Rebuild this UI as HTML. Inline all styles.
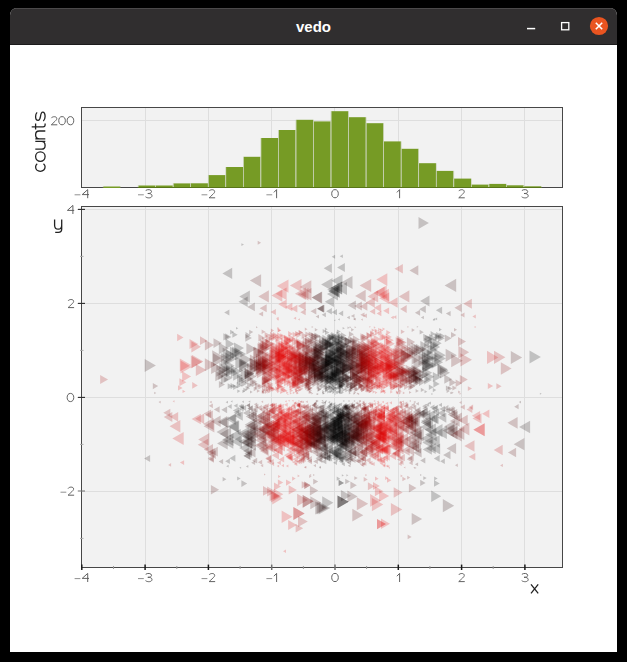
<!DOCTYPE html>
<html><head><meta charset="utf-8"><title>vedo</title>
<style>
html,body{margin:0;padding:0;background:#000;}
body{width:627px;height:662px;overflow:hidden;position:relative;font-family:"Liberation Sans",sans-serif;}
#win{position:absolute;left:10px;top:8px;width:607px;height:644px;background:#fff;border-radius:7px 7px 0 0;overflow:hidden;}
#tb{position:absolute;left:0;top:0;width:607px;height:36px;background:#302e2f;border-bottom:1px solid #1c1b1c;box-shadow:inset 0 1px 0 #4b494a;}
#tt{position:absolute;left:0;top:0;width:607px;height:36px;line-height:37px;text-align:center;color:#fff;font-weight:bold;font-size:15px;letter-spacing:0px;}
#plot{position:absolute;left:0;top:0;}
</style></head><body>
<div id="win"><div id="tb"></div><div id="tt">vedo</div></div>
<svg id="plot" width="627" height="662" viewBox="0 0 627 662">
<defs><clipPath id="cp"><rect x="82" y="207" width="480" height="360"/></clipPath></defs>
<!-- window buttons -->
<path d="M527 28.6H535.2" stroke="#fff" stroke-width="1.5"/>
<rect x="561.6" y="22.6" width="7.2" height="7.2" fill="none" stroke="#fff" stroke-width="1.3"/>
<circle cx="599" cy="26" r="9.1" fill="#e95420"/>
<path d="M595.8 22.8L602.2 29.2M602.2 22.8L595.8 29.2" stroke="#fff" stroke-width="1.6" fill="none"/>
<rect x="81.5" y="107.5" width="481" height="80" fill="#f2f2f2"/>
<line x1="145.5" y1="108" x2="145.5" y2="187" stroke="#dedede"/>
<line x1="208.5" y1="108" x2="208.5" y2="187" stroke="#dedede"/>
<line x1="271.5" y1="108" x2="271.5" y2="187" stroke="#dedede"/>
<line x1="334.5" y1="108" x2="334.5" y2="187" stroke="#dedede"/>
<line x1="398.5" y1="108" x2="398.5" y2="187" stroke="#dedede"/>
<line x1="461.5" y1="108" x2="461.5" y2="187" stroke="#dedede"/>
<line x1="524.5" y1="108" x2="524.5" y2="187" stroke="#dedede"/>
<line x1="82" y1="120.5" x2="562" y2="120.5" stroke="#dedede"/>
<rect x="81.5" y="107.5" width="481" height="80" fill="none" stroke="#474747"/>
<rect x="103.30" y="186.50" width="16.94" height="1.50" fill="#769b25"/>
<rect x="102.70" y="186.50" width="0.6" height="0.70" fill="#c3cdb0"/>
<rect x="120.24" y="186.50" width="0.6" height="0.70" fill="#c3cdb0"/>
<rect x="138.38" y="185.50" width="16.94" height="2.50" fill="#769b25"/>
<rect x="137.78" y="185.50" width="0.6" height="1.70" fill="#c3cdb0"/>
<rect x="155.32" y="185.50" width="0.6" height="1.70" fill="#c3cdb0"/>
<rect x="155.92" y="185.50" width="16.94" height="2.50" fill="#769b25"/>
<rect x="155.32" y="185.50" width="0.6" height="1.70" fill="#c3cdb0"/>
<rect x="172.86" y="185.50" width="0.6" height="1.70" fill="#c3cdb0"/>
<rect x="173.46" y="183.40" width="16.94" height="4.60" fill="#769b25"/>
<rect x="172.86" y="183.40" width="0.6" height="3.80" fill="#c3cdb0"/>
<rect x="190.40" y="183.40" width="0.6" height="3.80" fill="#c3cdb0"/>
<rect x="191.00" y="183.30" width="16.94" height="4.70" fill="#769b25"/>
<rect x="190.40" y="183.30" width="0.6" height="3.90" fill="#c3cdb0"/>
<rect x="207.94" y="183.30" width="0.6" height="3.90" fill="#c3cdb0"/>
<rect x="208.54" y="175.10" width="16.94" height="12.90" fill="#769b25"/>
<rect x="207.94" y="175.10" width="0.6" height="12.10" fill="#c3cdb0"/>
<rect x="225.48" y="175.10" width="0.6" height="12.10" fill="#c3cdb0"/>
<rect x="226.08" y="167.00" width="16.94" height="21.00" fill="#769b25"/>
<rect x="225.48" y="167.00" width="0.6" height="20.20" fill="#c3cdb0"/>
<rect x="243.02" y="167.00" width="0.6" height="20.20" fill="#c3cdb0"/>
<rect x="243.62" y="156.80" width="16.94" height="31.20" fill="#769b25"/>
<rect x="243.02" y="156.80" width="0.6" height="30.40" fill="#c3cdb0"/>
<rect x="260.56" y="156.80" width="0.6" height="30.40" fill="#c3cdb0"/>
<rect x="261.16" y="138.00" width="16.94" height="50.00" fill="#769b25"/>
<rect x="260.56" y="138.00" width="0.6" height="49.20" fill="#c3cdb0"/>
<rect x="278.10" y="138.00" width="0.6" height="49.20" fill="#c3cdb0"/>
<rect x="278.70" y="130.00" width="16.94" height="58.00" fill="#769b25"/>
<rect x="278.10" y="130.00" width="0.6" height="57.20" fill="#c3cdb0"/>
<rect x="295.64" y="130.00" width="0.6" height="57.20" fill="#c3cdb0"/>
<rect x="296.24" y="119.80" width="16.94" height="68.20" fill="#769b25"/>
<rect x="295.64" y="119.80" width="0.6" height="67.40" fill="#c3cdb0"/>
<rect x="313.18" y="119.80" width="0.6" height="67.40" fill="#c3cdb0"/>
<rect x="313.78" y="121.40" width="16.94" height="66.60" fill="#769b25"/>
<rect x="313.18" y="121.40" width="0.6" height="65.80" fill="#c3cdb0"/>
<rect x="330.72" y="121.40" width="0.6" height="65.80" fill="#c3cdb0"/>
<rect x="331.32" y="111.20" width="16.94" height="76.80" fill="#769b25"/>
<rect x="330.72" y="111.20" width="0.6" height="76.00" fill="#c3cdb0"/>
<rect x="348.26" y="111.20" width="0.6" height="76.00" fill="#c3cdb0"/>
<rect x="348.86" y="117.20" width="16.94" height="70.80" fill="#769b25"/>
<rect x="348.26" y="117.20" width="0.6" height="70.00" fill="#c3cdb0"/>
<rect x="365.80" y="117.20" width="0.6" height="70.00" fill="#c3cdb0"/>
<rect x="366.40" y="123.20" width="16.94" height="64.80" fill="#769b25"/>
<rect x="365.80" y="123.20" width="0.6" height="64.00" fill="#c3cdb0"/>
<rect x="383.34" y="123.20" width="0.6" height="64.00" fill="#c3cdb0"/>
<rect x="383.94" y="141.40" width="16.94" height="46.60" fill="#769b25"/>
<rect x="383.34" y="141.40" width="0.6" height="45.80" fill="#c3cdb0"/>
<rect x="400.88" y="141.40" width="0.6" height="45.80" fill="#c3cdb0"/>
<rect x="401.48" y="148.80" width="16.94" height="39.20" fill="#769b25"/>
<rect x="400.88" y="148.80" width="0.6" height="38.40" fill="#c3cdb0"/>
<rect x="418.42" y="148.80" width="0.6" height="38.40" fill="#c3cdb0"/>
<rect x="419.02" y="163.20" width="16.94" height="24.80" fill="#769b25"/>
<rect x="418.42" y="163.20" width="0.6" height="24.00" fill="#c3cdb0"/>
<rect x="435.96" y="163.20" width="0.6" height="24.00" fill="#c3cdb0"/>
<rect x="436.56" y="170.90" width="16.94" height="17.10" fill="#769b25"/>
<rect x="435.96" y="170.90" width="0.6" height="16.30" fill="#c3cdb0"/>
<rect x="453.50" y="170.90" width="0.6" height="16.30" fill="#c3cdb0"/>
<rect x="454.10" y="178.60" width="16.94" height="9.40" fill="#769b25"/>
<rect x="453.50" y="178.60" width="0.6" height="8.60" fill="#c3cdb0"/>
<rect x="471.04" y="178.60" width="0.6" height="8.60" fill="#c3cdb0"/>
<rect x="471.64" y="184.60" width="16.94" height="3.40" fill="#769b25"/>
<rect x="471.04" y="184.60" width="0.6" height="2.60" fill="#c3cdb0"/>
<rect x="488.58" y="184.60" width="0.6" height="2.60" fill="#c3cdb0"/>
<rect x="489.18" y="183.90" width="16.94" height="4.10" fill="#769b25"/>
<rect x="488.58" y="183.90" width="0.6" height="3.30" fill="#c3cdb0"/>
<rect x="506.12" y="183.90" width="0.6" height="3.30" fill="#c3cdb0"/>
<rect x="506.72" y="185.30" width="16.94" height="2.70" fill="#769b25"/>
<rect x="506.12" y="185.30" width="0.6" height="1.90" fill="#c3cdb0"/>
<rect x="523.66" y="185.30" width="0.6" height="1.90" fill="#c3cdb0"/>
<rect x="524.26" y="186.30" width="16.94" height="1.70" fill="#769b25"/>
<rect x="523.66" y="186.30" width="0.6" height="0.90" fill="#c3cdb0"/>
<rect x="541.20" y="186.30" width="0.6" height="0.90" fill="#c3cdb0"/>
<line x1="138.1" y1="187.5" x2="541.5" y2="187.5" stroke="#587519"/>
<g fill="none" stroke-width="0.95" stroke-linecap="butt" stroke-linejoin="miter"><path transform="translate(74.60 189.20) scale(1.000)" d="M0 5.6H5.8" stroke="#8a8a8a"/><path transform="translate(81.80 189.20) scale(1.000)" d="M5.9 9V0.4L0.4 5.4H7.2" stroke="#5a5a5a"/></g>
<g fill="none" stroke-width="0.95" stroke-linecap="butt" stroke-linejoin="miter"><path transform="translate(138.00 189.20) scale(1.000)" d="M0 5.6H5.8" stroke="#8a8a8a"/><path transform="translate(145.20 189.20) scale(1.000)" d="M0.5 1.3C2 0 6.3 0 6.3 2.3C6.3 4 4.5 4.3 2.6 4.3C4.8 4.3 6.8 4.8 6.8 6.5C6.8 9.2 2 9.2 0.3 7.6" stroke="#5a5a5a"/></g>
<g fill="none" stroke-width="0.95" stroke-linecap="butt" stroke-linejoin="miter"><path transform="translate(201.55 189.20) scale(1.000)" d="M0 5.6H5.8" stroke="#8a8a8a"/><path transform="translate(208.75 189.20) scale(1.000)" d="M0.4 1.9C1.2 0.2 5.9 -0.3 5.9 2.4C5.9 3.6 5 4.3 0.4 8.6H6.4" stroke="#5a5a5a"/></g>
<g fill="none" stroke-width="0.95" stroke-linecap="butt" stroke-linejoin="miter"><path transform="translate(266.40 189.20) scale(1.000)" d="M0 5.6H5.8" stroke="#8a8a8a"/><path transform="translate(273.60 189.20) scale(1.000)" d="M0.3 3.2L3 0.4V9" stroke="#5a5a5a"/></g>
<g fill="none" stroke-width="0.95" stroke-linecap="butt" stroke-linejoin="miter"><path transform="translate(331.25 189.20) scale(1.000)" d="M3.75 0.4C1.55 0.4 0.45 2.2 0.45 4.5C0.45 6.8 1.55 8.6 3.75 8.6C5.95 8.6 7.05 6.8 7.05 4.5C7.05 2.2 5.95 0.4 3.75 0.4Z" stroke="#5a5a5a"/></g>
<g fill="none" stroke-width="0.95" stroke-linecap="butt" stroke-linejoin="miter"><path transform="translate(396.60 189.20) scale(1.000)" d="M0.3 3.2L3 0.4V9" stroke="#5a5a5a"/></g>
<g fill="none" stroke-width="0.95" stroke-linecap="butt" stroke-linejoin="miter"><path transform="translate(458.35 189.20) scale(1.000)" d="M0.4 1.9C1.2 0.2 5.9 -0.3 5.9 2.4C5.9 3.6 5 4.3 0.4 8.6H6.4" stroke="#5a5a5a"/></g>
<g fill="none" stroke-width="0.95" stroke-linecap="butt" stroke-linejoin="miter"><path transform="translate(521.40 189.20) scale(1.000)" d="M0.5 1.3C2 0 6.3 0 6.3 2.3C6.3 4 4.5 4.3 2.6 4.3C4.8 4.3 6.8 4.8 6.8 6.5C6.8 9.2 2 9.2 0.3 7.6" stroke="#5a5a5a"/></g>
<g fill="none" stroke-width="0.95" stroke-linecap="butt" stroke-linejoin="miter"><path transform="translate(50.90 116.20) scale(1.000)" d="M0.4 1.9C1.2 0.2 5.9 -0.3 5.9 2.4C5.9 3.6 5 4.3 0.4 8.6H6.4" stroke="#5a5a5a"/><path transform="translate(58.30 116.20) scale(1.000)" d="M3.75 0.4C1.55 0.4 0.45 2.2 0.45 4.5C0.45 6.8 1.55 8.6 3.75 8.6C5.95 8.6 7.05 6.8 7.05 4.5C7.05 2.2 5.95 0.4 3.75 0.4Z" stroke="#5a5a5a"/><path transform="translate(66.70 116.20) scale(1.000)" d="M3.75 0.4C1.55 0.4 0.45 2.2 0.45 4.5C0.45 6.8 1.55 8.6 3.75 8.6C5.95 8.6 7.05 6.8 7.05 4.5C7.05 2.2 5.95 0.4 3.75 0.4Z" stroke="#5a5a5a"/></g>
<g transform="translate(45.1 171.6) rotate(-90)" fill="none" stroke="#222" stroke-width="1.3"><path d="M7.8 -1.6C6.9 -0.5 6 0 4.8 0C2.2 0 0.3 -2 0.3 -4.75C0.3 -7.5 2.2 -9.5 4.8 -9.5C6 -9.5 6.9 -9 7.8 -7.9"/><ellipse cx="15" cy="-4.75" rx="4.7" ry="4.75"/><path d="M22.4 -9.8V-3.6C22.4 -1.2 23.8 0 26.2 0C28.7 0 30.3 -1.4 30.3 -3.8M30.3 -9.8V0.2"/><path d="M32.7 0.2V-9.8M32.7 -5.6C32.7 -8 34.3 -9.5 36.8 -9.5C39.2 -9.5 40.6 -8.2 40.6 -5.9V0.2"/><path d="M44.8 -13.4V-2C44.8 -0.5 45.5 0 46.8 0H48.2M42.1 -9.5H48.2"/><path d="M59.2 -8C58 -9.2 56.8 -9.5 55.2 -9.5C52.8 -9.5 51.3 -8.5 51.3 -7C51.3 -5.5 52.5 -5 55.2 -4.6C58 -4.2 59.4 -3.8 59.4 -2.4C59.4 -0.8 57.8 0 55.2 0C53.2 0 51.8 -0.5 50.6 -1.8"/></g>
<rect x="81.5" y="206.5" width="481" height="361" fill="#f2f2f2"/>
<line x1="145.5" y1="207" x2="145.5" y2="567" stroke="#dedede"/>
<line x1="208.5" y1="207" x2="208.5" y2="567" stroke="#dedede"/>
<line x1="271.5" y1="207" x2="271.5" y2="567" stroke="#dedede"/>
<line x1="334.5" y1="207" x2="334.5" y2="567" stroke="#dedede"/>
<line x1="398.5" y1="207" x2="398.5" y2="567" stroke="#dedede"/>
<line x1="461.5" y1="207" x2="461.5" y2="567" stroke="#dedede"/>
<line x1="524.5" y1="207" x2="524.5" y2="567" stroke="#dedede"/>
<line x1="82" y1="209.5" x2="562" y2="209.5" stroke="#dedede"/>
<line x1="82" y1="303.5" x2="562" y2="303.5" stroke="#dedede"/>
<line x1="82" y1="397.5" x2="562" y2="397.5" stroke="#dedede"/>
<line x1="82" y1="491.5" x2="562" y2="491.5" stroke="#dedede"/>
<g fill-opacity="0.20" clip-path="url(#cp)">
<path d="M436.9 405.8V412.0L431.5 408.9z" fill="rgb(0,0,0)"/>
<path d="M344.9 462.2V466.2L341.5 464.2z" fill="rgb(11,0,0)"/>
<path d="M315.4 433.0V446.0L304.2 439.5z" fill="rgb(110,0,0)"/>
<path d="M371.0 415.5V426.8L361.3 421.1z" fill="rgb(153,0,0)"/>
<path d="M280.3 377.3V385.6L287.5 381.5z" fill="rgb(229,0,0)"/>
<path d="M366.4 418.1V430.1L356.0 424.1z" fill="rgb(117,0,0)"/>
<path d="M262.3 390.7V393.6L264.8 392.2z" fill="rgb(130,0,0)"/>
<path d="M333.7 337.7V347.3L342.1 342.5z" fill="rgb(1,0,0)"/>
<path d="M270.8 328.6V332.5L274.1 330.6z" fill="rgb(191,0,0)"/>
<path d="M397.4 431.8V444.9L386.1 438.3z" fill="rgb(217,0,0)"/>
<path d="M222.6 477.0V481.4L226.4 479.2z" fill="rgb(22,0,0)"/>
<path d="M341.8 474.2V476.6L343.9 475.4z" fill="rgb(10,0,0)"/>
<path d="M371.3 427.1V440.4L359.8 433.7z" fill="rgb(149,0,0)"/>
<path d="M282.2 359.4V372.4L293.4 365.9z" fill="rgb(228,0,0)"/>
<path d="M414.5 374.9V384.1L422.5 379.5z" fill="rgb(46,0,0)"/>
<path d="M344.3 407.7V415.2L337.8 411.5z" fill="rgb(6,0,0)"/>
<path d="M289.7 399.8V401.7L288.0 400.8z" fill="rgb(226,0,0)"/>
<path d="M311.7 423.3V436.4L300.4 429.9z" fill="rgb(137,0,0)"/>
<path d="M214.6 448.1V457.5L206.5 452.8z" fill="rgb(108,0,0)"/>
<path d="M283.0 388.9V392.6L286.2 390.8z" fill="rgb(229,0,0)"/>
<path d="M356.2 362.9V375.3L367.0 369.1z" fill="rgb(120,0,0)"/>
<path d="M365.0 425.3V438.6L353.5 431.9z" fill="rgb(102,0,0)"/>
<path d="M326.3 421.6V434.5L315.2 428.1z" fill="rgb(37,0,0)"/>
<path d="M301.6 436.5V448.9L290.8 442.7z" fill="rgb(201,0,0)"/>
<path d="M398.3 409.9V418.7L390.7 414.3z" fill="rgb(206,0,0)"/>
<path d="M415.8 376.4V385.0L423.3 380.7z" fill="rgb(40,0,0)"/>
<path d="M308.0 385.1V390.4L312.6 387.8z" fill="rgb(106,0,0)"/>
<path d="M332.9 389.0V392.7L336.1 390.8z" fill="rgb(0,0,0)"/>
<path d="M444.9 405.7V412.0L439.5 408.9z" fill="rgb(10,0,0)"/>
<path d="M381.9 410.4V419.5L374.1 415.0z" fill="rgb(218,0,0)"/>
<path d="M294.5 354.0V367.3L306.0 360.6z" fill="rgb(178,0,0)"/>
<path d="M261.7 350.5V363.7L273.1 357.1z" fill="rgb(158,0,0)"/>
<path d="M281.5 390.0V393.2L284.3 391.6z" fill="rgb(228,0,0)"/>
<path d="M212.9 410.5V419.6L205.0 415.0z" fill="rgb(120,0,0)"/>
<path d="M356.2 377.0V385.5L363.5 381.2z" fill="rgb(107,0,0)"/>
<path d="M291.3 419.4V431.7L280.6 425.5z" fill="rgb(229,0,0)"/>
<path d="M305.4 375.5V384.5L313.2 380.0z" fill="rgb(113,0,0)"/>
<path d="M355.5 355.9V369.1L367.0 362.5z" fill="rgb(117,0,0)"/>
<path d="M360.7 351.8V365.0L372.2 358.4z" fill="rgb(156,0,0)"/>
<path d="M416.8 325.9V327.7L418.4 326.8z" fill="rgb(51,0,0)"/>
<path d="M305.1 384.5V390.0L310.0 387.3z" fill="rgb(126,0,0)"/>
<path d="M421.9 346.2V358.8L432.7 352.5z" fill="rgb(8,0,0)"/>
<path d="M382.2 368.1V379.3L391.9 373.7z" fill="rgb(228,0,0)"/>
<path d="M359.4 382.8V389.0L364.8 385.9z" fill="rgb(124,0,0)"/>
<path d="M237.1 476.5V480.5L240.7 478.5z" fill="rgb(2,0,0)"/>
<path d="M332.8 440.2V451.8L322.6 446.0z" fill="rgb(9,0,0)"/>
<path d="M325.4 350.5V363.6L336.8 357.1z" fill="rgb(2,0,0)"/>
<path d="M400.6 474.6V477.2L402.8 475.9z" fill="rgb(164,0,0)"/>
<path d="M335.5 431.1V444.3L324.1 437.7z" fill="rgb(4,0,0)"/>
<path d="M324.9 378.5V386.4L331.7 382.4z" fill="rgb(7,0,0)"/>
<path d="M344.5 384.4V390.0L349.4 387.2z" fill="rgb(26,0,0)"/>
<path d="M359.8 448.9V458.0L351.9 453.5z" fill="rgb(78,0,0)"/>
<path d="M362.6 420.3V432.9L351.7 426.6z" fill="rgb(87,0,0)"/>
<path d="M380.4 436.1V448.6L369.6 442.3z" fill="rgb(207,0,0)"/>
<path d="M299.2 351.1V364.3L310.6 357.7z" fill="rgb(146,0,0)"/>
<path d="M317.6 387.4V391.8L321.4 389.6z" fill="rgb(44,0,0)"/>
<path d="M378.8 400.6V403.1L376.6 401.9z" fill="rgb(217,0,0)"/>
<path d="M276.4 387.8V392.0L280.0 389.9z" fill="rgb(217,0,0)"/>
<path d="M350.0 403.2V407.7L346.1 405.5z" fill="rgb(31,0,0)"/>
<path d="M439.7 455.0V461.9L433.8 458.5z" fill="rgb(1,0,0)"/>
<path d="M357.5 419.3V431.6L346.8 425.5z" fill="rgb(54,0,0)"/>
<path d="M358.8 404.6V410.1L354.0 407.4z" fill="rgb(82,0,0)"/>
<path d="M174.5 400.2V402.4L172.6 401.3z" fill="rgb(194,0,0)"/>
<path d="M294.2 371.0V381.4L303.3 376.2z" fill="rgb(187,0,0)"/>
<path d="M301.6 400.4V402.8L299.5 401.6z" fill="rgb(176,0,0)"/>
<path d="M402.0 401.9V405.4L399.0 403.7z" fill="rgb(173,0,0)"/>
<path d="M295.1 377.8V385.9L302.1 381.9z" fill="rgb(188,0,0)"/>
<path d="M334.0 296.4V307.0L324.8 301.7z" fill="rgb(5,0,0)"/>
<path d="M370.6 347.0V359.6L381.5 353.3z" fill="rgb(211,0,0)"/>
<path d="M295.0 403.0V407.3L291.3 405.2z" fill="rgb(214,0,0)"/>
<path d="M325.0 353.7V367.0L336.5 360.3z" fill="rgb(3,0,0)"/>
<path d="M397.1 423.9V437.0L385.8 430.5z" fill="rgb(218,0,0)"/>
<path d="M393.0 409.2V417.5L385.8 413.4z" fill="rgb(224,0,0)"/>
<path d="M249.9 354.5V367.8L261.4 361.2z" fill="rgb(73,0,0)"/>
<path d="M323.8 339.6V350.1L332.9 344.9z" fill="rgb(7,0,0)"/>
<path d="M245.5 332.1V338.4L251.0 335.3z" fill="rgb(29,0,0)"/>
<path d="M364.9 361.0V373.7L376.0 367.4z" fill="rgb(182,0,0)"/>
<path d="M306.9 404.8V410.3L302.1 407.6z" fill="rgb(149,0,0)"/>
<path d="M371.9 418.4V430.6L361.3 424.5z" fill="rgb(157,0,0)"/>
<path d="M309.1 450.7V459.2L301.7 455.0z" fill="rgb(142,0,0)"/>
<path d="M248.8 442.6V453.7L239.2 448.1z" fill="rgb(12,0,0)"/>
<path d="M396.3 415.4V426.6L386.6 421.0z" fill="rgb(218,0,0)"/>
<path d="M321.6 454.7V461.7L315.6 458.2z" fill="rgb(49,0,0)"/>
<path d="M341.4 376.3V385.0L348.9 380.6z" fill="rgb(18,0,0)"/>
<path d="M351.0 460.3V465.0L346.9 462.7z" fill="rgb(35,0,0)"/>
<path d="M338.6 404.8V410.3L333.7 407.5z" fill="rgb(0,0,0)"/>
<path d="M293.7 360.8V373.6L304.7 367.2z" fill="rgb(184,0,0)"/>
<path d="M331.2 363.8V376.0L341.8 369.9z" fill="rgb(0,0,0)"/>
<path d="M276.9 384.0V389.7L281.9 386.9z" fill="rgb(221,0,0)"/>
<path d="M306.5 378.2V386.2L313.4 382.2z" fill="rgb(108,0,0)"/>
<path d="M365.2 376.4V385.1L372.7 380.7z" fill="rgb(173,0,0)"/>
<path d="M227.7 437.3V449.6L217.1 443.5z" fill="rgb(31,0,0)"/>
<path d="M326.9 339.1V349.3L335.8 344.2z" fill="rgb(2,0,0)"/>
<path d="M346.2 404.2V409.4L341.8 406.8z" fill="rgb(14,0,0)"/>
<path d="M379.3 359.2V372.1L390.6 365.7z" fill="rgb(229,0,0)"/>
<path d="M350.2 370.3V381.0L359.4 375.7z" fill="rgb(71,0,0)"/>
<path d="M278.5 318.5V320.7L276.6 319.6z" fill="rgb(215,0,0)"/>
<path d="M349.3 458.0V463.7L344.4 460.9z" fill="rgb(25,0,0)"/>
<path d="M385.5 463.3V466.8L382.5 465.0z" fill="rgb(229,0,0)"/>
<path d="M250.0 390.4V393.4L252.7 391.9z" fill="rgb(45,0,0)"/>
<path d="M316.3 401.4V404.5L313.6 403.0z" fill="rgb(72,0,0)"/>
<path d="M359.4 379.6V387.1L365.9 383.3z" fill="rgb(128,0,0)"/>
<path d="M298.2 455.9V462.4L292.6 459.2z" fill="rgb(205,0,0)"/>
<path d="M368.6 405.2V411.1L363.5 408.2z" fill="rgb(153,0,0)"/>
<path d="M379.6 408.2V416.0L372.9 412.1z" fill="rgb(212,0,0)"/>
<path d="M233.2 370.2V380.8L242.4 375.5z" fill="rgb(1,0,0)"/>
<path d="M393.7 372.0V382.1L402.4 377.1z" fill="rgb(188,0,0)"/>
<path d="M342.2 413.1V423.5L333.3 418.3z" fill="rgb(1,0,0)"/>
<path d="M303.8 362.9V375.3L314.5 369.1z" fill="rgb(114,0,0)"/>
<path d="M345.0 374.1V383.6L353.2 378.8z" fill="rgb(36,0,0)"/>
<path d="M242.8 411.3V420.8L234.6 416.0z" fill="rgb(1,0,0)"/>
<path d="M226.0 349.3V362.3L237.3 355.8z" fill="rgb(2,0,0)"/>
<path d="M320.6 356.2V369.4L332.0 362.8z" fill="rgb(13,0,0)"/>
<path d="M345.8 343.7V355.6L356.1 349.6z" fill="rgb(46,0,0)"/>
<path d="M409.2 381.9V388.5L414.9 385.2z" fill="rgb(89,0,0)"/>
<path d="M274.1 462.1V466.1L270.7 464.1z" fill="rgb(190,0,0)"/>
<path d="M381.3 350.4V363.5L392.6 357.0z" fill="rgb(228,0,0)"/>
<path d="M270.7 423.5V436.5L259.4 430.0z" fill="rgb(142,0,0)"/>
<path d="M337.4 345.6V358.0L348.1 351.8z" fill="rgb(10,0,0)"/>
<path d="M302.2 423.4V436.5L290.9 430.0z" fill="rgb(199,0,0)"/>
<path d="M359.4 367.0V378.5L369.4 372.8z" fill="rgb(141,0,0)"/>
<path d="M231.7 404.0V409.1L227.4 406.5z" fill="rgb(6,0,0)"/>
<path d="M395.1 411.0V420.3L387.0 415.7z" fill="rgb(220,0,0)"/>
<path d="M244.5 368.8V379.8L254.1 374.3z" fill="rgb(34,0,0)"/>
<path d="M285.8 341.5V352.7L295.5 347.1z" fill="rgb(222,0,0)"/>
<path d="M275.3 345.0V357.3L285.9 351.2z" fill="rgb(224,0,0)"/>
<path d="M386.7 285.5V298.5L375.5 292.0z" fill="rgb(226,0,0)"/>
<path d="M334.8 367.3V378.7L344.7 373.0z" fill="rgb(3,0,0)"/>
<path d="M275.2 386.3V391.1L279.4 388.7z" fill="rgb(214,0,0)"/>
<path d="M304.6 403.8V408.7L300.3 406.3z" fill="rgb(163,0,0)"/>
<path d="M338.2 408.5V416.5L331.3 412.5z" fill="rgb(0,0,0)"/>
<path d="M418.5 352.1V365.4L430.0 358.8z" fill="rgb(18,0,0)"/>
<path d="M393.3 383.2V389.3L398.5 386.2z" fill="rgb(199,0,0)"/>
<path d="M303.3 357.4V370.6L314.7 364.0z" fill="rgb(115,0,0)"/>
<path d="M335.2 390.2V393.3L338.0 391.8z" fill="rgb(0,0,0)"/>
<path d="M417.0 439.4V451.3L406.8 445.4z" fill="rgb(90,0,0)"/>
<path d="M309.4 412.2V422.1L300.9 417.1z" fill="rgb(144,0,0)"/>
<path d="M261.6 329.5V334.0L265.5 331.7z" fill="rgb(130,0,0)"/>
<path d="M342.3 417.8V429.8L331.9 423.8z" fill="rgb(1,0,0)"/>
<path d="M368.2 428.9V442.2L356.7 435.6z" fill="rgb(127,0,0)"/>
<path d="M353.3 403.2V407.7L349.4 405.5z" fill="rgb(49,0,0)"/>
<path d="M361.0 388.1V392.1L364.5 390.1z" fill="rgb(129,0,0)"/>
<path d="M302.3 400.5V402.9L300.2 401.7z" fill="rgb(171,0,0)"/>
<path d="M287.9 428.7V442.0L276.4 435.4z" fill="rgb(227,0,0)"/>
<path d="M364.7 430.9V444.1L353.2 437.5z" fill="rgb(100,0,0)"/>
<path d="M408.4 375.3V384.4L416.2 379.8z" fill="rgb(87,0,0)"/>
<path d="M298.3 353.6V366.9L309.8 360.2z" fill="rgb(152,0,0)"/>
<path d="M237.3 389.4V392.9L240.4 391.1z" fill="rgb(2,0,0)"/>
<path d="M363.1 462.8V466.5L359.9 464.6z" fill="rgb(119,0,0)"/>
<path d="M374.5 328.5V332.3L377.8 330.4z" fill="rgb(212,0,0)"/>
<path d="M352.2 443.5V454.3L342.8 448.9z" fill="rgb(28,0,0)"/>
<path d="M394.1 381.5V388.3L400.0 384.9z" fill="rgb(193,0,0)"/>
<path d="M360.5 360.9V373.7L371.6 367.3z" fill="rgb(153,0,0)"/>
<path d="M263.0 486.0V495.8L271.6 490.9z" fill="rgb(158,0,0)"/>
<path d="M339.3 385.5V390.7L343.7 388.1z" fill="rgb(7,0,0)"/>
<path d="M343.8 410.6V419.7L335.9 415.1z" fill="rgb(4,0,0)"/>
<path d="M361.3 402.9V407.1L357.6 405.0z" fill="rgb(104,0,0)"/>
<path d="M280.7 385.2V390.4L285.3 387.8z" fill="rgb(228,0,0)"/>
<path d="M311.8 433.5V446.4L300.6 439.9z" fill="rgb(137,0,0)"/>
<path d="M385.3 458.6V464.0L380.6 461.3z" fill="rgb(229,0,0)"/>
<path d="M309.8 435.4V448.0L298.9 441.7z" fill="rgb(150,0,0)"/>
<path d="M384.6 286.6V299.4L373.4 293.0z" fill="rgb(221,0,0)"/>
<path d="M313.8 425.8V439.0L302.3 432.4z" fill="rgb(123,0,0)"/>
<path d="M225.6 338.8V348.9L234.4 343.9z" fill="rgb(5,0,0)"/>
<path d="M351.9 376.5V385.1L359.4 380.8z" fill="rgb(76,0,0)"/>
<path d="M318.3 446.4V456.3L309.7 451.4z" fill="rgb(79,0,0)"/>
<path d="M344.9 336.8V345.9L352.8 341.3z" fill="rgb(35,0,0)"/>
<path d="M290.8 430.6V443.8L279.3 437.2z" fill="rgb(229,0,0)"/>
<path d="M381.1 389.3V392.8L384.2 391.0z" fill="rgb(228,0,0)"/>
<path d="M300.4 422.2V435.1L289.2 428.6z" fill="rgb(207,0,0)"/>
<path d="M351.5 426.3V439.5L340.0 432.9z" fill="rgb(21,0,0)"/>
<path d="M305.0 356.1V369.3L316.5 362.7z" fill="rgb(102,0,0)"/>
<path d="M279.6 417.9V429.9L269.2 423.9z" fill="rgb(201,0,0)"/>
<path d="M294.3 351.7V364.9L305.8 358.3z" fill="rgb(179,0,0)"/>
<path d="M432.8 371.9V382.1L441.6 377.0z" fill="rgb(1,0,0)"/>
<path d="M367.5 367.9V379.2L377.2 373.6z" fill="rgb(193,0,0)"/>
<path d="M332.1 335.2V343.5L339.3 339.4z" fill="rgb(0,0,0)"/>
<path d="M401.0 365.7V377.5L411.3 371.6z" fill="rgb(133,0,0)"/>
<path d="M212.2 350.2V363.3L223.6 356.8z" fill="rgb(57,0,0)"/>
<path d="M427.6 335.5V344.0L434.9 339.8z" fill="rgb(1,0,0)"/>
<path d="M388.9 405.2V411.0L383.9 408.1z" fill="rgb(229,0,0)"/>
<path d="M363.5 440.0V451.7L353.3 445.9z" fill="rgb(96,0,0)"/>
<path d="M399.1 390.2V393.4L401.8 391.8z" fill="rgb(173,0,0)"/>
<path d="M351.2 355.8V369.0L362.7 362.4z" fill="rgb(86,0,0)"/>
<path d="M365.2 449.9V458.7L357.6 454.3z" fill="rgb(119,0,0)"/>
<path d="M313.6 366.7V378.3L323.7 372.5z" fill="rgb(49,0,0)"/>
<path d="M280.9 460.4V465.1L276.8 462.7z" fill="rgb(219,0,0)"/>
<path d="M318.7 501.4V514.6L330.3 508.0z" fill="rgb(19,0,0)"/>
<path d="M333.4 411.6V421.2L325.1 416.4z" fill="rgb(5,0,0)"/>
<path d="M339.6 284.8V297.8L328.4 291.3z" fill="rgb(0,0,0)"/>
<path d="M371.4 411.4V420.9L363.2 416.1z" fill="rgb(162,0,0)"/>
<path d="M259.8 339.3V349.6L268.7 344.4z" fill="rgb(136,0,0)"/>
<path d="M286.0 479.5V485.7L291.4 482.6z" fill="rgb(227,0,0)"/>
<path d="M313.8 340.5V351.4L323.2 346.0z" fill="rgb(50,0,0)"/>
<path d="M360.6 359.4V372.4L371.9 365.9z" fill="rgb(154,0,0)"/>
<path d="M274.3 349.9V363.0L285.6 356.5z" fill="rgb(222,0,0)"/>
<path d="M450.2 407.0V414.0L444.1 410.5z" fill="rgb(29,0,0)"/>
<path d="M389.6 444.8V455.2L380.6 450.0z" fill="rgb(229,0,0)"/>
<path d="M366.6 337.8V347.4L374.9 342.6z" fill="rgb(184,0,0)"/>
<path d="M227.2 416.0V427.4L217.3 421.7z" fill="rgb(32,0,0)"/>
<path d="M307.8 373.6V383.2L316.1 378.4z" fill="rgb(94,0,0)"/>
<path d="M220.8 375.0V384.2L228.7 379.6z" fill="rgb(21,0,0)"/>
<path d="M361.1 356.2V369.5L372.5 362.9z" fill="rgb(158,0,0)"/>
<path d="M458.1 390.5V393.5L460.7 392.0z" fill="rgb(108,0,0)"/>
<path d="M318.1 363.7V376.0L328.7 369.8z" fill="rgb(24,0,0)"/>
<path d="M363.9 383.3V389.4L369.1 386.4z" fill="rgb(156,0,0)"/>
<path d="M337.4 373.9V383.4L345.7 378.6z" fill="rgb(7,0,0)"/>
<path d="M393.0 373.6V383.2L401.3 378.4z" fill="rgb(193,0,0)"/>
<path d="M263.3 364.7V376.8L273.7 370.8z" fill="rgb(166,0,0)"/>
<path d="M350.4 378.2V386.2L357.4 382.2z" fill="rgb(65,0,0)"/>
<path d="M377.0 518.9V529.3L386.0 524.1z" fill="rgb(227,0,0)"/>
<path d="M410.8 399.9V401.9L409.1 400.9z" fill="rgb(104,0,0)"/>
<path d="M335.9 445.6V455.8L327.1 450.7z" fill="rgb(2,0,0)"/>
<path d="M351.1 328.0V331.4L354.1 329.7z" fill="rgb(56,0,0)"/>
<path d="M284.4 432.3V445.4L273.1 438.8z" fill="rgb(219,0,0)"/>
<path d="M457.5 422.7V435.7L446.2 429.2z" fill="rgb(55,0,0)"/>
<path d="M340.3 391.6V394.2L342.5 392.9z" fill="rgb(7,0,0)"/>
<path d="M286.2 361.8V374.4L297.1 368.1z" fill="rgb(219,0,0)"/>
<path d="M308.5 429.9V443.2L297.0 436.6z" fill="rgb(161,0,0)"/>
<path d="M382.9 372.6V382.5L391.5 377.5z" fill="rgb(228,0,0)"/>
<path d="M336.9 329.4V333.8L340.8 331.6z" fill="rgb(2,0,0)"/>
<path d="M235.1 347.5V360.3L246.2 353.9z" fill="rgb(4,0,0)"/>
<path d="M315.0 421.8V434.7L303.8 428.3z" fill="rgb(113,0,0)"/>
<path d="M338.7 390.3V393.4L341.3 391.9z" fill="rgb(4,0,0)"/>
<path d="M357.4 413.7V424.3L348.2 419.0z" fill="rgb(58,0,0)"/>
<path d="M363.1 383.0V389.2L368.4 386.1z" fill="rgb(151,0,0)"/>
<path d="M267.4 390.5V393.5L270.1 392.0z" fill="rgb(167,0,0)"/>
<path d="M308.8 356.6V369.9L320.3 363.3z" fill="rgb(75,0,0)"/>
<path d="M382.7 389.0V392.7L385.9 390.8z" fill="rgb(229,0,0)"/>
<path d="M305.8 466.1V468.4L303.8 467.2z" fill="rgb(147,0,0)"/>
<path d="M314.1 428.3V441.6L302.6 435.0z" fill="rgb(120,0,0)"/>
<path d="M411.6 364.4V376.5L422.1 370.4z" fill="rgb(56,0,0)"/>
<path d="M276.7 374.4V383.8L284.8 379.1z" fill="rgb(224,0,0)"/>
<path d="M289.9 349.7V362.8L301.2 356.3z" fill="rgb(204,0,0)"/>
<path d="M309.9 485.7V495.5L318.3 490.6z" fill="rgb(78,0,0)"/>
<path d="M334.3 365.3V377.2L344.7 371.2z" fill="rgb(3,0,0)"/>
<path d="M281.9 434.6V447.4L270.9 441.0z" fill="rgb(210,0,0)"/>
<path d="M389.4 292.3V304.1L379.2 298.2z" fill="rgb(229,0,0)"/>
<path d="M213.6 418.0V430.0L203.2 424.0z" fill="rgb(124,0,0)"/>
<path d="M312.6 379.5V387.0L319.2 383.2z" fill="rgb(66,0,0)"/>
<path d="M239.4 359.7V372.6L250.6 366.1z" fill="rgb(16,0,0)"/>
<path d="M421.8 357.4V370.5L433.2 363.9z" fill="rgb(8,0,0)"/>
<path d="M338.3 431.0V444.2L326.9 437.6z" fill="rgb(1,0,0)"/>
<path d="M396.5 354.3V367.6L408.0 361.0z" fill="rgb(161,0,0)"/>
<path d="M368.3 406.1V412.5L362.7 409.3z" fill="rgb(149,0,0)"/>
<path d="M325.9 312.4V317.2L321.7 314.8z" fill="rgb(22,0,0)"/>
<path d="M334.0 354.0V367.3L345.5 360.6z" fill="rgb(4,0,0)"/>
<path d="M320.9 424.5V437.7L309.5 431.1z" fill="rgb(71,0,0)"/>
<path d="M293.1 374.7V383.9L301.1 379.3z" fill="rgb(196,0,0)"/>
<path d="M320.6 466.8V468.7L319.0 467.8z" fill="rgb(42,0,0)"/>
<path d="M390.8 426.7V440.0L379.3 433.4z" fill="rgb(229,0,0)"/>
<path d="M257.4 419.3V431.7L246.7 425.5z" fill="rgb(49,0,0)"/>
<path d="M365.0 371.4V381.7L373.9 376.6z" fill="rgb(176,0,0)"/>
<path d="M320.8 356.7V369.9L332.2 363.3z" fill="rgb(12,0,0)"/>
<path d="M227.7 383.2V389.3L233.0 386.2z" fill="rgb(4,0,0)"/>
<path d="M302.5 436.6V449.0L291.7 442.8z" fill="rgb(196,0,0)"/>
<path d="M264.0 473.6V475.6L265.6 474.6z" fill="rgb(140,0,0)"/>
<path d="M366.6 406.0V412.4L361.0 409.2z" fill="rgb(137,0,0)"/>
<path d="M342.6 347.5V360.3L353.7 353.9z" fill="rgb(31,0,0)"/>
<path d="M327.3 390.3V393.4L330.0 391.8z" fill="rgb(7,0,0)"/>
<path d="M262.1 358.2V371.3L273.5 364.7z" fill="rgb(161,0,0)"/>
<path d="M224.3 372.9V382.7L232.9 377.8z" fill="rgb(8,0,0)"/>
<path d="M365.4 403.3V407.8L361.5 405.5z" fill="rgb(134,0,0)"/>
<path d="M366.9 413.2V423.5L358.0 418.3z" fill="rgb(126,0,0)"/>
<path d="M276.3 425.4V438.6L264.8 432.0z" fill="rgb(179,0,0)"/>
<path d="M274.9 366.3V378.0L285.0 372.2z" fill="rgb(222,0,0)"/>
<path d="M274.7 428.4V441.7L263.2 435.1z" fill="rgb(169,0,0)"/>
<path d="M322.7 329.1V333.3L326.3 331.2z" fill="rgb(19,0,0)"/>
<path d="M323.0 392.2V394.5L325.0 393.3z" fill="rgb(21,0,0)"/>
<path d="M270.3 409.9V418.6L262.7 414.2z" fill="rgb(152,0,0)"/>
<path d="M398.7 406.2V412.8L393.1 409.5z" fill="rgb(199,0,0)"/>
<path d="M389.0 432.3V445.3L377.7 438.8z" fill="rgb(229,0,0)"/>
<path d="M298.8 409.0V417.2L291.7 413.1z" fill="rgb(205,0,0)"/>
<path d="M335.2 341.3V352.5L344.8 346.9z" fill="rgb(4,0,0)"/>
<path d="M337.2 430.0V443.2L325.7 436.6z" fill="rgb(2,0,0)"/>
<path d="M422.5 359.3V372.3L433.7 365.8z" fill="rgb(7,0,0)"/>
<path d="M413.5 356.9V370.1L424.9 363.5z" fill="rgb(42,0,0)"/>
<path d="M330.4 365.5V377.4L340.7 371.5z" fill="rgb(0,0,0)"/>
<path d="M403.0 408.8V417.0L396.0 412.9z" fill="rgb(179,0,0)"/>
<path d="M331.9 308.0V314.6L326.1 311.3z" fill="rgb(6,0,0)"/>
<path d="M369.0 372.7V382.6L377.6 377.6z" fill="rgb(198,0,0)"/>
<path d="M415.5 400.7V403.3L413.3 402.0z" fill="rgb(73,0,0)"/>
<path d="M346.3 437.9V450.1L335.8 444.0z" fill="rgb(6,0,0)"/>
<path d="M263.2 355.5V368.8L274.6 362.2z" fill="rgb(168,0,0)"/>
<path d="M442.5 424.1V437.2L431.1 430.6z" fill="rgb(1,0,0)"/>
<path d="M279.0 420.5V433.1L268.1 426.8z" fill="rgb(196,0,0)"/>
<path d="M292.1 476.5V480.7L295.7 478.6z" fill="rgb(211,0,0)"/>
<path d="M360.8 458.6V464.0L356.1 461.3z" fill="rgb(96,0,0)"/>
<path d="M305.0 337.8V347.4L313.3 342.6z" fill="rgb(114,0,0)"/>
<path d="M337.0 309.1V315.3L331.6 312.2z" fill="rgb(0,0,0)"/>
<path d="M364.9 381.3V388.1L370.8 384.7z" fill="rgb(165,0,0)"/>
<path d="M308.7 355.5V368.7L320.2 362.1z" fill="rgb(76,0,0)"/>
<path d="M240.4 352.8V366.1L251.9 359.5z" fill="rgb(20,0,0)"/>
<path d="M427.5 343.8V355.8L437.8 349.8z" fill="rgb(0,0,0)"/>
<path d="M219.6 406.2V412.7L213.9 409.4z" fill="rgb(64,0,0)"/>
<path d="M395.9 365.7V377.6L406.2 371.7z" fill="rgb(169,0,0)"/>
<path d="M286.5 336.2V345.0L294.1 340.6z" fill="rgb(223,0,0)"/>
<path d="M287.2 349.1V362.2L298.4 355.6z" fill="rgb(216,0,0)"/>
<path d="M289.2 381.5V388.2L295.0 384.8z" fill="rgb(218,0,0)"/>
<path d="M421.6 448.1V457.5L413.4 452.8z" fill="rgb(52,0,0)"/>
<path d="M451.2 354.1V367.3L462.8 360.7z" fill="rgb(90,0,0)"/>
<path d="M276.5 408.0V415.6L269.9 411.8z" fill="rgb(195,0,0)"/>
<path d="M367.9 482.2V490.2L374.7 486.2z" fill="rgb(187,0,0)"/>
<path d="M442.8 499.1V512.3L454.2 505.7z" fill="rgb(36,0,0)"/>
<path d="M213.5 338.2V348.1L222.0 343.1z" fill="rgb(58,0,0)"/>
<path d="M252.2 449.0V458.1L244.4 453.6z" fill="rgb(29,0,0)"/>
<path d="M387.8 442.3V453.4L378.2 447.9z" fill="rgb(229,0,0)"/>
<path d="M280.4 333.2V340.3L286.5 336.8z" fill="rgb(229,0,0)"/>
<path d="M277.4 367.1V378.6L287.3 372.8z" fill="rgb(227,0,0)"/>
<path d="M297.5 426.6V439.9L285.9 433.3z" fill="rgb(219,0,0)"/>
<path d="M294.6 356.2V369.5L306.0 362.9z" fill="rgb(177,0,0)"/>
<path d="M365.4 474.0V476.2L367.2 475.1z" fill="rgb(155,0,0)"/>
<path d="M282.5 410.2V419.1L274.8 414.6z" fill="rgb(219,0,0)"/>
<path d="M346.1 351.2V364.4L357.5 357.8z" fill="rgb(51,0,0)"/>
<path d="M336.8 382.4V388.8L342.4 385.6z" fill="rgb(3,0,0)"/>
<path d="M349.6 412.1V422.0L341.0 417.0z" fill="rgb(19,0,0)"/>
<path d="M331.7 422.8V435.7L320.5 429.3z" fill="rgb(14,0,0)"/>
<path d="M288.7 485.2V494.6L296.9 489.9z" fill="rgb(216,0,0)"/>
<path d="M302.7 417.2V429.0L292.4 423.1z" fill="rgb(194,0,0)"/>
<path d="M286.7 412.7V422.8L277.9 417.7z" fill="rgb(227,0,0)"/>
<path d="M374.6 462.1V466.1L371.2 464.1z" fill="rgb(196,0,0)"/>
<path d="M308.7 331.5V337.5L313.8 334.5z" fill="rgb(99,0,0)"/>
<path d="M376.9 383.5V389.4L382.0 386.5z" fill="rgb(223,0,0)"/>
<path d="M266.9 439.1V451.1L256.5 445.1z" fill="rgb(117,0,0)"/>
<path d="M518.6 404.1V409.3L514.2 406.7z" fill="rgb(55,0,0)"/>
<path d="M294.3 419.0V431.3L283.7 425.2z" fill="rgb(226,0,0)"/>
<path d="M323.7 304.8V312.6L316.9 308.7z" fill="rgb(39,0,0)"/>
<path d="M433.3 436.3V448.8L422.4 442.5z" fill="rgb(7,0,0)"/>
<path d="M329.4 337.6V347.2L337.7 342.4z" fill="rgb(0,0,0)"/>
<path d="M244.8 373.9V383.4L253.1 378.7z" fill="rgb(32,0,0)"/>
<path d="M314.2 372.5V382.5L322.9 377.5z" fill="rgb(49,0,0)"/>
<path d="M279.0 451.1V459.4L271.7 455.2z" fill="rgb(206,0,0)"/>
<path d="M277.3 351.4V364.6L288.8 358.0z" fill="rgb(228,0,0)"/>
<path d="M326.6 443.1V454.0L317.1 448.5z" fill="rgb(31,0,0)"/>
<path d="M282.0 416.8V428.5L271.9 422.7z" fill="rgb(212,0,0)"/>
<path d="M343.7 456.4V462.7L338.2 459.6z" fill="rgb(6,0,0)"/>
<path d="M299.1 407.6V415.1L292.7 411.3z" fill="rgb(202,0,0)"/>
<path d="M445.6 348.7V361.7L456.9 355.2z" fill="rgb(51,0,0)"/>
<path d="M385.0 412.2V422.1L376.4 417.1z" fill="rgb(225,0,0)"/>
<path d="M310.7 334.2V341.9L317.3 338.1z" fill="rgb(79,0,0)"/>
<path d="M394.5 344.9V357.1L405.1 351.0z" fill="rgb(177,0,0)"/>
<path d="M289.1 433.1V446.0L277.9 439.5z" fill="rgb(229,0,0)"/>
<path d="M401.5 436.7V449.1L390.7 442.9z" fill="rgb(198,0,0)"/>
<path d="M403.3 434.7V447.5L392.3 441.1z" fill="rgb(189,0,0)"/>
<path d="M440.2 443.6V454.4L430.9 449.0z" fill="rgb(0,0,0)"/>
<path d="M238.9 376.4V385.0L246.4 380.7z" fill="rgb(8,0,0)"/>
<path d="M321.6 429.4V442.7L310.1 436.1z" fill="rgb(66,0,0)"/>
<path d="M300.6 445.4V455.7L291.7 450.5z" fill="rgb(201,0,0)"/>
<path d="M293.4 506.9V519.9L304.6 513.4z" fill="rgb(185,0,0)"/>
<path d="M313.7 373.9V383.4L321.9 378.6z" fill="rgb(54,0,0)"/>
<path d="M357.3 413.9V424.5L348.0 419.2z" fill="rgb(57,0,0)"/>
<path d="M386.1 427.0V440.3L374.6 433.7z" fill="rgb(225,0,0)"/>
<path d="M311.9 332.9V339.8L317.8 336.4z" fill="rgb(73,0,0)"/>
<path d="M385.3 442.1V453.3L375.6 447.7z" fill="rgb(225,0,0)"/>
<path d="M353.4 392.6V394.7L355.3 393.7z" fill="rgb(68,0,0)"/>
<path d="M450.6 310.9V316.3L445.8 313.6z" fill="rgb(34,0,0)"/>
<path d="M334.0 366.1V377.9L344.2 372.0z" fill="rgb(3,0,0)"/>
<path d="M285.0 364.7V376.8L295.4 370.7z" fill="rgb(223,0,0)"/>
<path d="M279.4 412.2V422.1L270.8 417.2z" fill="rgb(205,0,0)"/>
<path d="M398.4 376.5V385.2L405.8 380.8z" fill="rgb(162,0,0)"/>
<path d="M286.9 422.8V435.8L275.6 429.3z" fill="rgb(225,0,0)"/>
<path d="M317.9 430.0V443.2L306.5 436.6z" fill="rgb(92,0,0)"/>
<path d="M401.6 432.4V445.5L390.3 439.0z" fill="rgb(199,0,0)"/>
<path d="M349.6 326.2V328.2L351.4 327.2z" fill="rgb(44,0,0)"/>
<path d="M384.4 429.7V442.9L372.9 436.3z" fill="rgb(220,0,0)"/>
<path d="M408.5 372.0V382.1L417.3 377.0z" fill="rgb(83,0,0)"/>
<path d="M343.0 430.2V443.4L331.6 436.8z" fill="rgb(1,0,0)"/>
<path d="M172.3 412.1V421.9L163.7 417.0z" fill="rgb(158,0,0)"/>
<path d="M299.6 402.7V406.8L296.1 404.7z" fill="rgb(192,0,0)"/>
<path d="M319.7 341.3V352.4L329.4 346.9z" fill="rgb(19,0,0)"/>
<path d="M323.4 408.9V417.1L316.3 413.0z" fill="rgb(42,0,0)"/>
<path d="M340.3 403.1V407.5L336.5 405.3z" fill="rgb(2,0,0)"/>
<path d="M281.2 344.9V357.2L291.8 351.1z" fill="rgb(229,0,0)"/>
<path d="M378.6 437.0V449.4L367.9 443.2z" fill="rgb(198,0,0)"/>
<path d="M411.5 373.2V383.0L419.9 378.1z" fill="rgb(64,0,0)"/>
<path d="M262.2 459.7V464.7L257.9 462.2z" fill="rgb(105,0,0)"/>
<path d="M342.5 274.4V287.2L331.3 280.8z" fill="rgb(0,0,0)"/>
<path d="M305.6 455.2V462.0L299.7 458.6z" fill="rgb(162,0,0)"/>
<path d="M192.2 382.1V388.7L197.8 385.4z" fill="rgb(209,0,0)"/>
<path d="M475.8 314.4V318.4L472.4 316.4z" fill="rgb(205,0,0)"/>
<path d="M261.0 340.2V350.9L270.2 345.5z" fill="rgb(145,0,0)"/>
<path d="M341.9 416.1V427.6L331.9 421.8z" fill="rgb(0,0,0)"/>
<path d="M341.4 408.1V415.8L334.7 411.9z" fill="rgb(1,0,0)"/>
<path d="M386.3 330.1V335.2L390.7 332.6z" fill="rgb(226,0,0)"/>
<path d="M301.3 375.1V384.2L309.2 379.7z" fill="rgb(143,0,0)"/>
<path d="M281.6 510.6V523.0L292.4 516.8z" fill="rgb(229,0,0)"/>
<path d="M412.1 410.3V419.3L404.3 414.8z" fill="rgb(117,0,0)"/>
<path d="M316.8 438.8V450.8L306.4 444.8z" fill="rgb(96,0,0)"/>
<path d="M328.0 452.8V460.5L321.3 456.7z" fill="rgb(19,0,0)"/>
<path d="M256.9 389.3V392.8L260.0 391.1z" fill="rgb(93,0,0)"/>
<path d="M318.3 424.7V437.9L306.9 431.3z" fill="rgb(89,0,0)"/>
<path d="M376.0 408.4V416.3L369.2 412.4z" fill="rgb(194,0,0)"/>
<path d="M365.3 405.1V410.8L360.3 407.9z" fill="rgb(129,0,0)"/>
<path d="M324.7 407.6V415.1L318.3 411.3z" fill="rgb(33,0,0)"/>
<path d="M510.8 350.9V364.1L522.2 357.5z" fill="rgb(55,0,0)"/>
<path d="M296.0 338.1V347.9L304.5 343.0z" fill="rgb(178,0,0)"/>
<path d="M339.6 405.9V412.3L334.1 409.1z" fill="rgb(0,0,0)"/>
<path d="M402.8 391.6V394.2L405.0 392.9z" fill="rgb(149,0,0)"/>
<path d="M390.6 371.2V381.6L399.6 376.4z" fill="rgb(203,0,0)"/>
<path d="M354.7 421.9V434.7L343.6 428.3z" fill="rgb(36,0,0)"/>
<path d="M421.0 442.4V453.5L411.3 448.0z" fill="rgb(61,0,0)"/>
<path d="M312.6 343.1V354.8L322.7 349.0z" fill="rgb(55,0,0)"/>
<path d="M400.2 373.3V383.0L408.6 378.1z" fill="rgb(145,0,0)"/>
<path d="M374.8 297.3V307.7L365.8 302.5z" fill="rgb(181,0,0)"/>
<path d="M342.9 254.4V258.0L339.7 256.2z" fill="rgb(6,0,0)"/>
<path d="M421.6 426.4V439.7L410.1 433.1z" fill="rgb(62,0,0)"/>
<path d="M376.4 362.7V375.1L387.2 368.9z" fill="rgb(227,0,0)"/>
<path d="M303.2 437.9V450.1L292.6 444.0z" fill="rgb(192,0,0)"/>
<path d="M379.1 490.2V501.8L389.1 496.0z" fill="rgb(229,0,0)"/>
<path d="M364.2 343.3V355.1L374.4 349.2z" fill="rgb(175,0,0)"/>
<path d="M267.6 370.4V381.0L276.8 375.7z" fill="rgb(189,0,0)"/>
<path d="M349.8 315.8V319.2L346.8 317.5z" fill="rgb(32,0,0)"/>
<path d="M296.7 409.9V418.7L289.1 414.3z" fill="rgb(215,0,0)"/>
<path d="M367.3 423.3V436.3L356.0 429.8z" fill="rgb(121,0,0)"/>
<path d="M328.6 333.6V340.9L335.0 337.3z" fill="rgb(1,0,0)"/>
<path d="M342.7 455.8V462.4L337.1 459.1z" fill="rgb(4,0,0)"/>
<path d="M326.0 452.3V460.2L319.2 456.3z" fill="rgb(28,0,0)"/>
<path d="M227.9 425.5V438.7L216.5 432.1z" fill="rgb(32,0,0)"/>
<path d="M300.3 402.7V406.8L296.8 404.7z" fill="rgb(188,0,0)"/>
<path d="M384.0 391.3V394.0L386.3 392.7z" fill="rgb(229,0,0)"/>
<path d="M395.2 410.5V419.6L387.4 415.1z" fill="rgb(219,0,0)"/>
<path d="M381.7 403.0V407.4L378.0 405.2z" fill="rgb(224,0,0)"/>
<path d="M370.6 457.3V463.3L365.5 460.3z" fill="rgb(167,0,0)"/>
<path d="M292.5 405.6V411.7L287.2 408.6z" fill="rgb(224,0,0)"/>
<path d="M283.3 354.4V367.7L294.8 361.0z" fill="rgb(226,0,0)"/>
<path d="M307.7 426.1V439.4L296.2 432.7z" fill="rgb(167,0,0)"/>
<path d="M360.9 369.3V380.2L370.3 374.8z" fill="rgb(150,0,0)"/>
<path d="M332.4 333.7V341.0L338.8 337.4z" fill="rgb(0,0,0)"/>
<path d="M213.0 444.1V454.7L203.8 449.4z" fill="rgb(125,0,0)"/>
<path d="M342.8 421.4V434.2L331.8 427.8z" fill="rgb(1,0,0)"/>
<path d="M349.8 406.3V412.9L344.1 409.6z" fill="rgb(26,0,0)"/>
<path d="M311.7 442.2V453.3L302.0 447.7z" fill="rgb(131,0,0)"/>
<path d="M371.2 278.9V292.1L359.6 285.5z" fill="rgb(148,0,0)"/>
<path d="M386.7 355.6V368.9L398.2 362.3z" fill="rgb(215,0,0)"/>
<path d="M304.7 351.2V364.4L316.2 357.8z" fill="rgb(105,0,0)"/>
<path d="M355.8 412.7V422.9L347.0 417.8z" fill="rgb(49,0,0)"/>
<path d="M392.0 401.3V404.4L389.4 402.8z" fill="rgb(221,0,0)"/>
<path d="M278.9 360.4V373.3L290.0 366.9z" fill="rgb(229,0,0)"/>
<path d="M392.3 412.0V421.8L383.8 416.9z" fill="rgb(227,0,0)"/>
<path d="M311.5 424.3V437.4L300.1 430.8z" fill="rgb(139,0,0)"/>
<path d="M396.7 413.6V424.2L387.5 418.9z" fill="rgb(216,0,0)"/>
<path d="M387.4 420.6V433.2L376.5 426.9z" fill="rgb(228,0,0)"/>
<path d="M469.4 422.5V435.5L458.2 429.0z" fill="rgb(141,0,0)"/>
<path d="M366.1 455.5V462.2L360.4 458.9z" fill="rgb(132,0,0)"/>
<path d="M368.6 381.1V388.0L374.6 384.5z" fill="rgb(189,0,0)"/>
<path d="M325.2 357.9V371.0L336.6 364.4z" fill="rgb(3,0,0)"/>
<path d="M303.7 363.6V375.9L314.3 369.8z" fill="rgb(116,0,0)"/>
<path d="M351.3 359.2V372.1L362.5 365.7z" fill="rgb(85,0,0)"/>
<path d="M319.0 314.7V318.5L315.6 316.6z" fill="rgb(57,0,0)"/>
<path d="M360.2 386.2V391.0L364.4 388.6z" fill="rgb(125,0,0)"/>
<path d="M264.6 332.0V338.3L270.1 335.1z" fill="rgb(158,0,0)"/>
<path d="M267.6 422.3V435.3L256.4 428.8z" fill="rgb(119,0,0)"/>
<path d="M439.5 332.7V339.4L445.3 336.1z" fill="rgb(11,0,0)"/>
<path d="M307.4 413.4V423.8L298.4 418.6z" fill="rgb(160,0,0)"/>
<path d="M346.2 373.2V383.0L354.6 378.1z" fill="rgb(43,0,0)"/>
<path d="M300.3 403.7V408.5L296.1 406.1z" fill="rgb(190,0,0)"/>
<path d="M390.6 419.8V432.3L379.8 426.1z" fill="rgb(229,0,0)"/>
<path d="M409.4 290.3V302.5L398.8 296.4z" fill="rgb(148,0,0)"/>
<path d="M334.6 393.0V395.0L336.2 394.0z" fill="rgb(0,0,0)"/>
<path d="M278.5 347.9V360.8L289.7 354.4z" fill="rgb(229,0,0)"/>
<path d="M248.3 465.0V467.8L245.9 466.4z" fill="rgb(24,0,0)"/>
<path d="M332.2 385.1V390.4L336.8 387.7z" fill="rgb(0,0,0)"/>
<path d="M420.4 341.0V352.0L430.0 346.5z" fill="rgb(15,0,0)"/>
<path d="M367.8 362.7V375.2L378.5 368.9z" fill="rgb(197,0,0)"/>
<path d="M289.0 345.0V357.2L299.6 351.1z" fill="rgb(210,0,0)"/>
<path d="M310.3 496.2V509.2L321.5 502.7z" fill="rgb(66,0,0)"/>
<path d="M331.0 450.3V459.0L323.6 454.6z" fill="rgb(10,0,0)"/>
<path d="M374.8 441.5V452.9L365.0 447.2z" fill="rgb(179,0,0)"/>
<path d="M352.1 341.5V352.7L361.8 347.1z" fill="rgb(86,0,0)"/>
<path d="M475.3 453.0V460.6L468.7 456.8z" fill="rgb(194,0,0)"/>
<path d="M285.1 342.1V353.5L295.0 347.8z" fill="rgb(224,0,0)"/>
<path d="M370.7 419.0V431.3L360.0 425.1z" fill="rgb(148,0,0)"/>
<path d="M287.7 417.8V429.7L277.3 423.7z" fill="rgb(228,0,0)"/>
<path d="M295.4 388.8V392.5L298.7 390.7z" fill="rgb(196,0,0)"/>
<path d="M293.3 381.6V388.3L299.1 385.0z" fill="rgb(201,0,0)"/>
<path d="M271.2 454.7V461.7L265.2 458.2z" fill="rgb(164,0,0)"/>
<path d="M401.5 377.3V385.7L408.7 381.5z" fill="rgb(140,0,0)"/>
<path d="M374.0 408.9V417.0L367.0 412.9z" fill="rgb(182,0,0)"/>
<path d="M416.1 466.9V468.8L414.4 467.9z" fill="rgb(67,0,0)"/>
<path d="M380.8 427.5V440.8L369.3 434.2z" fill="rgb(207,0,0)"/>
<path d="M307.8 369.6V380.4L317.2 375.0z" fill="rgb(90,0,0)"/>
<path d="M271.2 417.0V428.8L261.1 422.9z" fill="rgb(149,0,0)"/>
<path d="M337.7 451.2V459.5L330.5 455.4z" fill="rgb(0,0,0)"/>
<path d="M298.1 356.4V369.7L309.6 363.1z" fill="rgb(153,0,0)"/>
<path d="M215.3 370.8V381.3L224.3 376.0z" fill="rgb(45,0,0)"/>
<path d="M318.2 421.3V434.1L307.1 427.7z" fill="rgb(89,0,0)"/>
<path d="M365.7 289.8V302.0L355.1 295.9z" fill="rgb(111,0,0)"/>
<path d="M348.2 404.0V409.0L343.9 406.5z" fill="rgb(22,0,0)"/>
<path d="M322.8 356.1V369.4L334.3 362.8z" fill="rgb(7,0,0)"/>
<path d="M380.2 353.3V366.6L391.8 360.0z" fill="rgb(229,0,0)"/>
<path d="M360.2 400.0V402.1L358.4 401.0z" fill="rgb(103,0,0)"/>
<path d="M257.6 406.0V412.4L252.1 409.2z" fill="rgb(67,0,0)"/>
<path d="M324.7 350.7V363.9L336.1 357.3z" fill="rgb(3,0,0)"/>
<path d="M276.7 402.7V406.8L273.1 404.8z" fill="rgb(203,0,0)"/>
<path d="M407.3 419.8V432.2L396.5 426.0z" fill="rgb(163,0,0)"/>
<path d="M268.9 403.2V407.7L265.0 405.4z" fill="rgb(155,0,0)"/>
<path d="M404.6 376.4V385.1L412.1 380.7z" fill="rgb(116,0,0)"/>
<path d="M326.7 375.0V384.2L334.6 379.6z" fill="rgb(3,0,0)"/>
<path d="M272.0 420.8V433.5L261.0 427.1z" fill="rgb(152,0,0)"/>
<path d="M372.3 338.7V348.8L381.1 343.8z" fill="rgb(214,0,0)"/>
<path d="M381.7 407.8V415.4L375.1 411.6z" fill="rgb(220,0,0)"/>
<path d="M348.2 454.2V461.4L342.0 457.8z" fill="rgb(18,0,0)"/>
<path d="M389.4 379.4V387.0L396.0 383.2z" fill="rgb(214,0,0)"/>
<path d="M308.5 287.9V300.5L297.5 294.2z" fill="rgb(159,0,0)"/>
<path d="M397.2 439.9V451.7L387.0 445.8z" fill="rgb(216,0,0)"/>
<path d="M274.9 402.8V407.0L271.3 404.9z" fill="rgb(194,0,0)"/>
<path d="M356.8 497.3V510.3L368.2 503.8z" fill="rgb(127,0,0)"/>
<path d="M383.4 347.8V360.6L394.5 354.2z" fill="rgb(225,0,0)"/>
<path d="M378.7 450.3V458.9L371.2 454.6z" fill="rgb(206,0,0)"/>
<path d="M467.8 386.2V391.0L472.0 388.6z" fill="rgb(182,0,0)"/>
<path d="M302.2 340.5V351.3L311.5 345.9z" fill="rgb(132,0,0)"/>
<path d="M368.5 390.0V393.2L371.3 391.6z" fill="rgb(179,0,0)"/>
<path d="M311.0 366.6V378.2L321.1 372.4z" fill="rgb(65,0,0)"/>
<path d="M296.5 459.8V464.7L292.2 462.2z" fill="rgb(209,0,0)"/>
<path d="M315.8 402.3V406.2L312.5 404.3z" fill="rgb(78,0,0)"/>
<path d="M387.8 371.8V382.0L396.6 376.9z" fill="rgb(216,0,0)"/>
<path d="M377.0 362.6V375.0L387.8 368.8z" fill="rgb(228,0,0)"/>
<path d="M361.5 424.7V437.9L350.1 431.3z" fill="rgb(78,0,0)"/>
<path d="M171.1 463.1V466.7L168.1 464.9z" fill="rgb(169,0,0)"/>
<path d="M386.9 430.8V444.0L375.4 437.4z" fill="rgb(226,0,0)"/>
<path d="M363.1 341.6V352.8L372.8 347.2z" fill="rgb(166,0,0)"/>
<path d="M439.2 408.2V416.0L432.5 412.1z" fill="rgb(0,0,0)"/>
<path d="M285.1 367.6V379.0L295.0 373.3z" fill="rgb(224,0,0)"/>
<path d="M346.7 406.5V413.3L340.9 409.9z" fill="rgb(13,0,0)"/>
<path d="M407.3 401.6V404.9L404.5 403.2z" fill="rgb(134,0,0)"/>
<path d="M350.0 406.1V412.6L344.4 409.3z" fill="rgb(27,0,0)"/>
<path d="M300.9 407.4V414.7L294.6 411.1z" fill="rgb(193,0,0)"/>
<path d="M420.1 473.9V476.0L421.9 475.0z" fill="rgb(33,0,0)"/>
<path d="M319.6 431.1V444.3L308.2 437.7z" fill="rgb(80,0,0)"/>
<path d="M371.3 350.7V363.9L382.7 357.3z" fill="rgb(215,0,0)"/>
<path d="M362.4 376.5V385.1L369.9 380.8z" fill="rgb(153,0,0)"/>
<path d="M299.9 318.3V320.6L297.9 319.5z" fill="rgb(186,0,0)"/>
<path d="M335.3 404.4V409.8L330.6 407.1z" fill="rgb(1,0,0)"/>
<path d="M321.9 361.3V374.0L332.9 367.6z" fill="rgb(10,0,0)"/>
<path d="M340.3 343.9V355.9L350.7 349.9z" fill="rgb(20,0,0)"/>
<path d="M362.2 409.4V417.9L354.8 413.7z" fill="rgb(97,0,0)"/>
<path d="M269.9 411.6V421.2L261.6 416.4z" fill="rgb(147,0,0)"/>
<path d="M350.7 418.9V431.1L340.0 425.0z" fill="rgb(19,0,0)"/>
<path d="M285.0 408.2V416.0L278.2 412.1z" fill="rgb(226,0,0)"/>
<path d="M338.6 414.9V425.9L329.1 420.4z" fill="rgb(0,0,0)"/>
<path d="M381.5 333.4V340.5L387.7 337.0z" fill="rgb(229,0,0)"/>
<path d="M404.4 346.8V359.4L415.4 353.1z" fill="rgb(105,0,0)"/>
<path d="M420.5 406.8V413.7L414.5 410.2z" fill="rgb(52,0,0)"/>
<path d="M363.8 454.0V461.3L357.5 457.6z" fill="rgb(113,0,0)"/>
<path d="M360.7 356.6V369.9L372.2 363.2z" fill="rgb(156,0,0)"/>
<path d="M366.0 407.0V414.1L359.9 410.6z" fill="rgb(130,0,0)"/>
<path d="M265.6 339.0V349.2L274.4 344.1z" fill="rgb(175,0,0)"/>
<path d="M311.5 288.0V300.6L300.5 294.3z" fill="rgb(138,0,0)"/>
<path d="M433.1 338.4V348.3L441.7 343.3z" fill="rgb(1,0,0)"/>
<path d="M250.2 362.3V374.8L261.0 368.6z" fill="rgb(72,0,0)"/>
<path d="M375.0 374.2V383.6L383.2 378.9z" fill="rgb(222,0,0)"/>
<path d="M217.8 446.8V456.6L209.3 451.7z" fill="rgb(87,0,0)"/>
<path d="M349.4 429.8V443.0L337.9 436.4z" fill="rgb(13,0,0)"/>
<path d="M315.4 414.7V425.7L305.9 420.2z" fill="rgb(103,0,0)"/>
<path d="M368.0 367.4V378.8L377.9 373.1z" fill="rgb(196,0,0)"/>
<path d="M403.2 404.4V409.7L398.6 407.0z" fill="rgb(170,0,0)"/>
<path d="M281.1 433.3V446.2L269.8 439.8z" fill="rgb(206,0,0)"/>
<path d="M349.5 358.6V371.7L360.7 365.1z" fill="rgb(73,0,0)"/>
<path d="M438.0 364.4V376.5L448.5 370.5z" fill="rgb(13,0,0)"/>
<path d="M371.0 403.4V408.1L367.0 405.7z" fill="rgb(173,0,0)"/>
<path d="M337.2 335.4V343.8L344.5 339.6z" fill="rgb(6,0,0)"/>
<path d="M362.3 416.9V428.6L352.2 422.7z" fill="rgb(88,0,0)"/>
<path d="M294.4 356.4V369.6L305.8 363.0z" fill="rgb(179,0,0)"/>
<path d="M451.0 331.9V338.1L456.4 335.0z" fill="rgb(67,0,0)"/>
<path d="M308.3 408.2V416.0L301.6 412.1z" fill="rgb(145,0,0)"/>
<path d="M292.1 406.2V412.7L286.5 409.4z" fill="rgb(225,0,0)"/>
<path d="M442.0 402.8V407.0L438.4 404.9z" fill="rgb(5,0,0)"/>
<path d="M314.7 352.8V366.1L326.2 359.4z" fill="rgb(38,0,0)"/>
<path d="M330.7 404.2V409.4L326.2 406.8z" fill="rgb(7,0,0)"/>
<path d="M339.8 318.3V320.6L337.8 319.5z" fill="rgb(2,0,0)"/>
<path d="M342.7 412.7V422.8L334.0 417.7z" fill="rgb(2,0,0)"/>
<path d="M348.6 421.7V434.5L337.5 428.1z" fill="rgb(11,0,0)"/>
<path d="M269.7 343.3V355.1L279.9 349.2z" fill="rgb(203,0,0)"/>
<path d="M321.5 372.9V382.7L330.0 377.8z" fill="rgb(15,0,0)"/>
<path d="M293.2 455.1V461.9L287.2 458.5z" fill="rgb(223,0,0)"/>
<path d="M344.8 350.5V363.7L356.2 357.1z" fill="rgb(44,0,0)"/>
<path d="M414.8 375.2V384.3L422.6 379.8z" fill="rgb(45,0,0)"/>
<path d="M298.7 361.2V373.9L309.7 367.6z" fill="rgb(151,0,0)"/>
<path d="M474.6 326.1V328.1L476.4 327.1z" fill="rgb(211,0,0)"/>
<path d="M284.0 408.6V416.6L277.1 412.6z" fill="rgb(224,0,0)"/>
<path d="M364.5 312.4V317.2L360.3 314.8z" fill="rgb(126,0,0)"/>
<path d="M275.8 405.8V412.1L270.4 409.0z" fill="rgb(194,0,0)"/>
<path d="M282.4 371.6V381.8L291.3 376.7z" fill="rgb(229,0,0)"/>
<path d="M379.6 333.6V340.9L386.0 337.3z" fill="rgb(229,0,0)"/>
<path d="M394.2 407.2V414.3L388.0 410.7z" fill="rgb(219,0,0)"/>
<path d="M311.3 280.3V293.5L299.7 286.9z" fill="rgb(142,0,0)"/>
<path d="M179.8 358.4V371.4L191.2 364.9z" fill="rgb(229,0,0)"/>
<path d="M449.4 378.6V386.5L456.2 382.5z" fill="rgb(61,0,0)"/>
<path d="M389.5 444.6V455.1L380.5 449.8z" fill="rgb(229,0,0)"/>
<path d="M309.0 361.2V373.9L320.0 367.5z" fill="rgb(75,0,0)"/>
<path d="M392.9 347.9V360.8L404.0 354.4z" fill="rgb(185,0,0)"/>
<path d="M385.4 409.6V418.2L377.9 413.9z" fill="rgb(227,0,0)"/>
<path d="M289.3 408.6V416.6L282.3 412.6z" fill="rgb(229,0,0)"/>
<path d="M180.4 420.0V432.6L169.6 426.3z" fill="rgb(201,0,0)"/>
<path d="M384.6 415.1V426.2L375.0 420.6z" fill="rgb(223,0,0)"/>
<path d="M349.5 400.0V402.0L347.7 401.0z" fill="rgb(33,0,0)"/>
<path d="M341.4 431.2V444.4L330.0 437.8z" fill="rgb(0,0,0)"/>
<path d="M276.3 357.8V370.9L287.7 364.3z" fill="rgb(227,0,0)"/>
<path d="M295.1 444.8V455.2L286.1 450.0z" fill="rgb(222,0,0)"/>
<path d="M307.5 381.0V387.9L313.5 384.5z" fill="rgb(104,0,0)"/>
<path d="M404.8 415.3V426.6L395.1 421.0z" fill="rgb(176,0,0)"/>
<path d="M409.7 408.3V416.2L402.9 412.3z" fill="rgb(132,0,0)"/>
<path d="M335.3 355.0V368.3L346.8 361.7z" fill="rgb(6,0,0)"/>
<path d="M366.4 461.6V465.8L362.8 463.7z" fill="rgb(142,0,0)"/>
<path d="M310.6 423.2V436.3L299.3 429.8z" fill="rgb(145,0,0)"/>
<path d="M278.0 383.5V389.5L283.1 386.5z" fill="rgb(224,0,0)"/>
<path d="M311.0 343.9V355.9L321.4 349.9z" fill="rgb(64,0,0)"/>
<path d="M208.1 438.7V450.7L197.7 444.7z" fill="rgb(164,0,0)"/>
<path d="M381.8 378.8V386.6L388.6 382.7z" fill="rgb(229,0,0)"/>
<path d="M306.1 421.8V434.7L294.9 428.3z" fill="rgb(176,0,0)"/>
<path d="M304.9 371.0V381.4L313.9 376.2z" fill="rgb(113,0,0)"/>
<path d="M360.1 354.5V367.8L371.6 361.2z" fill="rgb(152,0,0)"/>
<path d="M228.6 416.5V428.2L218.6 422.3z" fill="rgb(26,0,0)"/>
<path d="M332.8 385.8V390.8L337.2 388.3z" fill="rgb(0,0,0)"/>
<path d="M335.9 341.1V352.2L345.5 346.6z" fill="rgb(5,0,0)"/>
<path d="M350.0 427.5V440.8L338.5 434.1z" fill="rgb(15,0,0)"/>
<path d="M406.0 378.0V386.1L413.0 382.0z" fill="rgb(108,0,0)"/>
<path d="M489.4 409.4V418.0L482.0 413.7z" fill="rgb(229,0,0)"/>
<path d="M339.4 376.7V385.2L346.8 381.0z" fill="rgb(11,0,0)"/>
<path d="M373.2 403.4V407.9L369.3 405.7z" fill="rgb(187,0,0)"/>
<path d="M382.7 389.5V393.0L385.7 391.2z" fill="rgb(229,0,0)"/>
<path d="M408.2 402.8V407.0L404.6 404.9z" fill="rgb(131,0,0)"/>
<path d="M334.0 348.0V360.9L345.2 354.4z" fill="rgb(3,0,0)"/>
<path d="M251.9 445.9V456.0L243.1 451.0z" fill="rgb(25,0,0)"/>
<path d="M286.2 391.3V394.0L288.5 392.6z" fill="rgb(228,0,0)"/>
<path d="M461.5 401.1V403.9L459.1 402.5z" fill="rgb(115,0,0)"/>
<path d="M322.2 392.1V394.4L324.2 393.3z" fill="rgb(25,0,0)"/>
<path d="M421.7 351.5V364.8L433.1 358.1z" fill="rgb(8,0,0)"/>
<path d="M306.3 344.5V356.6L316.8 350.6z" fill="rgb(96,0,0)"/>
<path d="M389.8 382.5V388.9L395.3 385.7z" fill="rgb(214,0,0)"/>
<path d="M273.9 432.1V445.1L262.6 438.6z" fill="rgb(164,0,0)"/>
<path d="M247.4 371.4V381.7L256.4 376.5z" fill="rgb(48,0,0)"/>
<path d="M298.7 366.3V378.0L308.8 372.2z" fill="rgb(154,0,0)"/>
<path d="M300.9 402.0V405.5L297.8 403.7z" fill="rgb(183,0,0)"/>
<path d="M301.5 415.4V426.6L291.8 421.0z" fill="rgb(199,0,0)"/>
<path d="M355.9 300.5V309.9L347.7 305.2z" fill="rgb(51,0,0)"/>
<path d="M337.9 350.3V363.4L349.3 356.9z" fill="rgb(13,0,0)"/>
<path d="M309.2 437.5V449.8L298.6 443.6z" fill="rgb(153,0,0)"/>
<path d="M310.7 430.4V443.6L299.3 437.0z" fill="rgb(145,0,0)"/>
<path d="M342.7 419.6V432.1L331.9 425.8z" fill="rgb(1,0,0)"/>
<path d="M279.0 427.9V441.2L267.5 434.6z" fill="rgb(195,0,0)"/>
<path d="M263.1 311.4V316.6L258.5 314.0z" fill="rgb(110,0,0)"/>
<path d="M406.1 409.6V418.2L398.6 413.9z" fill="rgb(160,0,0)"/>
<path d="M313.7 346.1V358.7L324.6 352.4z" fill="rgb(46,0,0)"/>
<path d="M249.9 290.5V302.7L239.3 296.6z" fill="rgb(14,0,0)"/>
<path d="M446.6 389.5V393.0L449.6 391.2z" fill="rgb(34,0,0)"/>
<path d="M339.7 382.8V389.1L345.1 385.9z" fill="rgb(9,0,0)"/>
<path d="M392.0 421.7V434.6L380.9 428.1z" fill="rgb(229,0,0)"/>
<path d="M329.7 356.8V370.0L341.1 363.4z" fill="rgb(0,0,0)"/>
<path d="M301.5 278.9V292.1L289.9 285.5z" fill="rgb(203,0,0)"/>
<path d="M304.0 457.4V463.4L298.9 460.4z" fill="rgb(170,0,0)"/>
<path d="M331.6 419.4V431.8L320.9 425.6z" fill="rgb(13,0,0)"/>
<path d="M338.9 419.4V431.8L328.2 425.6z" fill="rgb(0,0,0)"/>
<path d="M299.5 364.2V376.4L310.0 370.3z" fill="rgb(147,0,0)"/>
<path d="M257.8 348.6V361.5L269.0 355.1z" fill="rgb(129,0,0)"/>
<path d="M313.8 366.9V378.4L323.8 372.6z" fill="rgb(48,0,0)"/>
<path d="M349.7 359.0V372.0L360.9 365.5z" fill="rgb(74,0,0)"/>
<path d="M355.1 317.7V320.3L352.9 319.0z" fill="rgb(65,0,0)"/>
<path d="M348.4 404.7V410.2L343.6 407.4z" fill="rgb(21,0,0)"/>
<path d="M347.1 413.0V423.3L338.2 418.2z" fill="rgb(10,0,0)"/>
<path d="M347.1 403.9V408.9L342.8 406.4z" fill="rgb(18,0,0)"/>
<path d="M285.4 414.8V425.8L275.9 420.3z" fill="rgb(224,0,0)"/>
<path d="M374.6 349.3V362.4L385.9 355.8z" fill="rgb(225,0,0)"/>
<path d="M352.3 405.7V411.9L346.9 408.8z" fill="rgb(39,0,0)"/>
<path d="M345.2 423.4V436.5L333.8 429.9z" fill="rgb(3,0,0)"/>
<path d="M400.4 448.4V457.7L392.4 453.1z" fill="rgb(197,0,0)"/>
<path d="M230.1 329.8V334.5L234.2 332.1z" fill="rgb(2,0,0)"/>
<path d="M264.4 439.7V451.5L254.2 445.6z" fill="rgb(99,0,0)"/>
<path d="M360.7 335.0V343.2L367.8 339.1z" fill="rgb(140,0,0)"/>
<path d="M459.6 415.5V426.7L449.9 421.1z" fill="rgb(74,0,0)"/>
<path d="M368.7 416.3V427.9L358.7 422.1z" fill="rgb(136,0,0)"/>
<path d="M325.8 401.3V404.4L323.2 402.9z" fill="rgb(20,0,0)"/>
<path d="M295.0 372.7V382.6L303.6 377.6z" fill="rgb(183,0,0)"/>
<path d="M244.6 368.0V379.3L254.3 373.6z" fill="rgb(35,0,0)"/>
<path d="M390.6 416.5V428.1L380.5 422.3z" fill="rgb(229,0,0)"/>
<path d="M413.9 417.1V428.9L403.7 423.0z" fill="rgb(113,0,0)"/>
<path d="M297.4 304.8V312.6L290.6 308.7z" fill="rgb(211,0,0)"/>
<path d="M431.3 420.8V433.5L420.3 427.1z" fill="rgb(13,0,0)"/>
<path d="M253.4 429.8V443.0L242.0 436.4z" fill="rgb(26,0,0)"/>
<path d="M347.4 404.4V409.7L342.8 407.1z" fill="rgb(18,0,0)"/>
<path d="M361.5 430.7V443.9L350.1 437.3z" fill="rgb(78,0,0)"/>
<path d="M404.3 414.0V424.7L395.0 419.4z" fill="rgb(178,0,0)"/>
<path d="M352.8 372.6V382.5L361.5 377.5z" fill="rgb(87,0,0)"/>
<path d="M380.4 390.3V393.4L383.1 391.8z" fill="rgb(227,0,0)"/>
<path d="M420.1 309.7V315.7L414.9 312.7z" fill="rgb(52,0,0)"/>
<path d="M294.8 432.9V445.8L283.6 439.3z" fill="rgb(226,0,0)"/>
<path d="M423.9 315.8V319.2L420.9 317.5z" fill="rgb(26,0,0)"/>
<path d="M393.3 366.9V378.5L403.3 372.7z" fill="rgb(186,0,0)"/>
<path d="M291.3 451.1V459.4L284.0 455.2z" fill="rgb(228,0,0)"/>
<path d="M319.5 371.1V381.5L328.5 376.3z" fill="rgb(21,0,0)"/>
<path d="M249.2 329.8V334.5L253.3 332.1z" fill="rgb(44,0,0)"/>
<path d="M450.3 391.7V394.2L452.4 392.9z" fill="rgb(52,0,0)"/>
<path d="M328.1 384.8V390.2L332.8 387.5z" fill="rgb(3,0,0)"/>
<path d="M352.8 340.6V351.5L362.2 346.1z" fill="rgb(90,0,0)"/>
<path d="M268.0 405.2V411.1L263.0 408.1z" fill="rgb(145,0,0)"/>
<path d="M250.0 408.8V417.0L242.9 412.9z" fill="rgb(21,0,0)"/>
<path d="M321.3 417.5V429.5L311.0 423.5z" fill="rgb(64,0,0)"/>
<path d="M398.5 404.9V410.6L393.6 407.8z" fill="rgb(199,0,0)"/>
<path d="M351.4 343.0V354.7L361.5 348.9z" fill="rgb(82,0,0)"/>
<path d="M361.5 388.1V392.1L365.0 390.1z" fill="rgb(132,0,0)"/>
<path d="M385.6 333.3V340.4L391.8 336.9z" fill="rgb(226,0,0)"/>
<path d="M337.5 495.4V508.2L348.7 501.8z" fill="rgb(11,0,0)"/>
<path d="M369.9 410.9V420.2L361.8 415.5z" fill="rgb(151,0,0)"/>
<path d="M415.6 389.0V392.7L418.8 390.9z" fill="rgb(54,0,0)"/>
<path d="M471.9 298.8V308.8L463.3 303.8z" fill="rgb(167,0,0)"/>
<path d="M258.3 383.4V389.4L263.5 386.4z" fill="rgb(111,0,0)"/>
<path d="M487.8 382.9V389.1L493.2 386.0z" fill="rgb(219,0,0)"/>
<path d="M349.0 345.3V357.6L359.7 351.4z" fill="rgb(68,0,0)"/>
<path d="M232.4 331.7V337.8L237.7 334.7z" fill="rgb(0,0,0)"/>
<path d="M276.1 368.5V379.6L285.7 374.1z" fill="rgb(225,0,0)"/>
<path d="M302.7 429.6V442.8L291.3 436.2z" fill="rgb(197,0,0)"/>
<path d="M318.3 404.5V409.8L313.6 407.1z" fill="rgb(66,0,0)"/>
<path d="M269.0 422.4V435.3L257.8 428.8z" fill="rgb(129,0,0)"/>
<path d="M484.7 423.3V436.3L473.3 429.8z" fill="rgb(223,0,0)"/>
<path d="M266.4 404.1V409.3L261.9 406.7z" fill="rgb(135,0,0)"/>
<path d="M433.0 417.5V429.4L422.7 423.4z" fill="rgb(7,0,0)"/>
<path d="M304.3 481.6V489.0L310.7 485.3z" fill="rgb(127,0,0)"/>
<path d="M299.2 363.7V375.9L309.8 369.8z" fill="rgb(149,0,0)"/>
<path d="M308.7 370.5V381.1L317.8 375.8z" fill="rgb(84,0,0)"/>
<path d="M222.6 347.5V360.3L233.7 353.9z" fill="rgb(9,0,0)"/>
<path d="M405.6 364.7V376.8L416.0 370.8z" fill="rgb(98,0,0)"/>
<path d="M308.1 338.1V347.9L316.5 343.0z" fill="rgb(91,0,0)"/>
<path d="M404.1 433.4V446.4L392.9 439.9z" fill="rgb(185,0,0)"/>
<path d="M286.8 368.2V379.4L296.5 373.8z" fill="rgb(219,0,0)"/>
<path d="M374.0 383.0V389.2L379.3 386.1z" fill="rgb(214,0,0)"/>
<path d="M233.2 384.2V389.9L238.1 387.0z" fill="rgb(0,0,0)"/>
<path d="M355.0 403.6V408.3L350.9 405.9z" fill="rgb(59,0,0)"/>
<path d="M336.3 391.9V394.3L338.4 393.1z" fill="rgb(1,0,0)"/>
<path d="M308.2 371.6V381.9L317.1 376.8z" fill="rgb(89,0,0)"/>
<path d="M366.4 384.2V389.9L371.3 387.1z" fill="rgb(172,0,0)"/>
<path d="M339.6 423.6V436.7L328.3 430.2z" fill="rgb(0,0,0)"/>
<path d="M320.4 422.8V435.8L309.2 429.3z" fill="rgb(73,0,0)"/>
<path d="M314.5 436.8V449.2L303.7 443.0z" fill="rgb(115,0,0)"/>
<path d="M235.4 356.3V369.5L246.9 362.9z" fill="rgb(5,0,0)"/>
<path d="M284.0 334.8V342.9L291.0 338.9z" fill="rgb(228,0,0)"/>
<path d="M303.2 422.8V435.8L291.9 429.3z" fill="rgb(194,0,0)"/>
<path d="M398.4 337.7V347.4L406.7 342.6z" fill="rgb(159,0,0)"/>
<path d="M283.3 433.9V446.8L272.1 440.3z" fill="rgb(215,0,0)"/>
<path d="M334.5 433.2V446.2L323.2 439.7z" fill="rgb(6,0,0)"/>
<path d="M344.2 354.7V368.0L355.7 361.3z" fill="rgb(41,0,0)"/>
<path d="M327.1 367.0V378.5L337.0 372.8z" fill="rgb(1,0,0)"/>
<path d="M297.3 382.7V389.0L302.7 385.9z" fill="rgb(179,0,0)"/>
<path d="M338.7 447.8V457.3L330.5 452.5z" fill="rgb(0,0,0)"/>
<path d="M430.1 339.7V350.2L439.2 345.0z" fill="rgb(0,0,0)"/>
<path d="M315.4 436.0V448.5L304.6 442.2z" fill="rgb(108,0,0)"/>
<path d="M317.6 411.5V421.1L309.3 416.3z" fill="rgb(83,0,0)"/>
<path d="M275.3 334.3V342.1L282.0 338.2z" fill="rgb(219,0,0)"/>
<path d="M248.8 427.0V440.3L237.3 433.6z" fill="rgb(9,0,0)"/>
<path d="M296.1 384.4V390.0L300.9 387.2z" fill="rgb(188,0,0)"/>
<path d="M279.9 405.3V411.2L274.7 408.2z" fill="rgb(214,0,0)"/>
<path d="M421.1 425.7V439.0L409.7 432.3z" fill="rgb(66,0,0)"/>
<path d="M270.3 416.0V427.5L260.4 421.8z" fill="rgb(143,0,0)"/>
<path d="M387.3 273.2V286.0L376.3 279.6z" fill="rgb(227,0,0)"/>
<path d="M309.7 351.5V364.7L321.1 358.1z" fill="rgb(69,0,0)"/>
<path d="M318.2 364.9V376.9L328.6 370.9z" fill="rgb(24,0,0)"/>
<path d="M292.2 411.2V420.6L284.0 415.9z" fill="rgb(227,0,0)"/>
<path d="M354.4 387.5V391.8L358.1 389.7z" fill="rgb(81,0,0)"/>
<path d="M358.0 361.2V373.9L369.0 367.5z" fill="rgb(134,0,0)"/>
<path d="M184.1 460.2V465.0L179.9 462.6z" fill="rgb(226,0,0)"/>
<path d="M281.1 405.2V411.1L276.0 408.1z" fill="rgb(218,0,0)"/>
<path d="M370.4 359.0V372.0L381.6 365.5z" fill="rgb(211,0,0)"/>
<path d="M400.1 372.8V382.7L408.6 377.7z" fill="rgb(146,0,0)"/>
<path d="M264.6 350.4V363.6L276.0 357.0z" fill="rgb(177,0,0)"/>
<path d="M279.7 420.1V432.6L268.8 426.3z" fill="rgb(200,0,0)"/>
<path d="M424.2 337.7V347.3L432.5 342.5z" fill="rgb(6,0,0)"/>
<path d="M278.2 328.4V332.1L281.4 330.2z" fill="rgb(222,0,0)"/>
<path d="M402.0 400.9V403.6L399.7 402.2z" fill="rgb(170,0,0)"/>
<path d="M408.4 384.8V390.2L413.1 387.5z" fill="rgb(98,0,0)"/>
<path d="M284.0 378.4V386.3L290.8 382.4z" fill="rgb(228,0,0)"/>
<path d="M281.2 341.2V352.3L290.8 346.8z" fill="rgb(229,0,0)"/>
<path d="M291.3 377.7V385.9L298.4 381.8z" fill="rgb(207,0,0)"/>
<path d="M316.6 350.5V363.6L328.0 357.1z" fill="rgb(29,0,0)"/>
<path d="M367.0 434.5V447.3L355.9 440.9z" fill="rgb(119,0,0)"/>
<path d="M373.2 365.8V377.6L383.4 371.7z" fill="rgb(219,0,0)"/>
<path d="M324.3 409.2V417.6L317.0 413.4z" fill="rgb(37,0,0)"/>
<path d="M311.7 350.4V363.6L323.1 357.0z" fill="rgb(57,0,0)"/>
<path d="M355.5 438.4V450.5L345.1 444.4z" fill="rgb(43,0,0)"/>
<path d="M354.2 421.0V433.8L343.2 427.4z" fill="rgb(34,0,0)"/>
<path d="M413.6 412.7V422.8L404.9 417.8z" fill="rgb(110,0,0)"/>
<path d="M325.2 339.2V349.5L334.2 344.4z" fill="rgb(4,0,0)"/>
<path d="M418.8 441.1V452.5L408.9 446.8z" fill="rgb(76,0,0)"/>
<path d="M378.2 290.3V302.5L367.6 296.4z" fill="rgb(196,0,0)"/>
<path d="M539.9 392.8V394.8L541.7 393.8z" fill="rgb(8,0,0)"/>
<path d="M429.5 295.6V306.4L420.1 301.0z" fill="rgb(16,0,0)"/>
<path d="M275.2 403.7V408.5L271.1 406.1z" fill="rgb(194,0,0)"/>
<path d="M348.9 410.2V419.1L341.2 414.6z" fill="rgb(18,0,0)"/>
<path d="M295.4 363.3V375.7L306.1 369.5z" fill="rgb(174,0,0)"/>
<path d="M434.5 333.8V341.2L440.9 337.5z" fill="rgb(2,0,0)"/>
<path d="M322.2 496.2V509.2L333.4 502.7z" fill="rgb(9,0,0)"/>
<path d="M411.7 328.2V331.9L414.9 330.0z" fill="rgb(80,0,0)"/>
<path d="M327.8 444.4V455.0L318.7 449.7z" fill="rgb(25,0,0)"/>
<path d="M339.1 391.8V394.2L341.2 393.0z" fill="rgb(4,0,0)"/>
<path d="M371.0 338.8V348.9L379.8 343.9z" fill="rgb(208,0,0)"/>
<path d="M363.5 361.5V374.2L374.4 367.9z" fill="rgb(173,0,0)"/>
<path d="M424.2 410.1V419.0L416.5 414.6z" fill="rgb(36,0,0)"/>
<path d="M311.3 392.2V394.5L313.3 393.4z" fill="rgb(91,0,0)"/>
<path d="M434.5 404.5V409.9L429.9 407.2z" fill="rgb(1,0,0)"/>
<path d="M412.6 412.5V422.5L403.9 417.5z" fill="rgb(117,0,0)"/>
<path d="M387.4 345.7V358.1L398.2 351.9z" fill="rgb(214,0,0)"/>
<path d="M296.7 366.0V377.8L306.9 371.9z" fill="rgb(168,0,0)"/>
<path d="M329.8 344.7V356.9L340.4 350.8z" fill="rgb(0,0,0)"/>
<path d="M318.9 335.1V343.4L326.0 339.2z" fill="rgb(28,0,0)"/>
<path d="M404.1 383.9V389.7L409.2 386.8z" fill="rgb(129,0,0)"/>
<path d="M296.9 374.7V383.9L304.9 379.3z" fill="rgb(174,0,0)"/>
<path d="M269.2 349.0V362.1L280.5 355.5z" fill="rgb(203,0,0)"/>
<path d="M323.7 304.8V312.6L316.9 308.7z" fill="rgb(39,0,0)"/>
<path d="M437.1 363.1V375.5L447.9 369.3z" fill="rgb(11,0,0)"/>
<path d="M301.7 481.2V488.4L307.9 484.8z" fill="rgb(147,0,0)"/>
<path d="M328.4 410.8V420.1L320.4 415.4z" fill="rgb(20,0,0)"/>
<path d="M341.0 380.2V387.4L347.3 383.8z" fill="rgb(14,0,0)"/>
<path d="M366.4 388.4V392.4L369.8 390.4z" fill="rgb(167,0,0)"/>
<path d="M309.6 391.2V393.9L312.0 392.5z" fill="rgb(102,0,0)"/>
<path d="M311.6 437.4V449.7L301.0 443.5z" fill="rgb(135,0,0)"/>
<path d="M402.1 438.3V450.4L391.6 444.4z" fill="rgb(194,0,0)"/>
<path d="M330.4 454.3V461.4L324.2 457.8z" fill="rgb(10,0,0)"/>
<path d="M232.5 400.2V402.5L230.6 401.4z" fill="rgb(2,0,0)"/>
<path d="M417.7 420.4V433.0L406.8 426.7z" fill="rgb(88,0,0)"/>
<path d="M342.1 402.6V406.7L338.6 404.6z" fill="rgb(5,0,0)"/>
<path d="M346.3 359.6V372.5L357.5 366.1z" fill="rgb(52,0,0)"/>
<path d="M361.8 340.9V351.9L371.3 346.4z" fill="rgb(156,0,0)"/>
<path d="M335.2 378.5V386.4L342.1 382.5z" fill="rgb(2,0,0)"/>
<path d="M363.7 419.5V431.9L352.9 425.7z" fill="rgb(95,0,0)"/>
<path d="M317.1 399.8V401.7L315.4 400.8z" fill="rgb(64,0,0)"/>
<path d="M343.0 423.4V436.4L331.7 429.9z" fill="rgb(1,0,0)"/>
<path d="M388.9 406.5V413.2L383.1 409.9z" fill="rgb(229,0,0)"/>
<path d="M422.7 359.9V372.7L433.8 366.3z" fill="rgb(6,0,0)"/>
<path d="M363.7 477.1V481.7L367.7 479.4z" fill="rgb(150,0,0)"/>
<path d="M500.8 362.2V374.8L511.6 368.5z" fill="rgb(128,0,0)"/>
<path d="M292.8 391.4V394.0L295.1 392.7z" fill="rgb(211,0,0)"/>
<path d="M296.3 331.8V337.9L301.7 334.9z" fill="rgb(185,0,0)"/>
<path d="M330.5 422.5V435.5L319.2 429.0z" fill="rgb(18,0,0)"/>
<path d="M321.4 377.2V385.6L328.6 381.4z" fill="rgb(18,0,0)"/>
<path d="M373.6 335.0V343.2L380.6 339.1z" fill="rgb(215,0,0)"/>
<path d="M299.2 358.3V371.4L310.5 364.8z" fill="rgb(146,0,0)"/>
<path d="M335.5 376.9V385.4L342.8 381.1z" fill="rgb(3,0,0)"/>
<path d="M326.3 459.0V464.3L321.7 461.6z" fill="rgb(21,0,0)"/>
<path d="M439.0 327.9V331.3L441.9 329.6z" fill="rgb(6,0,0)"/>
<path d="M430.4 409.8V418.4L422.9 414.1z" fill="rgb(10,0,0)"/>
<path d="M305.4 331.4V337.2L310.5 334.3z" fill="rgb(123,0,0)"/>
<path d="M252.7 436.2V448.7L241.9 442.5z" fill="rgb(25,0,0)"/>
<path d="M430.7 415.3V426.5L421.0 420.9z" fill="rgb(13,0,0)"/>
<path d="M390.8 349.8V362.9L402.1 356.3z" fill="rgb(196,0,0)"/>
<path d="M356.3 364.5V376.6L366.7 370.5z" fill="rgb(119,0,0)"/>
<path d="M375.2 400.1V402.1L373.4 401.1z" fill="rgb(203,0,0)"/>
<path d="M304.6 409.5V418.0L297.2 413.8z" fill="rgb(174,0,0)"/>
<path d="M354.2 432.7V445.7L343.0 439.2z" fill="rgb(33,0,0)"/>
<path d="M387.3 424.0V437.2L375.9 430.6z" fill="rgb(227,0,0)"/>
<path d="M301.4 407.2V414.3L295.2 410.8z" fill="rgb(189,0,0)"/>
<path d="M303.6 445.2V455.5L294.7 450.3z" fill="rgb(184,0,0)"/>
<path d="M335.9 344.5V356.7L346.4 350.6z" fill="rgb(6,0,0)"/>
<path d="M182.1 371.3V381.7L191.1 376.5z" fill="rgb(229,0,0)"/>
<path d="M368.9 409.3V417.8L361.6 413.5z" fill="rgb(147,0,0)"/>
<path d="M373.8 326.3V328.4L375.7 327.4z" fill="rgb(205,0,0)"/>
<path d="M296.4 350.6V363.8L307.8 357.2z" fill="rgb(166,0,0)"/>
<path d="M374.3 358.9V372.0L385.5 365.4z" fill="rgb(224,0,0)"/>
<path d="M337.9 434.2V447.0L326.8 440.6z" fill="rgb(1,0,0)"/>
<path d="M353.0 382.0V388.5L358.7 385.3z" fill="rgb(78,0,0)"/>
<path d="M317.5 377.0V385.5L324.8 381.2z" fill="rgb(35,0,0)"/>
<path d="M444.3 374.5V383.8L452.4 379.2z" fill="rgb(35,0,0)"/>
<path d="M348.6 423.5V436.6L337.3 430.1z" fill="rgb(11,0,0)"/>
<path d="M332.6 352.5V365.8L344.1 359.1z" fill="rgb(2,0,0)"/>
<path d="M255.9 427.2V440.5L244.3 433.8z" fill="rgb(38,0,0)"/>
<path d="M435.9 423.2V436.2L424.6 429.7z" fill="rgb(3,0,0)"/>
<path d="M353.7 375.8V384.7L361.4 380.2z" fill="rgb(90,0,0)"/>
<path d="M425.8 305.4V313.0L419.2 309.2z" fill="rgb(25,0,0)"/>
<path d="M293.4 439.6V451.4L283.2 445.5z" fill="rgb(227,0,0)"/>
<path d="M261.8 404.9V410.5L256.9 407.7z" fill="rgb(99,0,0)"/>
<path d="M320.9 465.8V468.2L318.8 467.0z" fill="rgb(41,0,0)"/>
<path d="M402.6 430.7V443.9L391.2 437.3z" fill="rgb(194,0,0)"/>
<path d="M353.8 391.1V393.9L356.2 392.5z" fill="rgb(72,0,0)"/>
<path d="M277.6 349.9V363.0L288.9 356.5z" fill="rgb(228,0,0)"/>
<path d="M378.9 378.4V386.4L385.7 382.4z" fill="rgb(228,0,0)"/>
<path d="M431.6 355.5V368.8L443.1 362.2z" fill="rgb(1,0,0)"/>
<path d="M328.6 334.3V342.0L335.3 338.1z" fill="rgb(1,0,0)"/>
<path d="M257.4 343.2V354.9L267.6 349.0z" fill="rgb(122,0,0)"/>
<path d="M330.1 454.2V461.4L323.8 457.8z" fill="rgb(11,0,0)"/>
<path d="M345.6 434.7V447.5L334.6 441.1z" fill="rgb(4,0,0)"/>
<path d="M386.2 335.9V344.6L393.7 340.3z" fill="rgb(223,0,0)"/>
<path d="M407.4 367.6V379.0L417.3 373.3z" fill="rgb(87,0,0)"/>
<path d="M271.1 386.5V391.2L275.2 388.9z" fill="rgb(194,0,0)"/>
<path d="M329.3 385.8V390.8L333.7 388.3z" fill="rgb(2,0,0)"/>
<path d="M437.1 317.6V320.2L434.9 318.9z" fill="rgb(0,0,0)"/>
<path d="M262.3 388.9V392.6L265.5 390.8z" fill="rgb(133,0,0)"/>
<path d="M341.0 412.1V421.9L332.5 417.0z" fill="rgb(0,0,0)"/>
<path d="M309.4 356.6V369.8L320.8 363.2z" fill="rgb(72,0,0)"/>
<path d="M300.9 430.1V443.3L289.4 436.7z" fill="rgb(206,0,0)"/>
<path d="M268.8 389.0V392.7L272.0 390.8z" fill="rgb(178,0,0)"/>
<path d="M401.0 400.8V403.5L398.7 402.2z" fill="rgb(177,0,0)"/>
<path d="M342.1 387.7V391.9L345.8 389.8z" fill="rgb(14,0,0)"/>
<path d="M455.3 410.0V418.8L447.7 414.4z" fill="rgb(53,0,0)"/>
<path d="M344.8 337.0V346.2L352.8 341.6z" fill="rgb(35,0,0)"/>
<path d="M440.0 367.0V378.6L450.0 372.8z" fill="rgb(20,0,0)"/>
<path d="M225.3 333.3V340.4L231.4 336.9z" fill="rgb(9,0,0)"/>
<path d="M269.3 371.7V381.9L278.1 376.8z" fill="rgb(198,0,0)"/>
<path d="M399.2 449.2V458.2L391.4 453.7z" fill="rgb(202,0,0)"/>
<path d="M372.1 355.6V368.8L383.6 362.2z" fill="rgb(218,0,0)"/>
<path d="M524.3 438.1V450.3L513.7 444.2z" fill="rgb(40,0,0)"/>
<path d="M100.1 374.9V384.1L108.1 379.5z" fill="rgb(160,0,0)"/>
<path d="M385.4 431.2V444.3L374.0 437.8z" fill="rgb(223,0,0)"/>
<path d="M304.3 481.6V489.0L310.7 485.3z" fill="rgb(127,0,0)"/>
<path d="M298.0 413.6V424.2L288.8 418.9z" fill="rgb(213,0,0)"/>
<path d="M338.6 479.7V486.1L344.0 482.9z" fill="rgb(6,0,0)"/>
<path d="M432.8 388.1V392.2L436.3 390.1z" fill="rgb(0,0,0)"/>
<path d="M355.3 414.5V425.4L345.9 420.0z" fill="rgb(44,0,0)"/>
<path d="M314.8 328.0V331.5L317.8 329.8z" fill="rgb(64,0,0)"/>
<path d="M344.5 453.1V460.7L337.9 456.9z" fill="rgb(6,0,0)"/>
<path d="M154.2 391.8V394.3L156.3 393.0z" fill="rgb(66,0,0)"/>
<path d="M315.0 338.1V347.8L323.5 343.0z" fill="rgb(45,0,0)"/>
<path d="M344.9 262.9V272.1L337.1 267.5z" fill="rgb(6,0,0)"/>
<path d="M365.8 383.3V389.3L371.0 386.3z" fill="rgb(169,0,0)"/>
<path d="M324.5 304.8V312.6L317.7 308.7z" fill="rgb(35,0,0)"/>
<path d="M290.6 423.1V436.1L279.3 429.6z" fill="rgb(229,0,0)"/>
<path d="M348.9 385.2V390.5L353.5 387.8z" fill="rgb(48,0,0)"/>
<path d="M418.5 217.0V229.0L428.9 223.0z" fill="rgb(20,0,0)"/>
<path d="M438.6 413.5V424.0L429.5 418.7z" fill="rgb(0,0,0)"/>
<path d="M317.4 372.9V382.7L325.9 377.8z" fill="rgb(32,0,0)"/>
<path d="M255.4 364.6V376.7L265.8 370.7z" fill="rgb(108,0,0)"/>
<path d="M382.8 443.9V454.6L373.6 449.3z" fill="rgb(219,0,0)"/>
<path d="M282.7 407.3V414.6L276.4 411.0z" fill="rgb(221,0,0)"/>
<path d="M318.2 400.0V402.0L316.5 401.0z" fill="rgb(57,0,0)"/>
<path d="M353.3 403.8V408.7L349.1 406.2z" fill="rgb(48,0,0)"/>
<path d="M351.9 339.5V349.9L360.9 344.7z" fill="rgb(82,0,0)"/>
<path d="M370.5 386.6V391.3L374.5 388.9z" fill="rgb(194,0,0)"/>
<path d="M180.5 360.6V373.4L191.5 367.0z" fill="rgb(229,0,0)"/>
<path d="M286.2 360.6V373.4L297.3 367.0z" fill="rgb(219,0,0)"/>
<path d="M311.9 362.3V374.8L322.7 368.5z" fill="rgb(57,0,0)"/>
<path d="M355.5 432.5V445.5L344.2 439.0z" fill="rgb(40,0,0)"/>
<path d="M395.0 364.9V376.9L405.5 370.9z" fill="rgb(174,0,0)"/>
<path d="M293.0 350.5V363.7L304.4 357.1z" fill="rgb(187,0,0)"/>
<path d="M350.4 413.0V423.3L341.5 418.1z" fill="rgb(21,0,0)"/>
<path d="M183.7 432.1V445.1L172.3 438.6z" fill="rgb(214,0,0)"/>
<path d="M272.9 332.1V338.4L278.4 335.3z" fill="rgb(207,0,0)"/>
<path d="M380.1 437.7V449.9L369.5 443.8z" fill="rgb(206,0,0)"/>
<path d="M393.7 356.7V369.9L405.2 363.3z" fill="rgb(179,0,0)"/>
<path d="M521.0 400.8V403.4L518.8 402.1z" fill="rgb(35,0,0)"/>
<path d="M435.1 317.9V320.4L432.9 319.2z" fill="rgb(0,0,0)"/>
<path d="M365.8 356.0V369.3L377.2 362.7z" fill="rgb(188,0,0)"/>
<path d="M365.5 345.7V358.1L376.3 351.9z" fill="rgb(185,0,0)"/>
<path d="M428.8 384.5V390.1L433.6 387.3z" fill="rgb(2,0,0)"/>
<path d="M414.0 369.7V380.5L423.4 375.1z" fill="rgb(45,0,0)"/>
<path d="M354.2 380.7V387.8L360.3 384.2z" fill="rgb(88,0,0)"/>
<path d="M362.8 318.5V320.7L360.9 319.6z" fill="rgb(122,0,0)"/>
<path d="M340.6 340.3V351.1L349.9 345.7z" fill="rgb(18,0,0)"/>
<path d="M431.0 401.5V404.7L428.2 403.1z" fill="rgb(4,0,0)"/>
<path d="M249.5 435.4V448.0L238.5 441.7z" fill="rgb(12,0,0)"/>
<path d="M258.1 353.5V366.8L269.7 360.2z" fill="rgb(133,0,0)"/>
<path d="M453.9 424.0V437.2L442.6 430.6z" fill="rgb(35,0,0)"/>
<path d="M383.9 400.7V403.3L381.6 402.0z" fill="rgb(229,0,0)"/>
<path d="M382.6 406.2V412.8L376.9 409.5z" fill="rgb(223,0,0)"/>
<path d="M261.6 390.3V393.4L264.2 391.9z" fill="rgb(126,0,0)"/>
<path d="M285.8 420.1V432.7L274.9 426.4z" fill="rgb(223,0,0)"/>
<path d="M296.3 340.3V351.0L305.6 345.7z" fill="rgb(173,0,0)"/>
<path d="M215.9 450.3V458.9L208.4 454.6z" fill="rgb(96,0,0)"/>
<path d="M308.0 430.0V443.3L296.5 436.6z" fill="rgb(165,0,0)"/>
<path d="M342.8 429.8V443.0L331.3 436.4z" fill="rgb(1,0,0)"/>
<path d="M362.1 409.9V418.7L354.5 414.3z" fill="rgb(96,0,0)"/>
<path d="M412.8 423.8V436.9L401.4 430.3z" fill="rgb(126,0,0)"/>
<path d="M356.0 446.3V456.2L347.3 451.3z" fill="rgb(50,0,0)"/>
<path d="M369.7 432.3V445.3L358.4 438.8z" fill="rgb(138,0,0)"/>
<path d="M384.3 411.4V420.9L376.1 416.2z" fill="rgb(224,0,0)"/>
<path d="M390.0 466.9V468.8L388.4 467.9z" fill="rgb(224,0,0)"/>
<path d="M244.6 367.9V379.2L254.4 373.6z" fill="rgb(35,0,0)"/>
<path d="M321.7 430.6V443.8L310.3 437.2z" fill="rgb(65,0,0)"/>
<path d="M268.2 415.9V427.3L258.3 421.6z" fill="rgb(128,0,0)"/>
<path d="M319.1 438.6V450.6L308.6 444.6z" fill="rgb(80,0,0)"/>
<path d="M327.4 421.2V434.0L316.3 427.6z" fill="rgb(31,0,0)"/>
<path d="M416.1 420.2V432.8L405.2 426.5z" fill="rgb(99,0,0)"/>
<path d="M402.5 440.5V452.1L392.5 446.3z" fill="rgb(191,0,0)"/>
<path d="M388.1 464.6V467.5L385.5 466.1z" fill="rgb(228,0,0)"/>
<path d="M325.5 354.4V367.7L337.0 361.0z" fill="rgb(2,0,0)"/>
<path d="M195.8 363.9V376.1L206.4 370.0z" fill="rgb(176,0,0)"/>
<path d="M330.5 405.3V411.3L325.4 408.3z" fill="rgb(8,0,0)"/>
<path d="M336.6 422.4V435.3L325.3 428.9z" fill="rgb(2,0,0)"/>
<path d="M342.0 362.4V374.9L352.8 368.6z" fill="rgb(28,0,0)"/>
<path d="M330.4 449.0V458.1L322.5 453.6z" fill="rgb(13,0,0)"/>
<path d="M380.7 360.6V373.4L391.7 367.0z" fill="rgb(229,0,0)"/>
<path d="M343.1 409.2V417.5L335.9 413.4z" fill="rgb(3,0,0)"/>
<path d="M380.3 341.9V353.3L390.2 347.6z" fill="rgb(229,0,0)"/>
<path d="M254.1 346.4V359.0L265.0 352.7z" fill="rgb(101,0,0)"/>
<path d="M373.5 448.6V457.8L365.5 453.2z" fill="rgb(176,0,0)"/>
<path d="M350.4 481.6V489.0L356.8 485.3z" fill="rgb(63,0,0)"/>
<path d="M408.5 403.8V408.6L404.3 406.2z" fill="rgb(131,0,0)"/>
<path d="M278.1 474.9V477.9L280.7 476.4z" fill="rgb(221,0,0)"/>
<path d="M256.2 362.0V374.6L267.1 368.3z" fill="rgb(116,0,0)"/>
<path d="M410.0 415.9V427.3L400.1 421.6z" fill="rgb(141,0,0)"/>
<path d="M434.3 319.1V321.0L432.5 320.0z" fill="rgb(0,0,0)"/>
<path d="M343.3 458.9V464.2L338.7 461.6z" fill="rgb(6,0,0)"/>
<path d="M314.3 333.2V340.2L320.4 336.7z" fill="rgb(57,0,0)"/>
<path d="M292.6 331.7V337.8L297.8 334.7z" fill="rgb(206,0,0)"/>
<path d="M419.6 329.8V334.6L423.8 332.2z" fill="rgb(29,0,0)"/>
<path d="M294.2 339.3V349.7L303.2 344.5z" fill="rgb(187,0,0)"/>
<path d="M268.9 290.3V302.5L258.3 296.4z" fill="rgb(131,0,0)"/>
<path d="M375.9 452.4V460.3L369.1 456.3z" fill="rgb(194,0,0)"/>
<path d="M269.2 358.2V371.2L280.5 364.7z" fill="rgb(203,0,0)"/>
<path d="M383.5 382.9V389.1L388.9 386.0z" fill="rgb(229,0,0)"/>
<path d="M364.1 463.5V466.9L361.2 465.2z" fill="rgb(128,0,0)"/>
<path d="M257.2 457.7V463.5L252.1 460.6z" fill="rgb(66,0,0)"/>
<path d="M285.0 439.8V451.6L274.8 445.7z" fill="rgb(222,0,0)"/>
<path d="M355.4 376.6V385.2L362.9 380.9z" fill="rgb(102,0,0)"/>
<path d="M350.6 345.2V357.5L361.3 351.3z" fill="rgb(79,0,0)"/>
<path d="M306.1 360.0V372.8L317.3 366.4z" fill="rgb(95,0,0)"/>
<path d="M267.1 486.4V496.4L275.9 491.4z" fill="rgb(185,0,0)"/>
<path d="M324.2 377.6V385.8L331.3 381.7z" fill="rgb(9,0,0)"/>
<path d="M253.7 358.3V371.4L265.1 364.9z" fill="rgb(99,0,0)"/>
<path d="M405.4 466.4V468.5L403.6 467.5z" fill="rgb(145,0,0)"/>
<path d="M292.1 453.3V460.8L285.6 457.1z" fill="rgb(226,0,0)"/>
<path d="M374.2 357.0V370.1L385.6 363.5z" fill="rgb(224,0,0)"/>
<path d="M369.3 385.0V390.4L373.9 387.7z" fill="rgb(189,0,0)"/>
<path d="M342.1 281.4V294.6L330.7 288.0z" fill="rgb(0,0,0)"/>
<path d="M334.6 354.5V367.8L346.1 361.2z" fill="rgb(5,0,0)"/>
<path d="M407.4 325.9V327.8L409.0 326.9z" fill="rgb(118,0,0)"/>
<path d="M346.3 403.1V407.5L342.5 405.3z" fill="rgb(15,0,0)"/>
<path d="M322.1 337.6V347.1L330.3 342.3z" fill="rgb(13,0,0)"/>
<path d="M341.1 447.0V456.7L332.6 451.9z" fill="rgb(0,0,0)"/>
<path d="M353.1 402.2V406.0L349.8 404.1z" fill="rgb(49,0,0)"/>
<path d="M344.0 441.5V452.8L334.1 447.1z" fill="rgb(2,0,0)"/>
<path d="M315.6 411.2V420.7L307.4 416.0z" fill="rgb(97,0,0)"/>
<path d="M337.2 341.0V352.1L346.7 346.5z" fill="rgb(8,0,0)"/>
<path d="M367.3 386.0V390.9L371.6 388.4z" fill="rgb(176,0,0)"/>
<path d="M320.4 383.2V389.3L325.6 386.2z" fill="rgb(26,0,0)"/>
<path d="M382.5 409.9V418.6L374.9 414.2z" fill="rgb(220,0,0)"/>
<path d="M415.2 372.6V382.5L423.8 377.6z" fill="rgb(41,0,0)"/>
<path d="M343.4 405.7V411.8L338.0 408.7z" fill="rgb(5,0,0)"/>
<path d="M242.0 435.0V447.7L231.0 441.4z" fill="rgb(0,0,0)"/>
<path d="M309.5 417.3V429.2L299.3 423.2z" fill="rgb(150,0,0)"/>
<path d="M368.0 370.6V381.2L377.2 375.9z" fill="rgb(195,0,0)"/>
<path d="M442.1 306.7V313.9L435.9 310.3z" fill="rgb(3,0,0)"/>
<path d="M350.5 464.2V467.3L347.8 465.8z" fill="rgb(36,0,0)"/>
<path d="M355.8 317.9V320.4L353.6 319.1z" fill="rgb(70,0,0)"/>
<path d="M332.0 402.3V406.0L328.8 404.1z" fill="rgb(3,0,0)"/>
<path d="M281.4 404.5V409.9L276.7 407.2z" fill="rgb(220,0,0)"/>
<path d="M457.5 426.1V439.4L446.0 432.7z" fill="rgb(54,0,0)"/>
<path d="M361.9 301.5V310.5L354.1 306.0z" fill="rgb(93,0,0)"/>
<path d="M178.2 411.9V421.7L169.8 416.8z" fill="rgb(196,0,0)"/>
<path d="M412.3 455.9V462.4L406.7 459.2z" fill="rgb(108,0,0)"/>
<path d="M336.7 476.6V480.8L340.3 478.7z" fill="rgb(2,0,0)"/>
<path d="M377.2 408.4V416.4L370.3 412.4z" fill="rgb(201,0,0)"/>
<path d="M390.2 383.8V389.6L395.3 386.7z" fill="rgb(214,0,0)"/>
<path d="M413.4 379.5V387.0L420.0 383.2z" fill="rgb(57,0,0)"/>
<path d="M305.6 354.0V367.3L317.1 360.7z" fill="rgb(98,0,0)"/>
<path d="M403.6 443.6V454.4L394.2 449.0z" fill="rgb(183,0,0)"/>
<path d="M444.8 334.4V342.2L451.6 338.3z" fill="rgb(34,0,0)"/>
<path d="M425.3 457.5V463.4L420.2 460.5z" fill="rgb(25,0,0)"/>
<path d="M179.4 378.3V386.3L186.4 382.3z" fill="rgb(227,0,0)"/>
<path d="M352.3 508.8V521.6L363.3 515.2z" fill="rgb(92,0,0)"/>
<path d="M252.9 405.4V411.5L247.6 408.5z" fill="rgb(39,0,0)"/>
<path d="M354.4 347.2V360.0L365.4 353.6z" fill="rgb(108,0,0)"/>
<path d="M313.6 348.3V361.2L324.7 354.8z" fill="rgb(46,0,0)"/>
<path d="M292.6 379.3V386.9L299.2 383.1z" fill="rgb(202,0,0)"/>
<path d="M389.3 465.1V467.8L387.0 466.4z" fill="rgb(227,0,0)"/>
<path d="M304.3 381.8V388.5L310.0 385.2z" fill="rgb(129,0,0)"/>
<path d="M530.1 420.7V433.3L519.1 427.0z" fill="rgb(15,0,0)"/>
<path d="M424.2 375.4V384.4L432.0 379.9z" fill="rgb(7,0,0)"/>
<path d="M359.2 374.2V383.6L367.3 378.9z" fill="rgb(132,0,0)"/>
<path d="M339.7 417.3V429.1L329.4 423.2z" fill="rgb(0,0,0)"/>
<path d="M182.5 389.7V393.1L185.5 391.4z" fill="rgb(229,0,0)"/>
<path d="M390.2 390.6V393.6L392.8 392.1z" fill="rgb(218,0,0)"/>
<path d="M397.5 422.5V435.5L386.3 429.0z" fill="rgb(217,0,0)"/>
<path d="M313.9 425.4V438.6L302.4 432.0z" fill="rgb(122,0,0)"/>
<path d="M329.4 375.7V384.6L337.1 380.2z" fill="rgb(0,0,0)"/>
<path d="M384.8 378.3V386.3L391.7 382.3z" fill="rgb(226,0,0)"/>
<path d="M411.7 513.0V525.0L422.1 519.0z" fill="rgb(56,0,0)"/>
<path d="M315.2 501.4V514.6L326.8 508.0z" fill="rgb(35,0,0)"/>
<path d="M363.7 416.7V428.4L353.6 422.5z" fill="rgb(98,0,0)"/>
<path d="M354.5 313.9V318.1L350.9 316.0z" fill="rgb(57,0,0)"/>
<path d="M293.4 381.8V388.4L299.2 385.1z" fill="rgb(200,0,0)"/>
<path d="M423.3 476.2V480.0L426.7 478.1z" fill="rgb(15,0,0)"/>
<path d="M256.0 355.7V369.0L267.5 362.3z" fill="rgb(117,0,0)"/>
<path d="M237.0 374.4V383.8L245.1 379.1z" fill="rgb(5,0,0)"/>
<path d="M380.2 354.4V367.7L391.7 361.0z" fill="rgb(229,0,0)"/>
<path d="M344.5 413.0V423.2L335.6 418.1z" fill="rgb(4,0,0)"/>
<path d="M340.9 416.4V428.0L330.9 422.2z" fill="rgb(0,0,0)"/>
<path d="M359.2 418.7V431.0L348.6 424.8z" fill="rgb(65,0,0)"/>
<path d="M276.6 425.6V438.8L265.2 432.2z" fill="rgb(181,0,0)"/>
<path d="M328.6 369.7V380.5L338.0 375.1z" fill="rgb(0,0,0)"/>
<path d="M289.7 410.7V419.9L281.7 415.3z" fill="rgb(229,0,0)"/>
<path d="M268.1 408.0V415.7L261.5 411.9z" fill="rgb(140,0,0)"/>
<path d="M271.0 459.4V464.5L266.6 461.9z" fill="rgb(168,0,0)"/>
<path d="M368.1 362.3V374.8L378.9 368.6z" fill="rgb(199,0,0)"/>
<path d="M269.6 385.1V390.4L274.2 387.7z" fill="rgb(188,0,0)"/>
<path d="M399.0 392.4V394.6L400.9 393.5z" fill="rgb(176,0,0)"/>
<path d="M331.3 381.3V388.1L337.2 384.7z" fill="rgb(0,0,0)"/>
<path d="M336.7 358.8V371.8L347.9 365.3z" fill="rgb(9,0,0)"/>
<path d="M376.5 433.5V446.4L365.3 439.9z" fill="rgb(185,0,0)"/>
<path d="M296.1 434.4V447.2L285.0 440.8z" fill="rgb(223,0,0)"/>
<path d="M375.3 340.4V351.2L384.6 345.8z" fill="rgb(224,0,0)"/>
<path d="M291.1 348.1V360.9L302.3 354.5z" fill="rgb(198,0,0)"/>
<path d="M435.7 443.1V454.0L426.2 448.5z" fill="rgb(2,0,0)"/>
<path d="M337.5 495.4V508.2L348.7 501.8z" fill="rgb(11,0,0)"/>
<path d="M244.0 404.2V409.3L239.5 406.8z" fill="rgb(6,0,0)"/>
<path d="M352.6 429.3V442.6L341.1 435.9z" fill="rgb(25,0,0)"/>
<path d="M327.8 355.0V368.3L339.3 361.6z" fill="rgb(0,0,0)"/>
<path d="M316.6 420.0V432.5L305.7 426.2z" fill="rgb(100,0,0)"/>
<path d="M309.3 453.1V460.7L302.7 456.9z" fill="rgb(138,0,0)"/>
<path d="M390.5 368.1V379.3L400.3 373.7z" fill="rgb(202,0,0)"/>
<path d="M324.1 353.8V367.1L335.6 360.5z" fill="rgb(4,0,0)"/>
<path d="M262.3 387.8V392.0L265.9 389.9z" fill="rgb(134,0,0)"/>
<path d="M366.2 421.7V434.5L355.1 428.1z" fill="rgb(113,0,0)"/>
<path d="M338.6 388.0V392.1L342.1 390.1z" fill="rgb(5,0,0)"/>
<path d="M275.9 308.9V315.1L270.5 312.0z" fill="rgb(195,0,0)"/>
<path d="M316.7 501.4V514.6L328.3 508.0z" fill="rgb(28,0,0)"/>
<path d="M390.7 386.1V391.0L394.9 388.6z" fill="rgb(213,0,0)"/>
<path d="M273.7 488.8V499.8L283.3 494.3z" fill="rgb(218,0,0)"/>
<path d="M286.7 299.4V309.2L278.3 304.3z" fill="rgb(228,0,0)"/>
<path d="M277.9 479.4V485.6L283.3 482.5z" fill="rgb(224,0,0)"/>
<path d="M392.7 419.7V432.1L381.9 425.9z" fill="rgb(228,0,0)"/>
<path d="M366.1 420.1V432.6L355.2 426.3z" fill="rgb(113,0,0)"/>
<path d="M396.4 315.3V318.9L393.2 317.1z" fill="rgb(205,0,0)"/>
<path d="M436.2 331.9V338.0L441.6 335.0z" fill="rgb(3,0,0)"/>
<path d="M356.9 392.5V394.6L358.8 393.6z" fill="rgb(92,0,0)"/>
<path d="M328.1 349.3V362.4L339.4 355.8z" fill="rgb(0,0,0)"/>
<path d="M352.3 365.8V377.6L362.5 371.7z" fill="rgb(89,0,0)"/>
<path d="M301.8 354.9V368.2L313.3 361.5z" fill="rgb(126,0,0)"/>
<path d="M436.7 427.9V441.2L425.2 434.6z" fill="rgb(2,0,0)"/>
<path d="M282.0 407.1V414.3L275.8 410.7z" fill="rgb(219,0,0)"/>
<path d="M346.4 474.2V476.5L348.4 475.3z" fill="rgb(27,0,0)"/>
<path d="M372.5 460.7V465.3L368.5 463.0z" fill="rgb(182,0,0)"/>
<path d="M362.8 386.2V391.1L367.0 388.6z" fill="rgb(144,0,0)"/>
<path d="M383.4 461.4V465.7L379.7 463.5z" fill="rgb(227,0,0)"/>
<path d="M300.0 403.5V408.1L295.9 405.8z" fill="rgb(192,0,0)"/>
<path d="M284.6 430.0V443.2L273.1 436.6z" fill="rgb(219,0,0)"/>
<path d="M321.2 424.3V437.4L309.8 430.9z" fill="rgb(69,0,0)"/>
<path d="M413.0 366.2V377.9L423.2 372.0z" fill="rgb(49,0,0)"/>
<path d="M350.8 405.0V410.7L345.9 407.8z" fill="rgb(32,0,0)"/>
<path d="M384.0 436.0V448.5L373.1 442.3z" fill="rgb(220,0,0)"/>
<path d="M262.6 391.8V394.2L264.7 393.0z" fill="rgb(131,0,0)"/>
<path d="M375.5 377.7V385.9L382.6 381.8z" fill="rgb(221,0,0)"/>
<path d="M314.4 368.1V379.3L324.1 373.7z" fill="rgb(45,0,0)"/>
<path d="M375.1 391.3V394.0L377.4 392.6z" fill="rgb(212,0,0)"/>
<path d="M257.9 425.0V438.2L246.4 431.6z" fill="rgb(50,0,0)"/>
<path d="M457.2 409.1V417.4L450.0 413.3z" fill="rgb(66,0,0)"/>
<path d="M349.6 415.8V427.2L339.7 421.5z" fill="rgb(16,0,0)"/>
<path d="M287.8 367.5V378.9L297.7 373.2z" fill="rgb(216,0,0)"/>
<path d="M298.6 434.5V447.2L287.5 440.9z" fill="rgb(215,0,0)"/>
<path d="M390.9 502.9V516.1L402.3 509.5z" fill="rgb(196,0,0)"/>
<path d="M364.4 400.5V402.9L362.3 401.7z" fill="rgb(133,0,0)"/>
<path d="M305.6 382.3V388.7L311.2 385.5z" fill="rgb(120,0,0)"/>
<path d="M326.1 414.6V425.5L316.6 420.0z" fill="rgb(34,0,0)"/>
<path d="M320.6 358.9V371.9L331.9 365.4z" fill="rgb(13,0,0)"/>
<path d="M374.2 418.1V430.1L363.7 424.1z" fill="rgb(173,0,0)"/>
<path d="M338.0 287.8V300.4L327.0 294.1z" fill="rgb(1,0,0)"/>
<path d="M347.1 439.1V451.0L336.8 445.1z" fill="rgb(8,0,0)"/>
<path d="M334.6 375.4V384.4L342.4 379.9z" fill="rgb(2,0,0)"/>
<path d="M346.0 428.2V441.5L334.5 434.9z" fill="rgb(4,0,0)"/>
<path d="M420.8 387.8V392.0L424.4 389.9z" fill="rgb(25,0,0)"/>
<path d="M300.9 411.2V420.6L292.7 415.9z" fill="rgb(198,0,0)"/>
<path d="M385.1 476.2V480.0L388.5 478.1z" fill="rgb(228,0,0)"/>
<path d="M281.5 353.7V367.0L293.0 360.4z" fill="rgb(229,0,0)"/>
<path d="M370.4 412.1V422.0L361.8 417.0z" fill="rgb(153,0,0)"/>
<path d="M298.8 442.4V453.5L289.1 447.9z" fill="rgb(211,0,0)"/>
<path d="M280.5 434.4V447.2L269.4 440.8z" fill="rgb(204,0,0)"/>
<path d="M451.5 391.4V394.0L453.7 392.7z" fill="rgb(60,0,0)"/>
<path d="M456.2 278.8V292.0L444.6 285.4z" fill="rgb(46,0,0)"/>
<path d="M275.7 367.6V379.0L285.6 373.3z" fill="rgb(224,0,0)"/>
<path d="M258.5 358.3V371.4L269.8 364.8z" fill="rgb(135,0,0)"/>
<path d="M271.2 408.9V417.1L264.1 413.0z" fill="rgb(160,0,0)"/>
<path d="M339.6 284.8V297.8L328.4 291.3z" fill="rgb(0,0,0)"/>
<path d="M269.8 413.1V423.4L260.9 418.3z" fill="rgb(144,0,0)"/>
<path d="M342.0 372.6V382.5L350.6 377.5z" fill="rgb(23,0,0)"/>
<path d="M317.0 438.0V450.2L306.5 444.1z" fill="rgb(95,0,0)"/>
<path d="M365.9 455.0V461.9L359.9 458.4z" fill="rgb(130,0,0)"/>
<path d="M335.2 407.1V414.1L329.1 410.6z" fill="rgb(1,0,0)"/>
<path d="M294.1 430.1V443.3L282.6 436.7z" fill="rgb(227,0,0)"/>
<path d="M308.7 428.3V441.6L297.1 435.0z" fill="rgb(160,0,0)"/>
<path d="M288.8 334.7V342.6L295.7 338.6z" fill="rgb(218,0,0)"/>
<path d="M425.3 335.0V343.1L432.4 339.1z" fill="rgb(5,0,0)"/>
<path d="M354.3 476.2V480.0L357.7 478.1z" fill="rgb(79,0,0)"/>
<path d="M360.7 356.2V369.4L372.1 362.8z" fill="rgb(155,0,0)"/>
<path d="M325.0 427.6V440.9L313.5 434.2z" fill="rgb(45,0,0)"/>
<path d="M353.7 385.3V390.5L358.2 387.9z" fill="rgb(79,0,0)"/>
<path d="M373.6 442.4V453.5L364.0 448.0z" fill="rgb(172,0,0)"/>
<path d="M287.0 349.7V362.8L298.3 356.3z" fill="rgb(216,0,0)"/>
<path d="M223.4 333.3V340.4L229.6 336.8z" fill="rgb(14,0,0)"/>
<path d="M331.3 371.7V381.9L340.1 376.8z" fill="rgb(0,0,0)"/>
<path d="M258.2 341.9V353.3L268.0 347.6z" fill="rgb(127,0,0)"/>
<path d="M281.0 338.1V347.9L289.5 343.0z" fill="rgb(229,0,0)"/>
<path d="M277.7 342.3V353.8L287.7 348.1z" fill="rgb(228,0,0)"/>
<path d="M410.2 383.6V389.5L415.3 386.6z" fill="rgb(84,0,0)"/>
<path d="M402.4 476.8V481.2L406.2 479.0z" fill="rgb(146,0,0)"/>
<path d="M348.8 416.3V427.8L338.9 422.0z" fill="rgb(14,0,0)"/>
<path d="M266.7 304.2V312.2L259.7 308.2z" fill="rgb(128,0,0)"/>
<path d="M300.2 375.4V384.4L308.0 379.9z" fill="rgb(151,0,0)"/>
<path d="M243.9 400.5V403.0L241.8 401.7z" fill="rgb(9,0,0)"/>
<path d="M315.0 434.6V447.4L304.0 441.0z" fill="rgb(112,0,0)"/>
<path d="M297.9 387.8V392.0L301.5 389.9z" fill="rgb(181,0,0)"/>
<path d="M356.8 344.3V356.3L367.3 350.3z" fill="rgb(124,0,0)"/>
<path d="M385.2 362.0V374.5L396.0 368.2z" fill="rgb(221,0,0)"/>
<path d="M373.2 403.0V407.3L369.5 405.1z" fill="rgb(187,0,0)"/>
<path d="M357.9 373.0V382.8L366.4 377.9z" fill="rgb(124,0,0)"/>
<path d="M394.4 407.2V414.4L388.1 410.8z" fill="rgb(219,0,0)"/>
<path d="M314.2 411.6V421.3L305.8 416.5z" fill="rgb(108,0,0)"/>
<path d="M297.0 340.1V350.8L306.2 345.5z" fill="rgb(169,0,0)"/>
<path d="M338.9 346.5V359.1L349.8 352.8z" fill="rgb(15,0,0)"/>
<path d="M375.2 308.2V314.8L369.6 311.5z" fill="rgb(193,0,0)"/>
<path d="M367.0 417.8V429.8L356.6 423.8z" fill="rgb(122,0,0)"/>
<path d="M261.9 414.5V425.5L252.5 420.0z" fill="rgb(84,0,0)"/>
<path d="M529.5 350.4V363.6L540.9 357.0z" fill="rgb(0,0,0)"/>
<path d="M276.8 382.8V389.1L282.2 385.9z" fill="rgb(221,0,0)"/>
<path d="M363.8 427.4V440.7L352.3 434.0z" fill="rgb(94,0,0)"/>
<path d="M256.0 438.8V450.8L245.6 444.8z" fill="rgb(42,0,0)"/>
<path d="M297.3 462.2V466.1L293.9 464.2z" fill="rgb(204,0,0)"/>
<path d="M355.1 403.5V408.2L351.0 405.9z" fill="rgb(59,0,0)"/>
<path d="M372.4 445.3V455.6L363.5 450.5z" fill="rgb(166,0,0)"/>
<path d="M307.5 386.8V391.4L311.5 389.1z" fill="rgb(112,0,0)"/>
<path d="M322.1 356.5V369.7L333.5 363.1z" fill="rgb(9,0,0)"/>
<path d="M250.4 451.6V459.8L243.4 455.7z" fill="rgb(23,0,0)"/>
<path d="M414.9 402.7V406.7L411.4 404.7z" fill="rgb(81,0,0)"/>
<path d="M412.7 417.1V428.9L402.5 423.0z" fill="rgb(122,0,0)"/>
<path d="M351.6 350.9V364.1L363.0 357.5z" fill="rgb(88,0,0)"/>
<path d="M418.9 402.0V405.5L415.8 403.7z" fill="rgb(53,0,0)"/>
<path d="M252.5 405.2V411.1L247.4 408.2z" fill="rgb(37,0,0)"/>
<path d="M348.4 388.2V392.2L351.8 390.2z" fill="rgb(41,0,0)"/>
<path d="M399.3 415.8V427.2L389.4 421.5z" fill="rgb(207,0,0)"/>
<path d="M366.9 313.5V317.9L363.1 315.7z" fill="rgb(145,0,0)"/>
<path d="M314.5 342.8V354.5L324.6 348.7z" fill="rgb(44,0,0)"/>
<path d="M346.2 426.1V439.4L334.7 432.7z" fill="rgb(5,0,0)"/>
<path d="M342.6 372.3V382.3L351.3 377.3z" fill="rgb(26,0,0)"/>
<path d="M225.6 364.2V376.4L236.1 370.3z" fill="rgb(3,0,0)"/>
<path d="M399.2 365.4V377.3L409.5 371.4z" fill="rgb(146,0,0)"/>
<path d="M367.4 370.4V381.0L376.6 375.7z" fill="rgb(191,0,0)"/>
<path d="M372.0 408.4V416.3L365.2 412.3z" fill="rgb(170,0,0)"/>
<path d="M366.4 386.1V391.0L370.7 388.5z" fill="rgb(170,0,0)"/>
<path d="M278.1 374.9V384.1L286.0 379.5z" fill="rgb(227,0,0)"/>
<path d="M403.9 400.5V402.8L401.8 401.6z" fill="rgb(157,0,0)"/>
<path d="M325.4 403.8V408.7L321.1 406.2z" fill="rgb(25,0,0)"/>
<path d="M332.4 365.0V377.0L342.8 371.0z" fill="rgb(1,0,0)"/>
<path d="M263.7 374.9V384.1L271.7 379.5z" fill="rgb(160,0,0)"/>
<path d="M359.5 409.3V417.7L352.2 413.5z" fill="rgb(78,0,0)"/>
<path d="M312.4 432.3V445.4L301.1 438.8z" fill="rgb(132,0,0)"/>
<path d="M360.2 428.2V441.5L348.6 434.8z" fill="rgb(68,0,0)"/>
<path d="M354.7 433.5V446.4L343.5 440.0z" fill="rgb(36,0,0)"/>
<path d="M240.6 408.7V416.7L233.6 412.7z" fill="rgb(0,0,0)"/>
<path d="M330.2 389.5V393.0L333.2 391.2z" fill="rgb(2,0,0)"/>
<path d="M336.6 421.5V434.3L325.5 427.9z" fill="rgb(2,0,0)"/>
<path d="M370.1 330.5V335.7L374.6 333.1z" fill="rgb(193,0,0)"/>
<path d="M305.0 452.1V460.1L298.0 456.1z" fill="rgb(170,0,0)"/>
<path d="M293.6 375.7V384.6L301.3 380.1z" fill="rgb(194,0,0)"/>
<path d="M325.4 428.1V441.4L313.9 434.7z" fill="rgb(43,0,0)"/>
<path d="M339.8 347.7V360.5L350.9 354.1z" fill="rgb(19,0,0)"/>
<path d="M318.4 436.6V449.0L307.7 442.8z" fill="rgb(86,0,0)"/>
<path d="M455.6 379.4V387.0L462.2 383.2z" fill="rgb(104,0,0)"/>
<path d="M399.9 349.0V362.0L411.1 355.5z" fill="rgb(137,0,0)"/>
<path d="M327.1 409.7V418.4L319.6 414.1z" fill="rgb(24,0,0)"/>
<path d="M374.4 431.4V444.5L363.0 438.0z" fill="rgb(171,0,0)"/>
<path d="M211.1 361.4V374.1L222.1 367.8z" fill="rgb(65,0,0)"/>
<path d="M336.0 364.0V376.2L346.6 370.1z" fill="rgb(6,0,0)"/>
<path d="M455.1 406.8V413.8L449.1 410.3z" fill="rgb(57,0,0)"/>
<path d="M323.7 360.2V373.1L334.8 366.7z" fill="rgb(5,0,0)"/>
<path d="M341.4 363.0V375.4L352.1 369.2z" fill="rgb(25,0,0)"/>
<path d="M444.9 409.0V417.2L437.7 413.1z" fill="rgb(8,0,0)"/>
<path d="M350.9 408.4V416.3L344.1 412.4z" fill="rgb(28,0,0)"/>
<path d="M393.4 427.5V440.8L381.9 434.2z" fill="rgb(227,0,0)"/>
<path d="M379.5 412.3V422.2L370.9 417.2z" fill="rgb(207,0,0)"/>
<path d="M338.5 432.8V445.8L327.2 439.3z" fill="rgb(1,0,0)"/>
<path d="M294.4 409.4V417.9L287.0 413.6z" fill="rgb(222,0,0)"/>
<path d="M405.2 371.8V382.0L414.0 376.9z" fill="rgb(107,0,0)"/>
<path d="M260.8 420.6V433.2L249.9 426.9z" fill="rgb(71,0,0)"/>
<path d="M385.4 404.5V409.9L380.7 407.2z" fill="rgb(229,0,0)"/>
<path d="M389.8 434.7V447.5L378.7 441.1z" fill="rgb(229,0,0)"/>
<path d="M461.9 412.5V422.5L453.3 417.5z" fill="rgb(95,0,0)"/>
<path d="M422.2 367.0V378.5L432.2 372.7z" fill="rgb(9,0,0)"/>
<path d="M242.4 389.8V393.1L245.3 391.4z" fill="rgb(12,0,0)"/>
<path d="M326.0 400.9V403.6L323.7 402.3z" fill="rgb(18,0,0)"/>
<path d="M264.2 426.1V439.4L252.7 432.8z" fill="rgb(92,0,0)"/>
<path d="M299.4 399.9V401.8L297.7 400.9z" fill="rgb(188,0,0)"/>
<path d="M319.6 344.5V356.6L330.1 350.6z" fill="rgb(18,0,0)"/>
<path d="M288.7 414.2V425.0L279.4 419.6z" fill="rgb(229,0,0)"/>
<path d="M430.4 341.5V352.8L440.2 347.1z" fill="rgb(0,0,0)"/>
<path d="M297.6 376.9V385.4L304.9 381.1z" fill="rgb(171,0,0)"/>
<path d="M362.1 373.3V383.0L370.6 378.1z" fill="rgb(155,0,0)"/>
<path d="M322.2 291.5V303.5L311.8 297.5z" fill="rgb(59,0,0)"/>
<path d="M293.5 425.0V438.3L282.0 431.7z" fill="rgb(228,0,0)"/>
<path d="M377.1 407.9V415.5L370.5 411.7z" fill="rgb(201,0,0)"/>
<path d="M356.1 354.9V368.2L367.6 361.6z" fill="rgb(122,0,0)"/>
<path d="M358.5 358.3V371.4L369.8 364.8z" fill="rgb(139,0,0)"/>
<path d="M286.0 549.5V552.9L283.0 551.2z" fill="rgb(229,0,0)"/>
<path d="M331.4 368.8V379.8L340.9 374.3z" fill="rgb(0,0,0)"/>
<path d="M281.0 403.2V407.6L277.1 405.4z" fill="rgb(220,0,0)"/>
<path d="M332.7 444.1V454.7L323.5 449.4z" fill="rgb(8,0,0)"/>
<path d="M340.1 451.3V459.6L333.0 455.4z" fill="rgb(0,0,0)"/>
<path d="M487.0 350.8V364.0L498.4 357.4z" fill="rgb(212,0,0)"/>
<path d="M375.9 413.6V424.1L366.8 418.9z" fill="rgb(187,0,0)"/>
<path d="M238.9 357.7V370.8L250.3 364.2z" fill="rgb(14,0,0)"/>
<path d="M388.9 369.6V380.4L398.3 375.0z" fill="rgb(210,0,0)"/>
<path d="M446.9 425.8V439.0L435.4 432.4z" fill="rgb(7,0,0)"/>
<path d="M297.5 435.2V447.9L286.5 441.6z" fill="rgb(218,0,0)"/>
<path d="M301.8 443.8V454.5L292.5 449.2z" fill="rgb(196,0,0)"/>
<path d="M250.3 400.4V402.7L248.2 401.6z" fill="rgb(34,0,0)"/>
<path d="M331.4 408.8V417.0L324.4 412.9z" fill="rgb(8,0,0)"/>
<path d="M350.3 411.2V420.6L342.2 415.9z" fill="rgb(22,0,0)"/>
<path d="M317.1 392.9V394.9L318.8 393.9z" fill="rgb(53,0,0)"/>
<path d="M335.1 336.9V346.1L343.0 341.5z" fill="rgb(2,0,0)"/>
<path d="M288.1 331.1V336.7L293.0 333.9z" fill="rgb(223,0,0)"/>
<path d="M388.4 356.6V369.8L399.9 363.2z" fill="rgb(208,0,0)"/>
<path d="M322.9 427.6V440.9L311.4 434.2z" fill="rgb(58,0,0)"/>
<path d="M277.1 405.2V411.1L272.0 408.1z" fill="rgb(202,0,0)"/>
<path d="M231.0 365.2V377.2L241.4 371.2z" fill="rgb(0,0,0)"/>
<path d="M354.0 434.5V447.3L343.0 440.9z" fill="rgb(33,0,0)"/>
<path d="M279.3 342.2V353.6L289.2 347.9z" fill="rgb(229,0,0)"/>
<path d="M245.6 385.7V390.8L250.0 388.2z" fill="rgb(27,0,0)"/>
<path d="M328.0 443.2V454.1L318.6 448.6z" fill="rgb(24,0,0)"/>
<path d="M305.7 380.0V387.3L312.1 383.7z" fill="rgb(116,0,0)"/>
<path d="M272.9 403.1V407.5L269.1 405.3z" fill="rgb(182,0,0)"/>
<path d="M359.6 348.4V361.4L370.8 354.9z" fill="rgb(147,0,0)"/>
<path d="M311.7 326.1V328.0L313.4 327.0z" fill="rgb(90,0,0)"/>
<path d="M271.3 341.5V352.7L281.0 347.1z" fill="rgb(209,0,0)"/>
<path d="M313.1 473.9V475.9L314.9 474.9z" fill="rgb(79,0,0)"/>
<path d="M458.4 346.0V358.6L469.2 352.3z" fill="rgb(141,0,0)"/>
<path d="M358.9 448.0V457.4L350.8 452.7z" fill="rgb(71,0,0)"/>
<path d="M309.9 473.9V476.0L311.7 475.0z" fill="rgb(102,0,0)"/>
<path d="M327.6 333.7V341.0L334.0 337.4z" fill="rgb(3,0,0)"/>
<path d="M360.5 333.2V340.2L366.6 336.7z" fill="rgb(135,0,0)"/>
<path d="M297.0 340.8V351.7L306.4 346.2z" fill="rgb(168,0,0)"/>
<path d="M262.1 369.8V380.6L271.5 375.2z" fill="rgb(154,0,0)"/>
<path d="M178.0 385.3V390.5L182.6 387.9z" fill="rgb(222,0,0)"/>
<path d="M368.9 353.8V367.1L380.4 360.5z" fill="rgb(205,0,0)"/>
<path d="M303.9 400.7V403.2L301.7 401.9z" fill="rgb(161,0,0)"/>
<path d="M408.9 376.5V385.1L416.3 380.8z" fill="rgb(85,0,0)"/>
<path d="M275.8 338.6V348.6L284.5 343.6z" fill="rgb(223,0,0)"/>
<path d="M379.3 402.0V405.6L376.2 403.8z" fill="rgb(218,0,0)"/>
<path d="M359.2 412.3V422.3L350.5 417.3z" fill="rgb(71,0,0)"/>
<path d="M317.3 400.3V402.5L315.4 401.4z" fill="rgb(63,0,0)"/>
<path d="M363.7 376.2V384.9L371.3 380.5z" fill="rgb(163,0,0)"/>
<path d="M267.2 380.3V387.6L273.5 383.9z" fill="rgb(178,0,0)"/>
<path d="M328.4 428.4V441.7L316.9 435.0z" fill="rgb(28,0,0)"/>
<path d="M288.8 435.7V448.3L277.9 442.0z" fill="rgb(229,0,0)"/>
<path d="M338.0 338.9V349.1L346.8 344.0z" fill="rgb(9,0,0)"/>
<path d="M322.5 456.9V463.0L317.2 460.0z" fill="rgb(42,0,0)"/>
<path d="M170.3 408.7V416.9L163.3 412.8z" fill="rgb(150,0,0)"/>
<path d="M349.9 385.0V390.3L354.5 387.7z" fill="rgb(54,0,0)"/>
<path d="M302.0 354.2V367.5L313.5 360.8z" fill="rgb(125,0,0)"/>
<path d="M264.8 391.2V393.9L267.2 392.6z" fill="rgb(148,0,0)"/>
<path d="M310.5 423.0V436.0L299.2 429.5z" fill="rgb(146,0,0)"/>
<path d="M372.9 404.2V409.3L368.5 406.8z" fill="rgb(184,0,0)"/>
<path d="M302.1 458.5V464.0L297.3 461.3z" fill="rgb(181,0,0)"/>
<path d="M340.9 332.2V338.7L346.5 335.5z" fill="rgb(13,0,0)"/>
<path d="M301.6 332.4V338.9L307.3 335.6z" fill="rgb(149,0,0)"/>
<path d="M349.5 410.5V419.5L341.6 415.0z" fill="rgb(20,0,0)"/>
<path d="M366.5 377.0V385.5L373.8 381.2z" fill="rgb(180,0,0)"/>
<path d="M361.9 431.3V444.4L350.5 437.9z" fill="rgb(81,0,0)"/>
<path d="M211.1 409.4V417.9L203.8 413.6z" fill="rgb(131,0,0)"/>
<path d="M316.5 403.3V407.8L312.6 405.6z" fill="rgb(75,0,0)"/>
<path d="M331.8 368.3V379.5L341.5 373.9z" fill="rgb(0,0,0)"/>
<path d="M324.5 372.6V382.5L333.1 377.6z" fill="rgb(6,0,0)"/>
<path d="M352.4 414.8V425.8L342.9 420.3z" fill="rgb(29,0,0)"/>
<path d="M247.0 363.2V375.6L257.7 369.4z" fill="rgb(51,0,0)"/>
<path d="M305.7 301.4V310.4L297.9 305.9z" fill="rgb(168,0,0)"/>
<path d="M372.3 424.7V437.9L360.9 431.3z" fill="rgb(157,0,0)"/>
<path d="M298.0 515.9V527.1L307.8 521.5z" fill="rgb(160,0,0)"/>
<path d="M368.1 420.0V432.5L357.3 426.2z" fill="rgb(128,0,0)"/>
<path d="M263.6 362.8V375.2L274.3 369.0z" fill="rgb(169,0,0)"/>
<path d="M314.5 332.5V339.2L320.2 335.8z" fill="rgb(57,0,0)"/>
<path d="M271.5 333.8V341.3L278.0 337.6z" fill="rgb(203,0,0)"/>
<path d="M318.7 367.9V379.2L328.5 373.5z" fill="rgb(23,0,0)"/>
<path d="M360.3 415.5V426.8L350.5 421.1z" fill="rgb(75,0,0)"/>
<path d="M313.3 406.6V413.3L307.4 410.0z" fill="rgb(106,0,0)"/>
<path d="M373.2 368.7V379.8L382.8 374.2z" fill="rgb(218,0,0)"/>
<path d="M402.5 376.7V385.2L410.0 381.0z" fill="rgb(132,0,0)"/>
<path d="M286.2 434.8V447.5L275.1 441.2z" fill="rgb(224,0,0)"/>
<path d="M204.2 413.5V424.1L195.2 418.8z" fill="rgb(185,0,0)"/>
<path d="M292.8 363.0V375.4L303.6 369.2z" fill="rgb(190,0,0)"/>
<path d="M375.2 421.0V433.7L364.2 427.3z" fill="rgb(178,0,0)"/>
<path d="M311.3 433.8V446.7L300.2 440.3z" fill="rgb(140,0,0)"/>
<path d="M291.7 415.6V427.0L281.9 421.3z" fill="rgb(229,0,0)"/>
<path d="M399.6 440.5V452.1L389.5 446.3z" fill="rgb(206,0,0)"/>
<path d="M342.3 452.6V460.4L335.6 456.5z" fill="rgb(2,0,0)"/>
<path d="M273.5 407.2V414.4L267.3 410.8z" fill="rgb(178,0,0)"/>
<path d="M269.7 364.0V376.2L280.2 370.1z" fill="rgb(204,0,0)"/>
<path d="M293.5 399.8V401.7L291.9 400.7z" fill="rgb(216,0,0)"/>
<path d="M343.2 430.0V443.3L331.8 436.7z" fill="rgb(1,0,0)"/>
<path d="M347.6 354.1V367.4L359.1 360.7z" fill="rgb(61,0,0)"/>
<path d="M348.8 392.0V394.4L350.9 393.2z" fill="rgb(40,0,0)"/>
<path d="M291.9 379.3V386.9L298.4 383.1z" fill="rgb(206,0,0)"/>
<path d="M299.3 386.4V391.2L303.4 388.8z" fill="rgb(171,0,0)"/>
<path d="M297.8 374.1V383.6L306.0 378.9z" fill="rgb(167,0,0)"/>
<path d="M284.3 388.8V392.5L287.6 390.7z" fill="rgb(229,0,0)"/>
<path d="M286.7 426.9V440.2L275.2 433.6z" fill="rgb(225,0,0)"/>
<path d="M144.7 358.9V371.9L155.9 365.4z" fill="rgb(36,0,0)"/>
<path d="M408.2 367.8V379.1L418.0 373.4z" fill="rgb(82,0,0)"/>
<path d="M289.3 410.2V419.1L281.6 414.7z" fill="rgb(229,0,0)"/>
<path d="M348.3 361.8V374.4L359.2 368.1z" fill="rgb(64,0,0)"/>
<path d="M350.1 367.2V378.7L360.1 372.9z" fill="rgb(73,0,0)"/>
<path d="M424.5 390.1V393.3L427.3 391.7z" fill="rgb(13,0,0)"/>
<path d="M286.8 378.9V386.7L293.5 382.8z" fill="rgb(224,0,0)"/>
<path d="M381.0 518.6V529.0L390.0 523.8z" fill="rgb(229,0,0)"/>
<path d="M430.6 331.1V336.8L435.5 334.0z" fill="rgb(0,0,0)"/>
<path d="M308.9 388.8V392.6L312.1 390.7z" fill="rgb(104,0,0)"/>
<path d="M396.9 421.7V434.5L385.8 428.1z" fill="rgb(219,0,0)"/>
<path d="M339.8 429.5V442.8L328.3 436.2z" fill="rgb(0,0,0)"/>
<path d="M473.1 404.5V409.9L468.5 407.2z" fill="rgb(188,0,0)"/>
<path d="M330.5 370.4V381.0L339.7 375.7z" fill="rgb(0,0,0)"/>
<path d="M345.3 388.4V392.3L348.7 390.3z" fill="rgb(26,0,0)"/>
<path d="M319.1 363.7V376.0L329.7 369.8z" fill="rgb(20,0,0)"/>
<path d="M395.8 382.5V388.8L401.4 385.6z" fill="rgb(184,0,0)"/>
<path d="M322.4 338.3V348.1L331.0 343.2z" fill="rgb(12,0,0)"/>
<path d="M297.1 493.7V506.3L307.9 500.0z" fill="rgb(163,0,0)"/>
<path d="M288.4 464.6V467.5L285.9 466.0z" fill="rgb(229,0,0)"/>
<path d="M324.9 432.4V445.4L313.6 438.9z" fill="rgb(45,0,0)"/>
<path d="M282.9 445.0V455.4L273.9 450.2z" fill="rgb(218,0,0)"/>
<path d="M331.0 355.6V368.8L342.5 362.2z" fill="rgb(0,0,0)"/>
<path d="M351.5 382.0V388.6L357.2 385.3z" fill="rgb(68,0,0)"/>
<path d="M264.6 411.1V420.4L256.5 415.7z" fill="rgb(108,0,0)"/>
<path d="M275.3 442.5V453.6L265.7 448.1z" fill="rgb(179,0,0)"/>
<path d="M439.7 435.1V447.8L428.7 441.5z" fill="rgb(0,0,0)"/>
<path d="M375.0 330.3V335.4L379.4 332.8z" fill="rgb(215,0,0)"/>
<path d="M204.9 339.8V350.4L214.0 345.1z" fill="rgb(116,0,0)"/>
<path d="M308.4 444.9V455.3L299.4 450.1z" fill="rgb(153,0,0)"/>
<path d="M262.2 358.4V371.4L273.5 364.9z" fill="rgb(161,0,0)"/>
<path d="M385.0 410.2V419.2L377.2 414.7z" fill="rgb(226,0,0)"/>
<path d="M234.0 342.4V353.9L244.0 348.1z" fill="rgb(2,0,0)"/>
<path d="M381.5 344.0V356.0L391.9 350.0z" fill="rgb(229,0,0)"/>
<path d="M370.5 379.5V387.0L377.0 383.3z" fill="rgb(200,0,0)"/>
<path d="M326.8 438.9V450.9L316.4 444.9z" fill="rgb(32,0,0)"/>
<path d="M314.0 348.9V361.8L325.2 355.3z" fill="rgb(43,0,0)"/>
<path d="M236.7 382.0V388.6L242.4 385.3z" fill="rgb(2,0,0)"/>
<path d="M330.4 333.1V340.1L336.4 336.6z" fill="rgb(0,0,0)"/>
<path d="M240.7 368.7V379.8L250.3 374.2z" fill="rgb(17,0,0)"/>
<path d="M348.1 408.5V416.5L341.2 412.5z" fill="rgb(16,0,0)"/>
<path d="M343.8 337.0V346.2L351.8 341.6z" fill="rgb(30,0,0)"/>
<path d="M345.6 348.2V361.0L356.7 354.6z" fill="rgb(47,0,0)"/>
<path d="M389.4 370.7V381.2L398.5 375.9z" fill="rgb(209,0,0)"/>
<path d="M349.9 366.6V378.3L360.0 372.4z" fill="rgb(72,0,0)"/>
<path d="M367.6 447.1V456.8L359.2 452.0z" fill="rgb(133,0,0)"/>
<path d="M502.9 463.8V467.0L500.1 465.4z" fill="rgb(162,0,0)"/>
<path d="M409.0 391.0V393.8L411.5 392.4z" fill="rgb(102,0,0)"/>
<path d="M282.2 444.7V455.1L273.1 449.9z" fill="rgb(215,0,0)"/>
<path d="M277.5 328.6V332.5L280.8 330.5z" fill="rgb(220,0,0)"/>
<path d="M361.0 403.6V408.3L356.9 406.0z" fill="rgb(100,0,0)"/>
<path d="M385.8 361.9V374.5L396.7 368.2z" fill="rgb(219,0,0)"/>
<path d="M461.7 428.2V441.5L450.2 434.9z" fill="rgb(83,0,0)"/>
<path d="M256.8 410.5V419.6L248.9 415.0z" fill="rgb(54,0,0)"/>
<path d="M313.0 408.1V415.9L306.3 412.0z" fill="rgb(111,0,0)"/>
<path d="M340.3 366.7V378.3L350.3 372.5z" fill="rgb(19,0,0)"/>
<path d="M384.5 349.0V362.0L395.8 355.5z" fill="rgb(222,0,0)"/>
<path d="M298.0 361.5V374.1L309.0 367.8z" fill="rgb(156,0,0)"/>
<path d="M335.0 416.1V427.6L325.1 421.8z" fill="rgb(4,0,0)"/>
<path d="M359.2 422.0V434.8L348.0 428.4z" fill="rgb(63,0,0)"/>
<path d="M336.0 421.0V433.7L325.0 427.3z" fill="rgb(3,0,0)"/>
<path d="M250.5 357.9V371.0L261.9 364.4z" fill="rgb(76,0,0)"/>
<path d="M209.4 433.0V446.0L198.2 439.5z" fill="rgb(158,0,0)"/>
<path d="M433.4 380.3V387.5L439.7 383.9z" fill="rgb(1,0,0)"/>
<path d="M295.8 367.8V379.1L305.6 373.5z" fill="rgb(175,0,0)"/>
<path d="M424.7 409.1V417.5L417.5 413.3z" fill="rgb(32,0,0)"/>
<path d="M275.2 350.4V363.5L286.6 356.9z" fill="rgb(225,0,0)"/>
<path d="M325.6 385.7V390.7L330.0 388.2z" fill="rgb(9,0,0)"/>
<path d="M366.8 375.9V384.7L374.4 380.3z" fill="rgb(183,0,0)"/>
<path d="M302.3 344.9V357.1L312.9 351.0z" fill="rgb(126,0,0)"/>
<path d="M259.9 356.5V369.7L271.4 363.1z" fill="rgb(146,0,0)"/>
<path d="M303.8 420.1V432.7L292.9 426.4z" fill="rgb(189,0,0)"/>
<path d="M361.5 353.1V366.4L373.0 359.7z" fill="rgb(161,0,0)"/>
<path d="M342.0 414.3V425.1L332.6 419.7z" fill="rgb(1,0,0)"/>
<path d="M308.3 385.6V390.7L312.7 388.1z" fill="rgb(105,0,0)"/>
<path d="M297.7 408.4V416.2L290.9 412.3z" fill="rgb(210,0,0)"/>
<path d="M389.6 367.9V379.2L399.4 373.6z" fill="rgb(206,0,0)"/>
<path d="M278.8 430.9V444.1L267.4 437.5z" fill="rgb(194,0,0)"/>
<path d="M268.0 385.5V390.6L272.4 388.0z" fill="rgb(177,0,0)"/>
<path d="M375.0 359.6V372.5L386.2 366.0z" fill="rgb(225,0,0)"/>
<path d="M275.7 347.4V360.1L286.8 353.7z" fill="rgb(225,0,0)"/>
<path d="M250.4 452.1V460.1L243.5 456.1z" fill="rgb(23,0,0)"/>
<path d="M317.6 386.8V391.4L321.5 389.1z" fill="rgb(43,0,0)"/>
<path d="M350.0 431.7V444.8L338.6 438.2z" fill="rgb(15,0,0)"/>
<path d="M402.9 263.9V273.5L394.5 268.7z" fill="rgb(184,0,0)"/>
<path d="M398.0 388.4V392.3L401.4 390.3z" fill="rgb(178,0,0)"/>
<path d="M418.3 265.3V275.5L409.5 270.4z" fill="rgb(76,0,0)"/>
<path d="M376.6 381.0V388.0L382.6 384.5z" fill="rgb(223,0,0)"/>
<path d="M315.3 423.1V436.1L304.0 429.6z" fill="rgb(111,0,0)"/>
<path d="M414.1 344.5V356.6L424.6 350.6z" fill="rgb(41,0,0)"/>
<path d="M339.7 414.1V424.8L330.4 419.4z" fill="rgb(0,0,0)"/>
<path d="M229.4 309.4V315.4L224.2 312.4z" fill="rgb(13,0,0)"/>
<path d="M368.9 389.9V393.2L371.8 391.5z" fill="rgb(181,0,0)"/>
<path d="M414.2 445.5V455.7L405.4 450.6z" fill="rgb(105,0,0)"/>
<path d="M430.8 416.6V428.2L420.7 422.4z" fill="rgb(13,0,0)"/>
<path d="M326.4 353.7V367.0L338.0 360.4z" fill="rgb(1,0,0)"/>
<path d="M204.8 358.2V371.2L216.2 364.7z" fill="rgb(109,0,0)"/>
<path d="M427.5 405.3V411.2L422.4 408.2z" fill="rgb(16,0,0)"/>
<path d="M350.2 387.2V391.6L354.1 389.4z" fill="rgb(54,0,0)"/>
<path d="M401.4 350.1V363.2L412.8 356.7z" fill="rgb(126,0,0)"/>
<path d="M292.3 380.2V387.5L298.6 383.8z" fill="rgb(204,0,0)"/>
<path d="M349.7 436.9V449.3L339.0 443.1z" fill="rgb(15,0,0)"/>
<path d="M407.2 475.8V479.4L410.2 477.6z" fill="rgb(114,0,0)"/>
<path d="M287.8 373.7V383.3L296.1 378.5z" fill="rgb(218,0,0)"/>
<path d="M401.7 418.8V431.0L391.1 424.9z" fill="rgb(197,0,0)"/>
<path d="M358.3 432.4V445.5L347.1 438.9z" fill="rgb(57,0,0)"/>
<path d="M384.0 337.5V347.0L392.2 342.3z" fill="rgb(227,0,0)"/>
<path d="M320.5 413.0V423.2L311.6 418.1z" fill="rgb(65,0,0)"/>
<path d="M246.1 405.1V410.9L241.1 408.0z" fill="rgb(11,0,0)"/>
<path d="M472.3 406.3V412.9L466.5 409.6z" fill="rgb(179,0,0)"/>
<path d="M419.0 377.7V385.9L426.2 381.8z" fill="rgb(25,0,0)"/>
<path d="M338.6 479.7V486.1L344.0 482.9z" fill="rgb(6,0,0)"/>
<path d="M403.5 460.2V465.0L399.4 462.6z" fill="rgb(166,0,0)"/>
<path d="M280.8 415.7V427.0L271.0 421.3z" fill="rgb(208,0,0)"/>
<path d="M310.7 430.7V443.9L299.3 437.3z" fill="rgb(145,0,0)"/>
<path d="M257.2 402.4V406.2L253.9 404.3z" fill="rgb(72,0,0)"/>
<path d="M409.6 366.6V378.2L419.6 372.4z" fill="rgb(71,0,0)"/>
<path d="M296.9 413.6V424.1L287.7 418.9z" fill="rgb(217,0,0)"/>
<path d="M349.1 405.2V411.1L344.0 408.1z" fill="rgb(24,0,0)"/>
<path d="M305.4 378.0V386.1L312.4 382.0z" fill="rgb(117,0,0)"/>
<path d="M283.8 371.9V382.0L292.6 377.0z" fill="rgb(227,0,0)"/>
<path d="M346.2 379.3V386.9L352.8 383.1z" fill="rgb(38,0,0)"/>
<path d="M386.1 338.8V348.8L394.8 343.8z" fill="rgb(221,0,0)"/>
<path d="M401.7 462.0V466.0L398.2 464.0z" fill="rgb(176,0,0)"/>
<path d="M357.9 401.5V404.7L355.1 403.1z" fill="rgb(83,0,0)"/>
<path d="M324.9 327.6V330.7L327.6 329.2z" fill="rgb(13,0,0)"/>
<path d="M270.0 331.7V337.7L275.3 334.7z" fill="rgb(192,0,0)"/>
<path d="M368.8 405.3V411.3L363.6 408.3z" fill="rgb(154,0,0)"/>
<path d="M317.4 417.6V429.6L307.0 423.6z" fill="rgb(92,0,0)"/>
<path d="M289.7 384.9V390.3L294.3 387.6z" fill="rgb(218,0,0)"/>
<path d="M361.2 345.2V357.5L371.9 351.4z" fill="rgb(156,0,0)"/>
<path d="M448.4 405.0V410.8L443.4 407.9z" fill="rgb(23,0,0)"/>
<path d="M467.7 414.7V425.7L458.1 420.2z" fill="rgb(134,0,0)"/>
<path d="M256.0 326.2V328.3L257.8 327.3z" fill="rgb(82,0,0)"/>
<path d="M301.6 380.7V387.8L307.8 384.2z" fill="rgb(147,0,0)"/>
<path d="M309.7 336.2V345.0L317.4 340.6z" fill="rgb(82,0,0)"/>
<path d="M434.4 351.9V365.1L445.9 358.5z" fill="rgb(5,0,0)"/>
<path d="M278.8 358.9V371.9L290.0 365.4z" fill="rgb(229,0,0)"/>
<path d="M299.9 417.5V429.4L289.6 423.4z" fill="rgb(208,0,0)"/>
<path d="M365.3 388.4V392.3L368.7 390.4z" fill="rgb(159,0,0)"/>
<path d="M412.2 413.7V424.3L403.1 419.0z" fill="rgb(121,0,0)"/>
<path d="M232.1 346.4V359.0L243.0 352.7z" fill="rgb(1,0,0)"/>
<path d="M274.1 362.6V375.1L284.9 368.9z" fill="rgb(221,0,0)"/>
<path d="M271.9 387.4V391.7L275.7 389.6z" fill="rgb(198,0,0)"/>
<path d="M254.0 411.6V421.2L245.7 416.4z" fill="rgb(37,0,0)"/>
<path d="M481.5 413.2V423.6L472.5 418.4z" fill="rgb(217,0,0)"/>
<path d="M335.9 418.2V430.3L325.4 424.3z" fill="rgb(3,0,0)"/>
<path d="M316.7 401.8V405.3L313.8 403.5z" fill="rgb(70,0,0)"/>
<path d="M400.0 382.3V388.8L405.6 385.5z" fill="rgb(157,0,0)"/>
<path d="M464.5 312.6V317.4L460.3 315.0z" fill="rgb(130,0,0)"/>
<path d="M311.2 439.3V451.2L300.9 445.2z" fill="rgb(138,0,0)"/>
<path d="M300.7 362.8V375.2L311.5 369.0z" fill="rgb(137,0,0)"/>
<path d="M402.8 350.4V363.5L414.2 356.9z" fill="rgb(115,0,0)"/>
<path d="M321.3 404.9V410.5L316.4 407.7z" fill="rgb(48,0,0)"/>
<path d="M359.7 415.1V426.3L350.1 420.7z" fill="rgb(71,0,0)"/>
<path d="M278.8 412.3V422.3L270.2 417.3z" fill="rgb(202,0,0)"/>
<path d="M415.0 466.8V468.7L413.3 467.8z" fill="rgb(74,0,0)"/>
<path d="M323.6 384.4V390.0L328.5 387.2z" fill="rgb(14,0,0)"/>
<path d="M342.2 445.4V455.7L333.3 450.5z" fill="rgb(1,0,0)"/>
<path d="M261.1 274.2V287.0L249.9 280.6z" fill="rgb(72,0,0)"/>
<path d="M348.1 336.3V345.1L355.7 340.7z" fill="rgb(52,0,0)"/>
<path d="M444.8 458.6V464.0L440.1 461.3z" fill="rgb(11,0,0)"/>
<path d="M338.3 368.8V379.9L347.9 374.3z" fill="rgb(11,0,0)"/>
<path d="M434.0 480.1V486.7L439.8 483.4z" fill="rgb(1,0,0)"/>
<path d="M320.1 362.4V374.9L330.9 368.7z" fill="rgb(16,0,0)"/>
<path d="M377.0 518.9V529.3L386.0 524.1z" fill="rgb(227,0,0)"/>
<path d="M255.6 420.5V433.1L244.7 426.8z" fill="rgb(38,0,0)"/>
<path d="M329.1 390.2V393.3L331.9 391.7z" fill="rgb(3,0,0)"/>
<path d="M359.0 349.0V362.0L370.3 355.5z" fill="rgb(143,0,0)"/>
<path d="M484.7 423.3V436.3L473.3 429.8z" fill="rgb(223,0,0)"/>
<path d="M370.0 415.3V426.4L360.4 420.9z" fill="rgb(147,0,0)"/>
<path d="M303.3 343.9V355.8L313.7 349.9z" fill="rgb(119,0,0)"/>
<path d="M380.5 412.7V422.8L371.7 417.7z" fill="rgb(211,0,0)"/>
<path d="M263.1 400.5V402.9L261.0 401.7z" fill="rgb(119,0,0)"/>
<path d="M350.0 370.4V381.0L359.2 375.7z" fill="rgb(69,0,0)"/>
<path d="M400.9 329.4V333.9L404.8 331.7z" fill="rgb(157,0,0)"/>
<path d="M394.3 358.9V371.9L405.6 365.4z" fill="rgb(176,0,0)"/>
<path d="M359.2 353.6V366.9L370.8 360.2z" fill="rgb(145,0,0)"/>
<path d="M282.8 364.5V376.6L293.3 370.5z" fill="rgb(228,0,0)"/>
<path d="M370.1 388.9V392.6L373.3 390.7z" fill="rgb(189,0,0)"/>
<path d="M385.1 464.4V467.4L382.5 465.9z" fill="rgb(229,0,0)"/>
<path d="M370.1 410.6V419.7L362.2 415.2z" fill="rgb(154,0,0)"/>
<path d="M292.0 347.0V359.7L303.0 353.3z" fill="rgb(194,0,0)"/>
<path d="M413.1 370.0V380.7L422.3 375.4z" fill="rgb(51,0,0)"/>
<path d="M309.4 450.4V459.0L301.9 454.7z" fill="rgb(140,0,0)"/>
<path d="M352.7 409.6V418.1L345.3 413.9z" fill="rgb(36,0,0)"/>
<path d="M319.9 373.7V383.3L328.2 378.5z" fill="rgb(21,0,0)"/>
<path d="M365.4 405.5V411.6L360.1 408.6z" fill="rgb(129,0,0)"/>
<path d="M255.0 382.8V389.1L260.4 385.9z" fill="rgb(87,0,0)"/>
<path d="M454.0 328.1V331.6L457.1 329.8z" fill="rgb(80,0,0)"/>
<path d="M352.3 366.7V378.3L362.4 372.5z" fill="rgb(89,0,0)"/>
<path d="M252.2 436.2V448.7L241.3 442.4z" fill="rgb(22,0,0)"/>
<path d="M247.7 296.5V307.1L238.5 301.8z" fill="rgb(10,0,0)"/>
<path d="M344.2 410.0V418.8L336.6 414.4z" fill="rgb(5,0,0)"/>
<path d="M336.4 331.6V337.7L341.6 334.6z" fill="rgb(2,0,0)"/>
<path d="M372.1 382.2V388.7L377.7 385.4z" fill="rgb(206,0,0)"/>
<path d="M351.5 455.9V462.4L345.9 459.2z" fill="rgb(34,0,0)"/>
<path d="M367.1 447.7V457.2L358.8 452.5z" fill="rgb(130,0,0)"/>
<path d="M306.5 408.6V416.7L299.6 412.6z" fill="rgb(159,0,0)"/>
<path d="M346.2 412.9V423.1L337.4 418.0z" fill="rgb(8,0,0)"/>
<path d="M308.5 404.5V410.0L303.8 407.3z" fill="rgb(137,0,0)"/>
<path d="M344.3 400.0V402.1L342.5 401.1z" fill="rgb(12,0,0)"/>
<path d="M320.9 421.8V434.7L309.8 428.2z" fill="rgb(70,0,0)"/>
<path d="M357.5 405.3V411.3L352.3 408.3z" fill="rgb(71,0,0)"/>
<path d="M150.1 454.9V461.9L144.1 458.4z" fill="rgb(21,0,0)"/>
<path d="M265.5 372.6V382.5L274.1 377.5z" fill="rgb(174,0,0)"/>
<path d="M387.2 428.0V441.3L375.7 434.6z" fill="rgb(227,0,0)"/>
<path d="M413.7 454.4V461.5L407.5 458.0z" fill="rgb(100,0,0)"/>
<path d="M349.1 389.4V392.9L352.2 391.1z" fill="rgb(44,0,0)"/>
<path d="M362.2 333.7V341.1L368.6 337.4z" fill="rgb(148,0,0)"/>
<path d="M280.5 387.9V392.1L284.0 390.0z" fill="rgb(227,0,0)"/>
<path d="M317.2 359.4V372.3L328.4 365.8z" fill="rgb(27,0,0)"/>
<path d="M396.9 337.4V346.8L405.0 342.1z" fill="rgb(169,0,0)"/>
<path d="M408.0 433.1V446.0L396.7 439.6z" fill="rgb(160,0,0)"/>
<path d="M370.6 401.8V405.2L367.6 403.5z" fill="rgb(173,0,0)"/>
<path d="M262.0 342.0V353.4L271.8 347.7z" fill="rgb(155,0,0)"/>
<path d="M456.1 443.0V453.9L446.6 448.5z" fill="rgb(52,0,0)"/>
<path d="M241.4 379.5V387.0L247.9 383.3z" fill="rgb(14,0,0)"/>
<path d="M325.8 346.6V359.3L336.7 352.9z" fill="rgb(2,0,0)"/>
<path d="M377.7 364.2V376.4L388.2 370.3z" fill="rgb(229,0,0)"/>
<path d="M381.0 449.6V458.5L373.3 454.0z" fill="rgb(216,0,0)"/>
<path d="M343.2 310.6V316.2L338.4 313.4z" fill="rgb(5,0,0)"/>
<path d="M416.2 420.5V433.2L405.3 426.8z" fill="rgb(99,0,0)"/>
<path d="M283.3 364.6V376.7L293.7 370.6z" fill="rgb(227,0,0)"/>
<path d="M325.2 387.2V391.6L329.0 389.4z" fill="rgb(11,0,0)"/>
<path d="M321.6 426.5V439.8L310.1 433.2z" fill="rgb(66,0,0)"/>
<path d="M259.6 360.9V373.6L270.6 367.3z" fill="rgb(142,0,0)"/>
<path d="M367.8 339.9V350.5L377.0 345.2z" fill="rgb(194,0,0)"/>
<path d="M265.2 427.8V441.1L253.7 434.5z" fill="rgb(100,0,0)"/>
<path d="M277.3 327.0V329.6L279.6 328.3z" fill="rgb(218,0,0)"/>
<path d="M287.5 411.8V421.5L279.1 416.6z" fill="rgb(228,0,0)"/>
<path d="M213.6 454.9V461.8L207.6 458.3z" fill="rgb(108,0,0)"/>
<path d="M313.2 478.8V484.4L318.2 481.6z" fill="rgb(67,0,0)"/>
<path d="M177.1 333.8V341.2L183.5 337.5z" fill="rgb(222,0,0)"/>
<path d="M277.0 379.8V387.2L283.4 383.5z" fill="rgb(223,0,0)"/>
<path d="M327.3 374.6V383.9L335.3 379.3z" fill="rgb(2,0,0)"/>
<path d="M250.0 403.0V407.4L246.3 405.2z" fill="rgb(28,0,0)"/>
<path d="M370.6 336.7V345.8L378.4 341.2z" fill="rgb(204,0,0)"/>
<path d="M348.4 404.1V409.3L344.0 406.7z" fill="rgb(22,0,0)"/>
<path d="M325.2 338.1V347.8L333.7 343.0z" fill="rgb(5,0,0)"/>
<path d="M480.1 411.1V420.5L471.9 415.8z" fill="rgb(213,0,0)"/>
<path d="M297.6 474.6V477.2L299.8 475.9z" fill="rgb(187,0,0)"/>
<path d="M328.3 420.7V433.3L317.3 427.0z" fill="rgb(27,0,0)"/>
<path d="M332.5 277.9V291.1L321.1 284.5z" fill="rgb(11,0,0)"/>
<path d="M268.7 445.9V456.0L260.0 450.9z" fill="rgb(136,0,0)"/>
<path d="M335.1 254.8V258.8L331.7 256.8z" fill="rgb(0,0,0)"/>
<path d="M385.9 371.6V381.9L394.8 376.8z" fill="rgb(222,0,0)"/>
<path d="M394.9 432.6V445.6L383.6 439.1z" fill="rgb(224,0,0)"/>
<path d="M356.5 375.0V384.1L364.4 379.6z" fill="rgb(111,0,0)"/>
<path d="M326.5 407.7V415.1L320.0 411.4z" fill="rgb(25,0,0)"/>
<path d="M258.1 359.1V372.1L269.3 365.6z" fill="rgb(131,0,0)"/>
<path d="M460.4 353.2V366.4L472.0 359.8z" fill="rgb(158,0,0)"/>
<path d="M388.0 444.7V455.2L379.0 450.0z" fill="rgb(229,0,0)"/>
<path d="M395.9 390.5V393.5L398.6 392.0z" fill="rgb(192,0,0)"/>
<path d="M324.0 404.6V410.1L319.3 407.3z" fill="rgb(32,0,0)"/>
<path d="M295.0 330.9V336.4L299.8 333.6z" fill="rgb(194,0,0)"/>
<path d="M325.1 388.9V392.6L328.3 390.8z" fill="rgb(12,0,0)"/>
<path d="M453.6 406.1V412.6L448.0 409.4z" fill="rgb(49,0,0)"/>
<path d="M342.9 359.0V372.0L354.1 365.5z" fill="rgb(33,0,0)"/>
<path d="M296.1 316.8V319.8L293.5 318.3z" fill="rgb(207,0,0)"/>
<path d="M289.9 392.1V394.4L291.9 393.3z" fill="rgb(222,0,0)"/>
<path d="M326.0 433.5V446.4L314.8 439.9z" fill="rgb(39,0,0)"/>
<path d="M287.7 402.8V406.9L284.1 404.8z" fill="rgb(229,0,0)"/>
<path d="M312.7 361.1V373.8L323.8 367.4z" fill="rgb(51,0,0)"/>
<path d="M292.6 452.7V460.4L285.9 456.5z" fill="rgb(226,0,0)"/>
<path d="M277.1 332.5V339.2L282.9 335.8z" fill="rgb(223,0,0)"/>
<path d="M350.2 384.2V389.9L355.1 387.1z" fill="rgb(57,0,0)"/>
<path d="M286.7 400.2V402.4L284.8 401.3z" fill="rgb(229,0,0)"/>
<path d="M446.3 412.6V422.7L437.6 417.6z" fill="rgb(10,0,0)"/>
<path d="M219.3 362.7V375.1L230.1 368.9z" fill="rgb(21,0,0)"/>
<path d="M354.7 360.4V373.3L365.8 366.8z" fill="rgb(110,0,0)"/>
<path d="M291.8 336.9V346.0L299.8 341.4z" fill="rgb(203,0,0)"/>
<path d="M305.4 353.0V366.3L317.0 359.6z" fill="rgb(99,0,0)"/>
<path d="M377.3 406.0V412.4L371.7 409.2z" fill="rgb(204,0,0)"/>
<path d="M384.8 406.9V413.9L378.8 410.4z" fill="rgb(227,0,0)"/>
<path d="M299.1 352.4V365.6L310.6 359.0z" fill="rgb(146,0,0)"/>
<path d="M412.3 413.7V424.3L403.1 419.0z" fill="rgb(121,0,0)"/>
<path d="M276.4 349.5V362.5L287.7 356.0z" fill="rgb(227,0,0)"/>
<path d="M360.7 361.6V374.2L371.7 367.9z" fill="rgb(154,0,0)"/>
<path d="M239.2 420.8V433.5L228.2 427.1z" fill="rgb(0,0,0)"/>
<path d="M200.8 413.7V424.3L191.6 419.0z" fill="rgb(204,0,0)"/>
<path d="M211.7 400.8V403.4L209.4 402.1z" fill="rgb(108,0,0)"/>
<path d="M423.7 428.5V441.8L412.2 435.1z" fill="rgb(50,0,0)"/>
<path d="M241.4 480.3V486.9L247.2 483.6z" fill="rgb(13,0,0)"/>
<path d="M334.0 411.7V421.4L325.6 416.6z" fill="rgb(4,0,0)"/>
<path d="M358.5 375.0V384.1L366.4 379.6z" fill="rgb(126,0,0)"/>
<path d="M300.0 402.6V406.6L296.5 404.6z" fill="rgb(190,0,0)"/>
<path d="M322.4 334.8V342.8L329.3 338.8z" fill="rgb(14,0,0)"/>
<path d="M494.0 350.7V363.9L505.4 357.3z" fill="rgb(174,0,0)"/>
<path d="M296.7 392.0V394.4L298.7 393.2z" fill="rgb(193,0,0)"/>
<path d="M401.4 342.5V354.0L411.3 348.3z" fill="rgb(131,0,0)"/>
<path d="M403.6 425.1V438.3L392.1 431.7z" fill="rgb(189,0,0)"/>
<path d="M337.1 447.5V457.1L328.8 452.3z" fill="rgb(1,0,0)"/>
<path d="M461.6 303.7V311.9L454.4 307.8z" fill="rgb(98,0,0)"/>
<path d="M284.0 336.2V345.0L291.7 340.6z" fill="rgb(228,0,0)"/>
<path d="M344.6 374.0V383.5L352.8 378.7z" fill="rgb(34,0,0)"/>
<path d="M319.7 427.9V441.2L308.2 434.5z" fill="rgb(79,0,0)"/>
<path d="M338.1 334.8V342.9L345.1 338.8z" fill="rgb(7,0,0)"/>
<path d="M378.5 343.8V355.7L388.9 349.7z" fill="rgb(229,0,0)"/>
<path d="M359.5 457.7V463.5L354.5 460.6z" fill="rgb(86,0,0)"/>
<path d="M302.5 426.0V439.3L291.0 432.6z" fill="rgb(198,0,0)"/>
<path d="M342.4 415.5V426.8L332.6 421.2z" fill="rgb(1,0,0)"/>
<path d="M294.1 368.1V379.4L303.9 373.7z" fill="rgb(185,0,0)"/>
<path d="M337.6 382.2V388.7L343.2 385.5z" fill="rgb(5,0,0)"/>
<path d="M371.2 362.3V374.8L382.1 368.6z" fill="rgb(214,0,0)"/>
<path d="M320.8 437.5V449.7L310.1 443.6z" fill="rgb(69,0,0)"/>
<path d="M319.1 371.3V381.7L328.0 376.5z" fill="rgb(23,0,0)"/>
<path d="M302.8 337.0V346.3L310.8 341.7z" fill="rgb(132,0,0)"/>
<path d="M218.8 342.6V354.2L228.8 348.4z" fill="rgb(25,0,0)"/>
<path d="M394.8 376.1V384.9L402.4 380.5z" fill="rgb(184,0,0)"/>
<path d="M355.1 399.9V401.9L353.4 400.9z" fill="rgb(67,0,0)"/>
<path d="M425.3 358.5V371.6L436.6 365.1z" fill="rgb(2,0,0)"/>
<path d="M291.4 413.7V424.3L282.3 419.0z" fill="rgb(229,0,0)"/>
<path d="M420.0 415.8V427.2L410.2 421.5z" fill="rgb(68,0,0)"/>
<path d="M307.4 433.8V446.7L296.3 440.3z" fill="rgb(167,0,0)"/>
<path d="M218.3 369.0V380.0L227.8 374.5z" fill="rgb(28,0,0)"/>
<path d="M363.7 356.8V370.0L375.1 363.4z" fill="rgb(176,0,0)"/>
<path d="M363.3 457.8V463.6L358.3 460.7z" fill="rgb(114,0,0)"/>
<path d="M333.4 375.7V384.6L341.1 380.1z" fill="rgb(1,0,0)"/>
<path d="M342.4 373.3V383.0L350.8 378.2z" fill="rgb(24,0,0)"/>
<path d="M242.5 403.7V408.5L238.3 406.1z" fill="rgb(4,0,0)"/>
<path d="M358.0 393.1V395.0L359.7 394.0z" fill="rgb(100,0,0)"/>
<path d="M407.6 534.6V539.2L411.6 536.9z" fill="rgb(107,0,0)"/>
<path d="M328.7 412.2V422.0L320.1 417.1z" fill="rgb(20,0,0)"/>
<path d="M452.4 385.4V390.6L456.9 388.0z" fill="rgb(74,0,0)"/>
<path d="M371.9 498.0V511.2L383.3 504.6z" fill="rgb(217,0,0)"/>
<path d="M387.7 367.8V379.1L397.5 373.5z" fill="rgb(214,0,0)"/>
<path d="M420.2 479.7V486.1L425.6 482.9z" fill="rgb(24,0,0)"/>
<path d="M327.2 424.9V438.1L315.7 431.5z" fill="rgb(33,0,0)"/>
<path d="M316.8 367.7V379.0L326.6 373.4z" fill="rgb(32,0,0)"/>
<path d="M270.5 344.8V357.1L281.1 351.0z" fill="rgb(208,0,0)"/>
<path d="M298.6 352.2V365.4L310.0 358.8z" fill="rgb(150,0,0)"/>
<path d="M299.1 368.4V379.6L308.8 374.0z" fill="rgb(153,0,0)"/>
<path d="M438.0 334.4V342.1L444.8 338.2z" fill="rgb(8,0,0)"/>
<path d="M399.3 381.3V388.1L405.2 384.7z" fill="rgb(161,0,0)"/>
<path d="M366.5 332.1V338.4L372.0 335.2z" fill="rgb(174,0,0)"/>
<path d="M342.1 361.7V374.3L353.1 368.0z" fill="rgb(28,0,0)"/>
<path d="M339.9 426.4V439.7L328.4 433.1z" fill="rgb(0,0,0)"/>
<path d="M262.2 375.7V384.6L270.0 380.1z" fill="rgb(149,0,0)"/>
<path d="M342.8 410.6V419.7L334.9 415.1z" fill="rgb(2,0,0)"/>
<path d="M270.9 490.6V502.4L281.1 496.5z" fill="rgb(208,0,0)"/>
<path d="M372.4 402.2V406.0L369.2 404.1z" fill="rgb(184,0,0)"/>
<path d="M347.9 435.1V447.8L336.9 441.5z" fill="rgb(9,0,0)"/>
<path d="M366.0 352.1V365.4L377.5 358.8z" fill="rgb(190,0,0)"/>
<path d="M399.3 408.0V415.7L392.6 411.8z" fill="rgb(199,0,0)"/>
<path d="M275.7 427.1V440.4L264.2 433.8z" fill="rgb(175,0,0)"/>
<path d="M324.6 339.1V349.3L333.5 344.2z" fill="rgb(6,0,0)"/>
<path d="M370.1 494.1V506.7L380.9 500.4z" fill="rgb(209,0,0)"/>
<path d="M278.2 346.7V359.3L289.2 353.0z" fill="rgb(229,0,0)"/>
<path d="M356.5 446.6V456.5L347.9 451.5z" fill="rgb(54,0,0)"/>
<path d="M243.4 387.8V392.0L247.1 389.9z" fill="rgb(16,0,0)"/>
<path d="M357.2 428.0V441.3L345.7 434.7z" fill="rgb(49,0,0)"/>
<path d="M324.2 367.8V379.1L334.0 373.4z" fill="rgb(6,0,0)"/>
<path d="M269.8 422.9V435.9L258.5 429.4z" fill="rgb(135,0,0)"/>
<path d="M346.9 382.2V388.7L352.5 385.4z" fill="rgb(39,0,0)"/>
<path d="M261.5 376.9V385.4L268.9 381.1z" fill="rgb(143,0,0)"/>
<path d="M316.4 371.1V381.5L325.4 376.3z" fill="rgb(36,0,0)"/>
<path d="M278.5 342.0V353.4L288.4 347.7z" fill="rgb(229,0,0)"/>
<path d="M366.7 332.6V339.2L372.5 335.9z" fill="rgb(177,0,0)"/>
<path d="M277.6 355.2V368.5L289.1 361.9z" fill="rgb(229,0,0)"/>
<path d="M251.7 427.4V440.7L240.1 434.0z" fill="rgb(19,0,0)"/>
<path d="M429.1 333.9V341.5L435.6 337.7z" fill="rgb(1,0,0)"/>
<path d="M379.2 404.6V410.0L374.5 407.3z" fill="rgb(214,0,0)"/>
<path d="M431.2 490.4V502.0L441.2 496.2z" fill="rgb(0,0,0)"/>
<path d="M352.5 276.0V289.0L341.1 282.5z" fill="rgb(25,0,0)"/>
<path d="M410.6 435.6V448.2L399.7 441.9z" fill="rgb(140,0,0)"/>
<path d="M280.1 391.4V394.0L282.4 392.7z" fill="rgb(225,0,0)"/>
<path d="M340.1 350.9V364.1L351.6 357.5z" fill="rgb(21,0,0)"/>
<path d="M367.1 433.3V446.2L355.9 439.7z" fill="rgb(120,0,0)"/>
<path d="M367.1 447.1V456.9L358.7 452.0z" fill="rgb(130,0,0)"/>
<path d="M322.7 451.5V459.7L315.6 455.6z" fill="rgb(46,0,0)"/>
<path d="M397.9 414.3V425.1L388.6 419.7z" fill="rgb(212,0,0)"/>
<path d="M316.4 415.4V426.6L306.7 421.0z" fill="rgb(97,0,0)"/>
<path d="M235.4 454.8V461.8L229.4 458.3z" fill="rgb(1,0,0)"/>
<path d="M357.9 340.6V351.4L367.3 346.0z" fill="rgb(128,0,0)"/>
<path d="M300.4 459.2V464.4L295.9 461.8z" fill="rgb(190,0,0)"/>
<path d="M356.3 450.0V458.7L348.7 454.3z" fill="rgb(56,0,0)"/>
<path d="M265.8 334.7V342.6L272.7 338.7z" fill="rgb(171,0,0)"/>
<path d="M410.7 374.0V383.5L418.9 378.7z" fill="rgb(70,0,0)"/>
<path d="M332.4 372.9V382.8L340.9 377.8z" fill="rgb(0,0,0)"/>
<path d="M322.6 404.6V410.1L317.9 407.3z" fill="rgb(39,0,0)"/>
<path d="M387.0 477.8V482.8L391.4 480.3z" fill="rgb(224,0,0)"/>
<path d="M390.6 411.6V421.2L382.2 416.4z" fill="rgb(229,0,0)"/>
<path d="M326.8 413.2V423.5L317.9 418.3z" fill="rgb(29,0,0)"/>
<path d="M266.0 386.3V391.1L270.1 388.7z" fill="rgb(163,0,0)"/>
<path d="M325.2 371.4V381.7L334.1 376.5z" fill="rgb(5,0,0)"/>
<path d="M352.0 371.6V381.8L360.8 376.7z" fill="rgb(82,0,0)"/>
<path d="M331.4 344.4V356.6L341.9 350.5z" fill="rgb(0,0,0)"/>
<path d="M396.9 392.3V394.5L398.8 393.4z" fill="rgb(189,0,0)"/>
<path d="M254.5 434.3V447.1L243.4 440.7z" fill="rgb(33,0,0)"/>
<path d="M273.4 403.4V408.0L269.4 405.7z" fill="rgb(184,0,0)"/>
<path d="M346.0 345.9V358.4L356.8 352.1z" fill="rgb(49,0,0)"/>
<path d="M246.4 342.9V354.6L256.6 348.8z" fill="rgb(46,0,0)"/>
<path d="M315.2 403.3V407.8L311.3 405.6z" fill="rgb(84,0,0)"/>
<path d="M402.5 456.3V462.7L397.0 459.5z" fill="rgb(177,0,0)"/>
<path d="M325.1 361.3V374.0L336.1 367.7z" fill="rgb(3,0,0)"/>
<path d="M380.9 384.7V390.2L385.7 387.4z" fill="rgb(229,0,0)"/>
<path d="M249.8 377.4V385.7L257.0 381.6z" fill="rgb(58,0,0)"/>
<path d="M325.4 352.5V365.7L336.9 359.1z" fill="rgb(2,0,0)"/>
<path d="M303.5 359.0V372.0L314.8 365.5z" fill="rgb(114,0,0)"/>
<path d="M396.6 335.4V343.8L403.9 339.6z" fill="rgb(174,0,0)"/>
<path d="M334.6 419.8V432.3L323.8 426.1z" fill="rgb(5,0,0)"/>
<path d="M221.7 365.2V377.2L232.0 371.2z" fill="rgb(13,0,0)"/>
<path d="M336.9 347.9V360.8L348.0 354.4z" fill="rgb(9,0,0)"/>
<path d="M359.0 343.6V355.5L369.2 349.5z" fill="rgb(139,0,0)"/>
<path d="M402.0 403.9V408.8L397.7 406.3z" fill="rgb(177,0,0)"/>
<path d="M253.7 386.4V391.2L257.9 388.8z" fill="rgb(74,0,0)"/>
<path d="M502.7 444.8V455.2L493.7 450.0z" fill="rgb(183,0,0)"/>
<path d="M291.1 369.7V380.5L300.5 375.1z" fill="rgb(203,0,0)"/>
<path d="M255.9 408.4V416.4L249.1 412.4z" fill="rgb(52,0,0)"/>
<path d="M381.4 310.6V316.2L376.6 313.4z" fill="rgb(221,0,0)"/>
<path d="M320.8 437.1V449.4L310.1 443.3z" fill="rgb(69,0,0)"/>
<path d="M341.0 407.8V415.4L334.4 411.6z" fill="rgb(1,0,0)"/>
<path d="M419.3 369.7V380.5L428.7 375.1z" fill="rgb(19,0,0)"/>
<path d="M298.7 330.1V335.1L303.1 332.6z" fill="rgb(174,0,0)"/>
<path d="M368.6 439.3V451.2L358.3 445.3z" fill="rgb(134,0,0)"/>
<path d="M384.5 359.1V372.1L395.7 365.6z" fill="rgb(222,0,0)"/>
<path d="M271.3 353.0V366.3L282.8 359.7z" fill="rgb(213,0,0)"/>
<path d="M359.1 423.1V436.1L347.8 429.6z" fill="rgb(62,0,0)"/>
<path d="M288.1 519.9V529.9L296.9 524.9z" fill="rgb(217,0,0)"/>
<path d="M229.9 346.4V359.0L240.7 352.7z" fill="rgb(0,0,0)"/>
<path d="M329.9 377.5V385.8L337.1 381.6z" fill="rgb(0,0,0)"/>
<path d="M241.1 466.7V468.7L239.4 467.7z" fill="rgb(3,0,0)"/>
<path d="M420.7 409.8V418.6L413.2 414.2z" fill="rgb(56,0,0)"/>
<path d="M367.0 346.1V358.6L377.8 352.3z" fill="rgb(193,0,0)"/>
<path d="M264.2 375.5V384.5L272.0 380.0z" fill="rgb(163,0,0)"/>
<path d="M434.9 333.1V340.1L440.9 336.6z" fill="rgb(2,0,0)"/>
<path d="M305.1 351.5V364.8L316.5 358.1z" fill="rgb(102,0,0)"/>
<path d="M269.6 489.8V501.2L279.4 495.5z" fill="rgb(201,0,0)"/>
<path d="M275.3 351.7V365.0L286.8 358.4z" fill="rgb(225,0,0)"/>
<path d="M280.4 420.2V432.8L269.5 426.5z" fill="rgb(204,0,0)"/>
<path d="M396.6 391.4V394.1L398.9 392.7z" fill="rgb(189,0,0)"/>
<path d="M354.2 403.8V408.7L350.0 406.2z" fill="rgb(53,0,0)"/>
<path d="M263.9 384.4V390.0L268.7 387.2z" fill="rgb(151,0,0)"/>
<path d="M262.6 362.8V375.2L273.4 369.0z" fill="rgb(163,0,0)"/>
<path d="M298.7 330.0V334.9L303.0 332.5z" fill="rgb(174,0,0)"/>
<path d="M448.2 386.1V391.0L452.4 388.6z" fill="rgb(46,0,0)"/>
<path d="M274.0 482.6V490.6L281.0 486.6z" fill="rgb(215,0,0)"/>
<path d="M239.0 407.0V414.0L232.9 410.5z" fill="rgb(0,0,0)"/>
<path d="M319.3 413.5V424.0L310.2 418.8z" fill="rgb(74,0,0)"/>
<path d="M259.6 342.9V354.6L269.8 348.8z" fill="rgb(139,0,0)"/>
<path d="M370.1 367.0V378.5L380.1 372.7z" fill="rgb(207,0,0)"/>
<path d="M255.1 418.6V430.9L244.6 424.8z" fill="rgb(37,0,0)"/>
<path d="M294.3 434.5V447.3L283.2 440.9z" fill="rgb(226,0,0)"/>
<path d="M381.7 420.1V432.7L370.8 426.4z" fill="rgb(212,0,0)"/>
<path d="M404.9 453.9V461.2L398.5 457.5z" fill="rgb(164,0,0)"/>
<path d="M359.3 351.1V364.3L370.8 357.7z" fill="rgb(146,0,0)"/>
<path d="M358.3 426.5V439.8L346.8 433.1z" fill="rgb(56,0,0)"/>
<path d="M273.1 405.7V411.9L267.8 408.8z" fill="rgb(179,0,0)"/>
<path d="M336.1 358.5V371.5L347.4 365.0z" fill="rgb(7,0,0)"/>
<path d="M328.4 416.3V427.8L318.4 422.1z" fill="rgb(24,0,0)"/>
<path d="M388.9 288.8V301.2L378.1 295.0z" fill="rgb(229,0,0)"/>
<path d="M326.8 334.7V342.7L333.7 338.7z" fill="rgb(3,0,0)"/>
<path d="M363.2 415.1V426.2L353.6 420.7z" fill="rgb(97,0,0)"/>
<path d="M378.2 330.3V335.5L382.6 332.9z" fill="rgb(225,0,0)"/>
<path d="M292.3 374.2V383.6L300.4 378.9z" fill="rgb(200,0,0)"/>
<path d="M293.6 433.9V446.8L282.4 440.3z" fill="rgb(228,0,0)"/>
<path d="M339.3 380.5V387.6L345.5 384.0z" fill="rgb(9,0,0)"/>
<path d="M357.8 411.1V420.5L349.7 415.8z" fill="rgb(64,0,0)"/>
<path d="M378.7 349.0V362.0L389.9 355.5z" fill="rgb(229,0,0)"/>
<path d="M325.8 339.6V350.1L334.9 344.8z" fill="rgb(3,0,0)"/>
<path d="M281.7 403.4V408.0L277.7 405.7z" fill="rgb(222,0,0)"/>
<path d="M305.7 309.1V315.3L300.3 312.2z" fill="rgb(159,0,0)"/>
<path d="M223.5 359.2V372.2L234.7 365.7z" fill="rgb(7,0,0)"/>
<path d="M323.7 401.2V404.2L321.1 402.7z" fill="rgb(29,0,0)"/>
<path d="M410.1 415.9V427.3L400.2 421.6z" fill="rgb(140,0,0)"/>
<path d="M338.6 283.1V296.3L327.2 289.7z" fill="rgb(1,0,0)"/>
<path d="M346.8 403.3V407.8L342.9 405.5z" fill="rgb(17,0,0)"/>
<path d="M335.3 402.3V406.1L332.0 404.2z" fill="rgb(0,0,0)"/>
<path d="M401.6 367.5V378.9L411.5 373.2z" fill="rgb(130,0,0)"/>
<path d="M236.0 327.0V329.6L238.3 328.3z" fill="rgb(0,0,0)"/>
<path d="M313.6 371.4V381.7L322.5 376.5z" fill="rgb(52,0,0)"/>
<path d="M388.2 401.8V405.1L385.2 403.5z" fill="rgb(228,0,0)"/>
<path d="M393.7 487.3V497.7L402.7 492.5z" fill="rgb(187,0,0)"/>
<path d="M306.3 378.1V386.2L313.2 382.1z" fill="rgb(110,0,0)"/>
<path d="M365.0 410.6V419.8L357.1 415.2z" fill="rgb(116,0,0)"/>
<path d="M296.6 401.5V404.7L293.9 403.1z" fill="rgb(205,0,0)"/>
<path d="M337.3 390.4V393.4L340.0 391.9z" fill="rgb(2,0,0)"/>
<path d="M284.0 360.8V373.6L295.0 367.2z" fill="rgb(225,0,0)"/>
<path d="M264.9 406.3V412.9L259.2 409.6z" fill="rgb(119,0,0)"/>
<path d="M363.6 349.0V362.0L374.9 355.5z" fill="rgb(174,0,0)"/>
<path d="M256.9 366.7V378.3L266.9 372.5z" fill="rgb(118,0,0)"/>
<path d="M474.5 440.2V451.8L464.3 446.0z" fill="rgb(179,0,0)"/>
<path d="M241.4 243.2V246.0L244.0 244.6z" fill="rgb(8,0,0)"/>
<path d="M383.5 422.0V434.9L372.3 428.4z" fill="rgb(218,0,0)"/>
<path d="M351.4 449.5V458.4L343.7 453.9z" fill="rgb(28,0,0)"/>
<path d="M302.9 438.2V450.3L292.4 444.3z" fill="rgb(193,0,0)"/>
<path d="M233.3 436.3V448.8L222.5 442.5z" fill="rgb(10,0,0)"/>
<path d="M295.6 524.0V532.6L303.2 528.3z" fill="rgb(183,0,0)"/>
<path d="M426.3 403.7V408.6L422.1 406.2z" fill="rgb(18,0,0)"/>
<path d="M316.4 393.2V395.1L318.0 394.2z" fill="rgb(57,0,0)"/>
<path d="M360.3 429.4V442.7L348.8 436.0z" fill="rgb(69,0,0)"/>
<path d="M353.4 455.3V462.1L347.5 458.7z" fill="rgb(43,0,0)"/>
<path d="M313.1 346.3V358.8L324.0 352.6z" fill="rgb(49,0,0)"/>
<path d="M288.3 356.0V369.3L299.7 362.7z" fill="rgb(211,0,0)"/>
<path d="M287.4 355.3V368.5L298.9 361.9z" fill="rgb(214,0,0)"/>
<path d="M368.7 419.3V431.6L357.9 425.4z" fill="rgb(133,0,0)"/>
<path d="M389.1 307.4V314.2L383.1 310.8z" fill="rgb(229,0,0)"/>
<path d="M309.1 474.9V477.9L311.7 476.4z" fill="rgb(105,0,0)"/>
<path d="M384.4 412.3V422.2L375.8 417.2z" fill="rgb(224,0,0)"/>
<path d="M355.4 387.0V391.5L359.4 389.3z" fill="rgb(89,0,0)"/>
<path d="M406.7 305.1V312.9L400.1 309.0z" fill="rgb(153,0,0)"/>
<path d="M373.2 443.2V454.1L363.8 448.6z" fill="rgb(170,0,0)"/>
<path d="M431.9 444.1V454.8L422.7 449.4z" fill="rgb(8,0,0)"/>
<path d="M226.0 365.4V377.3L236.3 371.4z" fill="rgb(3,0,0)"/>
<path d="M319.3 338.9V349.0L328.1 344.0z" fill="rgb(23,0,0)"/>
<path d="M410.2 412.2V422.2L401.6 417.2z" fill="rgb(134,0,0)"/>
<path d="M240.7 429.1V442.4L229.2 435.8z" fill="rgb(0,0,0)"/>
<path d="M339.6 363.2V375.6L350.3 369.4z" fill="rgb(18,0,0)"/>
<path d="M304.5 456.3V462.7L299.0 459.5z" fill="rgb(168,0,0)"/>
<path d="M367.6 419.8V432.3L356.7 426.0z" fill="rgb(124,0,0)"/>
<path d="M294.8 428.0V441.3L283.3 434.6z" fill="rgb(226,0,0)"/>
<path d="M306.2 421.2V434.0L295.2 427.6z" fill="rgb(175,0,0)"/>
<path d="M496.4 383.3V389.3L501.6 386.3z" fill="rgb(178,0,0)"/>
<path d="M337.2 403.9V408.9L332.9 406.4z" fill="rgb(0,0,0)"/>
<path d="M330.9 387.1V391.6L334.7 389.4z" fill="rgb(1,0,0)"/>
<path d="M329.1 345.8V358.2L339.9 352.0z" fill="rgb(0,0,0)"/>
<path d="M333.8 428.1V441.4L322.3 434.7z" fill="rgb(8,0,0)"/>
<path d="M277.9 421.1V433.8L266.9 427.5z" fill="rgb(190,0,0)"/>
<path d="M342.6 327.0V329.6L344.9 328.3z" fill="rgb(13,0,0)"/>
<path d="M372.6 390.2V393.4L375.3 391.8z" fill="rgb(202,0,0)"/>
<path d="M434.5 348.8V361.8L445.7 355.3z" fill="rgb(5,0,0)"/>
<path d="M191.8 354.8V368.0L203.4 361.4z" fill="rgb(197,0,0)"/>
<path d="M385.0 411.6V421.3L376.6 416.5z" fill="rgb(226,0,0)"/>
<path d="M378.2 327.8V331.0L381.0 329.4z" fill="rgb(223,0,0)"/>
<path d="M416.1 413.5V424.0L407.0 418.8z" fill="rgb(93,0,0)"/>
<path d="M310.8 332.3V338.8L316.4 335.6z" fill="rgb(82,0,0)"/>
<path d="M285.8 413.7V424.2L276.6 418.9z" fill="rgb(225,0,0)"/>
<path d="M328.6 381.7V388.4L334.4 385.0z" fill="rgb(2,0,0)"/>
<path d="M279.1 464.7V467.5L276.7 466.1z" fill="rgb(216,0,0)"/>
<path d="M401.7 366.1V377.8L411.9 371.9z" fill="rgb(128,0,0)"/>
<path d="M297.9 346.6V359.2L308.8 352.9z" fill="rgb(157,0,0)"/>
<path d="M307.8 400.6V403.0L305.6 401.8z" fill="rgb(133,0,0)"/>
<path d="M311.3 359.8V372.7L322.4 366.3z" fill="rgb(60,0,0)"/>
<path d="M362.0 353.2V366.5L373.6 359.9z" fill="rgb(165,0,0)"/>
<path d="M336.0 362.9V375.3L346.7 369.1z" fill="rgb(7,0,0)"/>
<path d="M364.0 427.8V441.1L352.5 434.4z" fill="rgb(95,0,0)"/>
<path d="M322.1 390.1V393.3L324.9 391.7z" fill="rgb(24,0,0)"/>
<path d="M265.1 338.9V349.1L273.9 344.0z" fill="rgb(172,0,0)"/>
<path d="M288.6 361.5V374.2L299.5 367.8z" fill="rgb(211,0,0)"/>
<path d="M213.9 456.4V462.7L208.4 459.5z" fill="rgb(104,0,0)"/>
<path d="M397.6 297.3V307.7L388.6 302.5z" fill="rgb(212,0,0)"/>
<path d="M299.8 451.4V459.6L292.7 455.5z" fill="rgb(201,0,0)"/>
<path d="M249.4 357.8V370.9L260.7 364.4z" fill="rgb(69,0,0)"/>
<path d="M359.6 401.9V405.5L356.6 403.7z" fill="rgb(94,0,0)"/>
<path d="M304.7 354.1V367.4L316.2 360.8z" fill="rgb(104,0,0)"/>
<path d="M277.1 390.0V393.2L279.9 391.6z" fill="rgb(218,0,0)"/>
<path d="M308.6 403.6V408.3L304.5 406.0z" fill="rgb(134,0,0)"/>
<path d="M325.4 347.2V359.9L336.4 353.5z" fill="rgb(3,0,0)"/>
<path d="M347.1 430.5V443.7L335.7 437.1z" fill="rgb(7,0,0)"/>
<path d="M416.2 404.8V410.4L411.4 407.6z" fill="rgb(76,0,0)"/>
<path d="M228.0 400.8V403.5L225.6 402.2z" fill="rgb(13,0,0)"/>
<path d="M368.2 360.5V373.3L379.3 366.9z" fill="rgb(201,0,0)"/>
<path d="M427.5 410.7V419.9L419.6 415.3z" fill="rgb(21,0,0)"/>
<path d="M293.4 410.5V419.6L285.6 415.1z" fill="rgb(225,0,0)"/>
<path d="M278.2 421.5V434.3L267.1 427.9z" fill="rgb(192,0,0)"/>
<path d="M394.6 347.5V360.3L405.6 353.9z" fill="rgb(175,0,0)"/>
<path d="M295.7 419.3V431.7L284.9 425.5z" fill="rgb(223,0,0)"/>
<path d="M321.2 368.4V379.5L330.9 374.0z" fill="rgb(14,0,0)"/>
<path d="M189.5 338.9V349.1L198.3 344.0z" fill="rgb(214,0,0)"/>
<path d="M296.2 391.4V394.0L298.4 392.7z" fill="rgb(195,0,0)"/>
<path d="M464.8 404.4V409.8L460.2 407.1z" fill="rgb(131,0,0)"/>
<path d="M393.6 354.4V367.7L405.1 361.1z" fill="rgb(180,0,0)"/>
<path d="M287.4 393.3V395.1L288.9 394.2z" fill="rgb(227,0,0)"/>
<path d="M334.4 422.3V435.3L323.2 428.8z" fill="rgb(6,0,0)"/>
<path d="M342.1 281.4V294.6L330.7 288.0z" fill="rgb(0,0,0)"/>
<path d="M351.8 347.8V360.7L362.9 354.2z" fill="rgb(88,0,0)"/>
<path d="M397.7 405.6V411.8L392.4 408.7z" fill="rgb(204,0,0)"/>
<path d="M152.8 383.0V389.2L158.2 386.1z" fill="rgb(68,0,0)"/>
<path d="M425.7 409.0V417.3L418.5 413.2z" fill="rgb(27,0,0)"/>
<path d="M359.4 433.2V446.2L348.2 439.7z" fill="rgb(64,0,0)"/>
<path d="M381.5 457.5V463.4L376.4 460.5z" fill="rgb(221,0,0)"/>
<path d="M347.6 439.7V451.5L337.4 445.6z" fill="rgb(9,0,0)"/>
<path d="M350.3 426.4V439.6L338.8 433.0z" fill="rgb(16,0,0)"/>
<path d="M263.2 464.1V467.2L260.5 465.7z" fill="rgb(117,0,0)"/>
<path d="M388.0 454.9V461.8L382.0 458.3z" fill="rgb(229,0,0)"/>
<path d="M273.0 439.3V451.2L262.7 445.2z" fill="rgb(162,0,0)"/>
<path d="M399.2 425.9V439.2L387.7 432.5z" fill="rgb(211,0,0)"/>
<path d="M385.9 429.3V442.6L374.4 435.9z" fill="rgb(224,0,0)"/>
<path d="M330.2 400.9V403.6L327.9 402.2z" fill="rgb(6,0,0)"/>
<path d="M393.9 413.8V424.4L384.7 419.1z" fill="rgb(224,0,0)"/>
<path d="M302.7 494.9V507.7L313.7 501.3z" fill="rgb(122,0,0)"/>
<path d="M231.1 427.3V440.6L219.6 434.0z" fill="rgb(18,0,0)"/>
<path d="M329.3 342.6V354.2L339.3 348.4z" fill="rgb(0,0,0)"/>
<path d="M375.9 402.2V406.0L372.7 404.1z" fill="rgb(203,0,0)"/>
<path d="M358.4 382.6V388.9L363.9 385.7z" fill="rgb(117,0,0)"/>
<path d="M382.2 361.0V373.7L393.2 367.4z" fill="rgb(227,0,0)"/>
<path d="M386.8 360.2V373.1L397.9 366.6z" fill="rgb(215,0,0)"/>
<path d="M347.5 326.6V329.0L349.6 327.8z" fill="rgb(33,0,0)"/>
<path d="M210.9 485.0V494.4L219.1 489.7z" fill="rgb(76,0,0)"/>
<path d="M347.4 405.3V411.2L342.2 408.2z" fill="rgb(17,0,0)"/>
<path d="M363.9 365.8V377.6L374.1 371.7z" fill="rgb(173,0,0)"/>
<path d="M429.2 402.6V406.7L425.7 404.7z" fill="rgb(8,0,0)"/>
<path d="M412.9 373.8V383.4L421.1 378.6z" fill="rgb(55,0,0)"/>
<path d="M313.0 358.5V371.5L324.3 365.0z" fill="rgb(48,0,0)"/>
<path d="M347.4 490.6V502.2L357.6 496.4z" fill="rgb(56,0,0)"/>
<path d="M338.4 383.6V389.5L343.5 386.6z" fill="rgb(6,0,0)"/>
<path d="M397.9 384.0V389.8L402.9 386.9z" fill="rgb(173,0,0)"/>
<path d="M348.6 410.2V419.1L340.8 414.6z" fill="rgb(16,0,0)"/>
<path d="M326.6 370.2V380.9L335.8 375.5z" fill="rgb(2,0,0)"/>
<path d="M352.8 438.3V450.4L342.3 444.4z" fill="rgb(28,0,0)"/>
<path d="M375.7 371.4V381.7L384.6 376.6z" fill="rgb(224,0,0)"/>
<path d="M274.9 375.5V384.5L282.7 380.0z" fill="rgb(219,0,0)"/>
<path d="M445.9 385.5V390.7L450.3 388.1z" fill="rgb(34,0,0)"/>
<path d="M454.9 420.2V432.7L444.0 426.4z" fill="rgb(41,0,0)"/>
<path d="M381.6 414.8V425.7L372.1 420.2z" fill="rgb(214,0,0)"/>
<path d="M329.1 423.1V436.1L317.8 429.6z" fill="rgb(24,0,0)"/>
<path d="M340.2 359.6V372.5L351.4 366.0z" fill="rgb(21,0,0)"/>
<path d="M437.5 413.6V424.1L428.4 418.8z" fill="rgb(0,0,0)"/>
<path d="M359.8 367.0V378.5L369.8 372.8z" fill="rgb(144,0,0)"/>
<path d="M273.7 458.9V464.2L269.0 461.6z" fill="rgb(184,0,0)"/>
<path d="M216.4 364.8V376.8L226.8 370.8z" fill="rgb(35,0,0)"/>
<path d="M323.2 399.8V401.7L321.5 400.8z" fill="rgb(29,0,0)"/>
<path d="M314.7 346.6V359.2L325.6 352.9z" fill="rgb(40,0,0)"/>
<path d="M411.4 365.8V377.6L421.6 371.7z" fill="rgb(59,0,0)"/>
<path d="M339.3 406.8V413.7L333.3 410.3z" fill="rgb(0,0,0)"/>
<path d="M233.5 433.1V446.1L222.2 439.6z" fill="rgb(10,0,0)"/>
<path d="M352.5 453.4V460.9L346.1 457.2z" fill="rgb(37,0,0)"/>
<path d="M381.9 422.2V435.1L370.8 428.6z" fill="rgb(212,0,0)"/>
<path d="M306.6 386.6V391.3L310.7 389.0z" fill="rgb(118,0,0)"/>
<path d="M320.3 420.2V432.8L309.4 426.5z" fill="rgb(73,0,0)"/>
<path d="M396.3 341.8V353.1L406.1 347.4z" fill="rgb(168,0,0)"/>
<path d="M331.2 332.0V338.3L336.7 335.1z" fill="rgb(0,0,0)"/>
<path d="M385.1 404.2V409.4L380.7 406.8z" fill="rgb(229,0,0)"/>
<path d="M321.2 340.3V351.0L330.5 345.7z" fill="rgb(15,0,0)"/>
<path d="M316.3 308.0V314.6L310.5 311.3z" fill="rgb(83,0,0)"/>
<path d="M357.0 347.3V360.1L368.1 353.7z" fill="rgb(127,0,0)"/>
<path d="M346.6 454.0V461.3L340.3 457.6z" fill="rgb(12,0,0)"/>
<path d="M218.9 381.0V387.9L225.0 384.4z" fill="rgb(33,0,0)"/>
<path d="M289.7 388.5V392.4L293.1 390.4z" fill="rgb(220,0,0)"/>
<path d="M269.0 385.7V390.7L273.4 388.2z" fill="rgb(183,0,0)"/>
<path d="M290.7 365.6V377.5L300.9 371.5z" fill="rgb(203,0,0)"/>
<path d="M325.1 383.7V389.6L330.2 386.6z" fill="rgb(9,0,0)"/>
<path d="M400.5 449.0V458.1L392.6 453.6z" fill="rgb(196,0,0)"/>
<path d="M459.8 375.0V384.2L467.8 379.6z" fill="rgb(141,0,0)"/>
<path d="M339.7 381.0V387.9L345.8 384.5z" fill="rgb(10,0,0)"/>
<path d="M305.1 335.7V344.2L312.4 339.9z" fill="rgb(117,0,0)"/>
<path d="M418.1 462.4V466.2L414.8 464.3z" fill="rgb(59,0,0)"/>
<path d="M367.5 416.4V427.9L357.5 422.1z" fill="rgb(127,0,0)"/>
<path d="M270.6 347.6V360.4L281.7 354.0z" fill="rgb(209,0,0)"/>
<path d="M264.9 388.7V392.5L268.2 390.6z" fill="rgb(152,0,0)"/>
<path d="M406.9 346.3V358.9L417.8 352.6z" fill="rgb(87,0,0)"/>
<path d="M417.9 412.3V422.2L409.3 417.2z" fill="rgb(78,0,0)"/>
<path d="M360.9 400.1V402.3L359.1 401.2z" fill="rgb(108,0,0)"/>
<path d="M378.7 384.3V389.9L383.6 387.1z" fill="rgb(226,0,0)"/>
<path d="M285.2 336.6V345.6L293.0 341.1z" fill="rgb(226,0,0)"/>
<path d="M229.9 458.5V464.0L225.2 461.3z" fill="rgb(11,0,0)"/>
<path d="M385.1 407.0V414.1L379.0 410.6z" fill="rgb(228,0,0)"/>
<path d="M425.5 371.7V381.9L434.4 376.8z" fill="rgb(3,0,0)"/>
<path d="M314.0 368.2V379.4L323.8 373.8z" fill="rgb(47,0,0)"/>
<path d="M332.4 350.2V363.3L343.8 356.8z" fill="rgb(1,0,0)"/>
<path d="M271.4 455.5V462.2L265.6 458.9z" fill="rgb(166,0,0)"/>
<path d="M384.3 371.7V381.9L393.1 376.8z" fill="rgb(226,0,0)"/>
<path d="M310.8 412.1V422.0L302.2 417.1z" fill="rgb(134,0,0)"/>
<path d="M306.5 466.1V468.4L304.6 467.3z" fill="rgb(141,0,0)"/>
<path d="M235.6 414.0V424.7L226.4 419.3z" fill="rgb(3,0,0)"/>
<path d="M366.5 378.9V386.7L373.2 382.8z" fill="rgb(178,0,0)"/>
<path d="M304.0 448.2V457.6L295.8 452.9z" fill="rgb(180,0,0)"/>
<path d="M349.1 439.1V451.0L338.7 445.0z" fill="rgb(14,0,0)"/>
<path d="M314.6 371.7V381.9L323.5 376.8z" fill="rgb(46,0,0)"/>
<path d="M338.6 353.9V367.2L350.1 360.6z" fill="rgb(15,0,0)"/>
<path d="M331.6 403.4V408.1L327.6 405.7z" fill="rgb(5,0,0)"/>
<path d="M386.1 429.7V443.0L374.6 436.4z" fill="rgb(225,0,0)"/>
<path d="M373.1 345.6V358.0L383.8 351.8z" fill="rgb(220,0,0)"/>
<path d="M351.4 447.2V456.9L343.0 452.0z" fill="rgb(26,0,0)"/>
<path d="M227.1 406.5V413.2L221.3 409.8z" fill="rgb(23,0,0)"/>
<path d="M390.2 373.7V383.3L398.5 378.5z" fill="rgb(207,0,0)"/>
<path d="M421.9 431.5V444.7L410.5 438.1z" fill="rgb(60,0,0)"/>
<path d="M457.8 463.6V467.0L455.0 465.3z" fill="rgb(86,0,0)"/>
<path d="M341.0 451.8V459.9L334.0 455.8z" fill="rgb(1,0,0)"/>
<path d="M339.4 449.1V458.2L331.6 453.7z" fill="rgb(0,0,0)"/>
<path d="M322.3 425.0V438.2L310.9 431.6z" fill="rgb(61,0,0)"/>
<path d="M266.3 433.7V446.6L255.1 440.2z" fill="rgb(109,0,0)"/>
<path d="M396.8 366.2V378.0L407.0 372.1z" fill="rgb(163,0,0)"/>
<path d="M254.1 358.8V371.9L265.4 365.3z" fill="rgb(102,0,0)"/>
<path d="M282.3 289.3V301.7L271.5 295.5z" fill="rgb(212,0,0)"/>
<path d="M396.6 366.0V377.8L406.8 371.9z" fill="rgb(164,0,0)"/>
<path d="M326.7 399.9V401.9L325.0 400.9z" fill="rgb(15,0,0)"/>
<path d="M297.2 377.2V385.6L304.5 381.4z" fill="rgb(174,0,0)"/>
<path d="M302.2 404.0V409.0L297.9 406.5z" fill="rgb(179,0,0)"/>
<path d="M305.6 344.0V356.0L316.0 350.0z" fill="rgb(102,0,0)"/>
<path d="M335.2 406.3V412.8L329.5 409.5z" fill="rgb(1,0,0)"/>
<path d="M357.6 349.0V362.0L368.8 355.5z" fill="rgb(132,0,0)"/>
<path d="M331.9 263.6V273.0L323.7 268.3z" fill="rgb(9,0,0)"/>
<path d="M267.7 363.3V375.6L278.4 369.4z" fill="rgb(194,0,0)"/>
<path d="M255.5 430.4V443.6L244.1 437.0z" fill="rgb(37,0,0)"/>
<path d="M317.9 343.0V354.7L328.0 348.8z" fill="rgb(26,0,0)"/>
<path d="M330.2 366.8V378.4L340.2 372.6z" fill="rgb(0,0,0)"/>
<path d="M344.3 410.8V420.0L336.3 415.4z" fill="rgb(4,0,0)"/>
<path d="M343.2 442.6V453.7L333.6 448.1z" fill="rgb(2,0,0)"/>
<path d="M392.7 372.2V382.3L401.4 377.2z" fill="rgb(193,0,0)"/>
<path d="M302.7 408.1V415.8L296.1 411.9z" fill="rgb(183,0,0)"/>
<path d="M322.3 431.8V444.9L311.0 438.3z" fill="rgb(61,0,0)"/>
<path d="M432.3 431.9V445.0L421.0 438.4z" fill="rgb(10,0,0)"/>
<path d="M458.0 337.0V346.2L466.0 341.6z" fill="rgb(127,0,0)"/>
<path d="M245.3 334.1V341.7L251.9 337.9z" fill="rgb(30,0,0)"/>
<path d="M367.0 360.2V373.1L378.2 366.7z" fill="rgb(195,0,0)"/>
<path d="M278.6 316.8V319.8L276.0 318.3z" fill="rgb(214,0,0)"/>
<path d="M266.5 388.4V392.3L269.9 390.4z" fill="rgb(164,0,0)"/>
<path d="M325.0 330.0V334.9L329.3 332.5z" fill="rgb(10,0,0)"/>
<path d="M274.4 407.4V414.7L268.1 411.0z" fill="rgb(183,0,0)"/>
<path d="M319.7 410.2V419.1L312.0 414.6z" fill="rgb(66,0,0)"/>
<path d="M374.4 428.2V441.4L362.9 434.8z" fill="rgb(171,0,0)"/>
<path d="M334.9 386.1V391.0L339.2 388.5z" fill="rgb(1,0,0)"/>
<path d="M378.5 381.3V388.1L384.5 384.7z" fill="rgb(227,0,0)"/>
<path d="M315.5 343.3V355.1L325.8 349.2z" fill="rgb(37,0,0)"/>
<path d="M355.5 374.2V383.6L363.7 378.9z" fill="rgb(105,0,0)"/>
<path d="M232.2 267.8V279.0L222.4 273.4z" fill="rgb(12,0,0)"/>
<path d="M371.6 416.7V428.3L361.5 422.5z" fill="rgb(156,0,0)"/>
<path d="M457.7 411.0V420.3L449.6 415.7z" fill="rgb(67,0,0)"/>
<path d="M281.7 371.1V381.5L290.7 376.3z" fill="rgb(229,0,0)"/>
<path d="M344.8 432.8V445.8L333.6 439.3z" fill="rgb(3,0,0)"/>
<path d="M517.6 416.9V428.7L507.4 422.8z" fill="rgb(82,0,0)"/>
<path d="M346.6 342.8V354.4L356.6 348.6z" fill="rgb(50,0,0)"/>
<path d="M385.2 356.0V369.2L396.7 362.6z" fill="rgb(220,0,0)"/>
<path d="M319.5 419.4V431.8L308.7 425.6z" fill="rgb(78,0,0)"/>
<path d="M450.5 450.7V459.2L443.1 455.0z" fill="rgb(27,0,0)"/>
<path d="M368.1 350.8V364.0L379.5 357.4z" fill="rgb(201,0,0)"/>
<path d="M295.7 406.2V412.7L290.0 409.5z" fill="rgb(215,0,0)"/>
<path d="M262.0 382.3V388.7L267.6 385.5z" fill="rgb(140,0,0)"/>
<path d="M365.4 413.0V423.3L356.5 418.2z" fill="rgb(115,0,0)"/>
<path d="M332.3 373.9V383.4L340.6 378.6z" fill="rgb(0,0,0)"/>
<path d="M224.9 352.2V365.5L236.4 358.9z" fill="rgb(4,0,0)"/>
<path d="M396.0 452.1V460.1L389.1 456.1z" fill="rgb(214,0,0)"/>
<path d="M381.2 303.7V311.9L374.0 307.8z" fill="rgb(217,0,0)"/>
<path d="M417.4 413.9V424.5L408.2 419.2z" fill="rgb(84,0,0)"/>
<path d="M334.4 430.3V443.5L323.0 436.9z" fill="rgb(6,0,0)"/>
<path d="M395.6 337.3V346.7L403.7 342.0z" fill="rgb(178,0,0)"/>
<path d="M464.3 426.7V439.9L452.7 433.3z" fill="rgb(101,0,0)"/>
<path d="M348.9 331.3V337.2L353.9 334.3z" fill="rgb(49,0,0)"/>
<path d="M238.5 419.9V432.5L227.7 426.2z" fill="rgb(1,0,0)"/>
<path d="M305.9 287.5V300.1L294.9 293.8z" fill="rgb(177,0,0)"/>
<path d="M352.0 418.2V430.4L341.5 424.3z" fill="rgb(25,0,0)"/>
<path d="M315.2 403.0V407.3L311.5 405.1z" fill="rgb(84,0,0)"/>
<path d="M365.2 461.7V465.8L361.6 463.8z" fill="rgb(134,0,0)"/>
<path d="M292.8 365.4V377.3L303.1 371.4z" fill="rgb(191,0,0)"/>
<path d="M338.9 408.6V416.7L332.0 412.7z" fill="rgb(0,0,0)"/>
<path d="M411.7 351.4V364.6L423.1 358.0z" fill="rgb(53,0,0)"/>
<path d="M384.9 430.4V443.6L373.4 437.0z" fill="rgb(222,0,0)"/>
<path d="M366.4 402.5V406.4L363.0 404.5z" fill="rgb(143,0,0)"/>
<path d="M300.5 403.2V407.7L296.6 405.4z" fill="rgb(188,0,0)"/>
<path d="M311.9 458.8V464.2L307.3 461.5z" fill="rgb(111,0,0)"/>
<path d="M250.1 403.3V407.8L246.1 405.6z" fill="rgb(28,0,0)"/>
<path d="M347.3 433.9V446.7L336.2 440.3z" fill="rgb(8,0,0)"/>
<path d="M353.7 373.5V383.1L362.1 378.3z" fill="rgb(93,0,0)"/>
<path d="M386.1 379.8V387.2L392.5 383.5z" fill="rgb(224,0,0)"/>
<path d="M263.9 411.4V421.0L255.6 416.2z" fill="rgb(102,0,0)"/>
<path d="M274.9 427.4V440.7L263.4 434.0z" fill="rgb(170,0,0)"/>
<path d="M375.0 476.6V480.8L378.6 478.7z" fill="rgb(214,0,0)"/>
<path d="M290.0 406.0V412.4L284.5 409.2z" fill="rgb(229,0,0)"/>
<path d="M267.7 382.5V388.9L273.2 385.7z" fill="rgb(179,0,0)"/>
<path d="M355.5 456.7V462.9L350.1 459.8z" fill="rgb(58,0,0)"/>
<path d="M213.0 353.3V366.6L224.5 360.0z" fill="rgb(51,0,0)"/>
<path d="M348.2 348.1V361.0L359.4 354.5z" fill="rgb(64,0,0)"/>
<path d="M282.6 346.1V358.6L293.4 352.3z" fill="rgb(228,0,0)"/>
<path d="M354.6 326.2V328.2L356.4 327.2z" fill="rgb(76,0,0)"/>
<path d="M276.2 378.1V386.1L283.2 382.1z" fill="rgb(222,0,0)"/>
<path d="M258.4 403.8V408.6L254.2 406.2z" fill="rgb(77,0,0)"/>
<path d="M434.1 476.5V480.5L437.7 478.5z" fill="rgb(0,0,0)"/>
<path d="M268.9 334.0V341.5L275.4 337.7z" fill="rgb(189,0,0)"/>
<path d="M354.0 406.3V412.9L348.3 409.6z" fill="rgb(47,0,0)"/>
<path d="M332.1 454.2V461.4L325.8 457.8z" fill="rgb(6,0,0)"/>
<path d="M370.3 331.6V337.6L375.5 334.6z" fill="rgb(196,0,0)"/>
<path d="M386.9 445.2V455.5L378.0 450.4z" fill="rgb(228,0,0)"/>
<path d="M228.6 464.7V467.6L226.2 466.2z" fill="rgb(11,0,0)"/>
<path d="M315.7 428.4V441.7L304.2 435.1z" fill="rgb(109,0,0)"/>
<path d="M341.1 335.1V343.4L348.3 339.2z" fill="rgb(16,0,0)"/>
<path d="M321.7 291.7V303.5L311.5 297.6z" fill="rgb(61,0,0)"/>
<path d="M284.0 464.0V467.2L281.3 465.6z" fill="rgb(228,0,0)"/>
<path d="M254.9 302.6V311.2L247.3 306.9z" fill="rgb(44,0,0)"/>
<path d="M294.5 384.6V390.1L299.2 387.3z" fill="rgb(198,0,0)"/>
<path d="M339.4 417.2V429.0L329.2 423.1z" fill="rgb(0,0,0)"/>
<path d="M358.8 427.6V440.9L347.2 434.3z" fill="rgb(59,0,0)"/>
<path d="M303.9 426.0V439.3L292.4 432.6z" fill="rgb(190,0,0)"/>
<path d="M256.1 361.6V374.2L267.0 367.9z" fill="rgb(115,0,0)"/>
<path d="M370.7 373.2V382.9L379.1 378.1z" fill="rgb(206,0,0)"/>
<path d="M357.0 362.1V374.7L367.9 368.4z" fill="rgb(126,0,0)"/>
<path d="M262.0 337.0V346.3L270.0 341.6z" fill="rgb(148,0,0)"/>
<path d="M355.3 409.6V418.1L347.9 413.9z" fill="rgb(50,0,0)"/>
<path d="M379.4 443.4V454.2L370.1 448.8z" fill="rgb(205,0,0)"/>
<path d="M284.2 456.2V462.6L278.6 459.4z" fill="rgb(226,0,0)"/>
<path d="M415.8 343.7V355.6L426.1 349.6z" fill="rgb(33,0,0)"/>
<path d="M288.5 279.5V292.7L276.9 286.1z" fill="rgb(228,0,0)"/>
<path d="M307.0 445.2V455.5L298.1 450.4z" fill="rgb(162,0,0)"/>
<path d="M286.6 287.5V300.1L275.6 293.8z" fill="rgb(225,0,0)"/>
<path d="M291.0 352.6V365.9L302.5 359.2z" fill="rgb(198,0,0)"/>
<path d="M383.0 369.1V380.1L392.5 374.6z" fill="rgb(227,0,0)"/>
<path d="M262.0 355.6V368.9L273.5 362.3z" fill="rgb(161,0,0)"/>
<path d="M372.4 436.5V449.0L361.6 442.7z" fill="rgb(159,0,0)"/>
<path d="M418.9 416.2V427.7L408.9 422.0z" fill="rgb(76,0,0)"/>
<path d="M236.4 412.9V423.1L227.6 418.0z" fill="rgb(2,0,0)"/>
<path d="M280.4 417.7V429.6L270.0 423.7z" fill="rgb(205,0,0)"/>
<path d="M273.5 402.4V406.3L270.2 404.4z" fill="rgb(187,0,0)"/>
<path d="M385.7 361.7V374.4L396.6 368.0z" fill="rgb(219,0,0)"/>
<path d="M308.3 423.9V437.1L297.0 430.5z" fill="rgb(162,0,0)"/>
<path d="M350.3 381.8V388.5L356.1 385.2z" fill="rgb(60,0,0)"/>
<path d="M307.9 429.3V442.6L296.4 436.0z" fill="rgb(165,0,0)"/>
<path d="M404.3 402.3V406.0L401.0 404.1z" fill="rgb(158,0,0)"/>
<path d="M426.6 349.7V362.8L437.9 356.3z" fill="rgb(1,0,0)"/>
<path d="M367.8 349.1V362.1L379.0 355.6z" fill="rgb(199,0,0)"/>
<path d="M367.1 405.4V411.3L362.0 408.3z" fill="rgb(142,0,0)"/>
<path d="M350.1 336.7V345.8L358.0 341.2z" fill="rgb(66,0,0)"/>
<path d="M286.1 420.4V433.1L275.2 426.7z" fill="rgb(224,0,0)"/>
<path d="M316.3 353.7V367.0L327.8 360.4z" fill="rgb(30,0,0)"/>
<path d="M407.5 403.9V408.8L403.2 406.3z" fill="rgb(139,0,0)"/>
<path d="M308.1 362.1V374.6L319.0 368.3z" fill="rgb(82,0,0)"/>
<path d="M337.7 454.8V461.8L331.6 458.3z" fill="rgb(0,0,0)"/>
<path d="M360.6 342.6V354.1L370.6 348.3z" fill="rgb(150,0,0)"/>
<path d="M357.4 428.0V441.3L345.9 434.7z" fill="rgb(51,0,0)"/>
<path d="M311.4 362.4V374.9L322.2 368.7z" fill="rgb(60,0,0)"/>
<path d="M400.5 412.1V422.0L392.0 417.1z" fill="rgb(198,0,0)"/>
<path d="M336.3 346.3V358.8L347.2 352.6z" fill="rgb(8,0,0)"/>
<path d="M358.5 382.9V389.1L363.9 386.0z" fill="rgb(117,0,0)"/>
<path d="M332.6 402.4V406.2L329.2 404.3z" fill="rgb(3,0,0)"/>
<path d="M300.3 416.1V427.6L290.3 421.9z" fill="rgb(205,0,0)"/>
<path d="M256.0 353.6V366.9L267.6 360.2z" fill="rgb(117,0,0)"/>
<path d="M309.6 411.9V421.6L301.2 416.7z" fill="rgb(142,0,0)"/>
<path d="M362.9 442.0V453.3L353.2 447.6z" fill="rgb(94,0,0)"/>
<path d="M323.8 406.8V413.7L317.8 410.2z" fill="rgb(36,0,0)"/>
<path d="M316.0 464.0V467.2L313.3 465.6z" fill="rgb(74,0,0)"/>
<path d="M322.4 446.5V456.4L313.8 451.5z" fill="rgb(52,0,0)"/>
<path d="M389.7 453.2V460.8L383.2 457.0z" fill="rgb(229,0,0)"/>
<path d="M305.5 404.2V409.3L301.0 406.8z" fill="rgb(158,0,0)"/>
<path d="M325.9 434.7V447.5L314.9 441.1z" fill="rgb(39,0,0)"/>
<path d="M404.2 418.8V431.1L393.5 424.9z" fill="rgb(183,0,0)"/>
<path d="M253.0 346.7V359.3L263.9 353.0z" fill="rgb(93,0,0)"/>
<path d="M358.1 382.5V388.8L363.6 385.7z" fill="rgb(114,0,0)"/>
<path d="M338.7 383.9V389.7L343.7 386.8z" fill="rgb(6,0,0)"/>
<path d="M307.9 414.5V425.4L298.5 420.0z" fill="rgb(158,0,0)"/>
<path d="M367.3 388.9V392.6L370.5 390.7z" fill="rgb(172,0,0)"/>
<path d="M325.7 435.1V447.8L314.7 441.4z" fill="rgb(40,0,0)"/>
<path d="M345.8 419.2V431.5L335.1 425.3z" fill="rgb(5,0,0)"/>
<path d="M334.2 358.6V371.7L345.5 365.2z" fill="rgb(4,0,0)"/>
<path d="M312.3 353.1V366.4L323.9 359.7z" fill="rgb(52,0,0)"/>
<path d="M266.1 414.4V425.3L256.7 419.9z" fill="rgb(114,0,0)"/>
<path d="M251.6 379.9V387.3L258.0 383.6z" fill="rgb(67,0,0)"/>
<path d="M384.7 456.6V462.9L379.3 459.7z" fill="rgb(228,0,0)"/>
<path d="M285.4 349.7V362.8L296.8 356.3z" fill="rgb(221,0,0)"/>
<path d="M299.3 376.2V384.9L306.9 380.5z" fill="rgb(159,0,0)"/>
<path d="M320.0 439.7V451.5L309.7 445.6z" fill="rgb(73,0,0)"/>
<path d="M342.4 420.3V432.9L331.5 426.6z" fill="rgb(0,0,0)"/>
<path d="M409.7 445.6V455.8L400.9 450.7z" fill="rgb(139,0,0)"/>
<path d="M401.4 411.1V420.4L393.3 415.8z" fill="rgb(191,0,0)"/>
<path d="M371.1 384.3V389.9L376.0 387.1z" fill="rgb(199,0,0)"/>
<path d="M338.8 380.4V387.6L345.0 384.0z" fill="rgb(8,0,0)"/>
<path d="M341.5 391.1V393.9L343.9 392.5z" fill="rgb(10,0,0)"/>
<path d="M346.4 404.8V410.4L341.5 407.6z" fill="rgb(14,0,0)"/>
<path d="M296.0 401.4V404.6L293.3 403.0z" fill="rgb(208,0,0)"/>
<path d="M366.0 406.0V412.4L360.5 409.2z" fill="rgb(132,0,0)"/>
<path d="M258.4 333.9V341.4L264.9 337.7z" fill="rgb(116,0,0)"/>
<path d="M354.2 379.6V387.1L360.7 383.3z" fill="rgb(89,0,0)"/>
<path d="M276.7 440.0V451.8L266.5 445.9z" fill="rgb(186,0,0)"/>
<path d="M160.7 400.8V403.4L158.5 402.1z" fill="rgb(97,0,0)"/>
<path d="M326.0 413.5V424.0L316.9 418.7z" fill="rgb(33,0,0)"/>
<path d="M383.2 443.4V454.3L373.8 448.8z" fill="rgb(220,0,0)"/>
<path d="M342.7 361.2V373.9L353.7 367.6z" fill="rgb(32,0,0)"/>
<path d="M381.1 426.4V439.6L369.6 433.0z" fill="rgb(208,0,0)"/>
<path d="M220.9 353.0V366.3L232.4 359.7z" fill="rgb(14,0,0)"/>
<path d="M405.7 407.5V414.8L399.4 411.1z" fill="rgb(159,0,0)"/>
<path d="M408.9 421.2V433.9L397.9 427.5z" fill="rgb(153,0,0)"/>
<path d="M325.7 451.3V459.6L318.5 455.4z" fill="rgb(30,0,0)"/>
<path d="M256.7 412.6V422.6L247.9 417.6z" fill="rgb(51,0,0)"/>
<path d="M371.6 328.4V332.1L374.8 330.2z" fill="rgb(198,0,0)"/>
<path d="M380.6 435.7V448.3L369.6 442.0z" fill="rgb(207,0,0)"/>
<path d="M375.8 411.2V420.6L367.7 415.9z" fill="rgb(190,0,0)"/>
<path d="M423.9 352.1V365.3L435.3 358.7z" fill="rgb(4,0,0)"/>
<path d="M317.9 458.7V464.1L313.2 461.4z" fill="rgb(68,0,0)"/>
<path d="M335.4 319.4V321.2L333.8 320.3z" fill="rgb(0,0,0)"/>
<path d="M516.1 447.7V457.3L507.9 452.5z" fill="rgb(85,0,0)"/>
<path d="M273.5 370.6V381.1L282.7 375.9z" fill="rgb(217,0,0)"/>
<path d="M274.9 407.3V414.5L268.7 410.9z" fill="rgb(187,0,0)"/>
<path d="M337.9 373.5V383.1L346.3 378.3z" fill="rgb(8,0,0)"/>
<path d="M413.1 415.0V426.1L403.5 420.6z" fill="rgb(116,0,0)"/>
<path d="M262.5 376.5V385.1L269.9 380.8z" fill="rgb(150,0,0)"/>
<path d="M325.7 373.4V383.1L334.1 378.2z" fill="rgb(4,0,0)"/>
<path d="M304.8 327.6V330.7L307.5 329.2z" fill="rgb(137,0,0)"/>
<path d="M282.7 411.5V421.0L274.4 416.3z" fill="rgb(218,0,0)"/>
<path d="M306.8 411.8V421.5L298.3 416.6z" fill="rgb(163,0,0)"/>
<path d="M255.1 460.5V465.1L251.1 462.8z" fill="rgb(56,0,0)"/>
<path d="M317.0 406.2V412.7L311.3 409.5z" fill="rgb(78,0,0)"/>
<path d="M302.7 494.9V507.7L313.7 501.3z" fill="rgb(122,0,0)"/>
<path d="M272.2 492.2V504.4L282.8 498.3z" fill="rgb(215,0,0)"/>
<path d="M311.8 456.1V462.6L306.3 459.4z" fill="rgb(115,0,0)"/>
<path d="M191.4 341.2V352.4L201.0 346.8z" fill="rgb(204,0,0)"/>
<path d="M370.9 379.6V387.1L377.4 383.3z" fill="rgb(203,0,0)"/>
<path d="M243.6 405.4V411.4L238.4 408.4z" fill="rgb(5,0,0)"/>
<path d="M311.8 377.5V385.8L319.0 381.6z" fill="rgb(69,0,0)"/>
<path d="M281.8 387.2V391.6L285.6 389.4z" fill="rgb(229,0,0)"/>
<path d="M255.5 448.0V457.4L247.3 452.7z" fill="rgb(46,0,0)"/>
<path d="M316.6 382.8V389.0L322.0 385.9z" fill="rgb(45,0,0)"/>
<path d="M275.5 410.0V418.9L267.9 414.4z" fill="rgb(186,0,0)"/>
<path d="M345.2 478.7V484.3L350.0 481.5z" fill="rgb(29,0,0)"/>
<path d="M267.9 443.7V454.5L258.6 449.1z" fill="rgb(128,0,0)"/>
<path d="M270.6 360.7V373.5L281.7 367.1z" fill="rgb(209,0,0)"/>
<path d="M388.3 404.7V410.3L383.6 407.5z" fill="rgb(229,0,0)"/>
<path d="M266.0 430.5V443.7L254.5 437.1z" fill="rgb(106,0,0)"/>
<path d="M385.3 419.6V432.1L374.5 425.9z" fill="rgb(224,0,0)"/>
<path d="M344.8 411.3V420.8L336.6 416.1z" fill="rgb(5,0,0)"/>
<path d="M321.8 410.3V419.3L314.0 414.8z" fill="rgb(53,0,0)"/>
<path d="M247.1 382.0V388.6L252.7 385.3z" fill="rgb(37,0,0)"/>
<path d="M230.6 383.1V389.2L235.9 386.1z" fill="rgb(1,0,0)"/>
<path d="M388.4 419.5V431.9L377.6 425.7z" fill="rgb(229,0,0)"/>
<path d="M346.3 449.3V458.3L338.5 453.8z" fill="rgb(9,0,0)"/>
<path d="M409.3 344.4V356.5L419.7 350.4z" fill="rgb(72,0,0)"/>
<path d="M419.4 408.2V415.9L412.7 412.1z" fill="rgb(61,0,0)"/>
<path d="M337.0 460.5V465.1L333.0 462.8z" fill="rgb(0,0,0)"/>
<path d="M304.2 437.2V449.5L293.5 443.3z" fill="rgb(186,0,0)"/>
<path d="M401.0 349.2V362.3L412.3 355.8z" fill="rgb(129,0,0)"/>
<path d="M308.6 390.7V393.7L311.1 392.2z" fill="rgb(109,0,0)"/>
<path d="M372.8 430.5V443.7L361.4 437.1z" fill="rgb(160,0,0)"/>
<path d="M438.0 404.8V410.4L433.1 407.6z" fill="rgb(0,0,0)"/>
<path d="M397.1 406.5V413.2L391.3 409.8z" fill="rgb(208,0,0)"/>
<path d="M341.1 425.1V438.3L329.7 431.7z" fill="rgb(0,0,0)"/>
<path d="M257.7 240.7V244.7L261.1 242.7z" fill="rgb(99,0,0)"/>
<path d="M434.8 410.1V418.9L427.1 414.5z" fill="rgb(2,0,0)"/>
<path d="M351.8 411.0V420.3L343.7 415.6z" fill="rgb(29,0,0)"/>
<path d="M412.7 460.8V465.3L408.7 463.0z" fill="rgb(99,0,0)"/>
<path d="M317.8 413.2V423.6L308.8 418.4z" fill="rgb(84,0,0)"/>
<path d="M377.3 440.0V451.7L367.2 445.8z" fill="rgb(193,0,0)"/>
<path d="M364.7 401.9V405.5L361.6 403.7z" fill="rgb(132,0,0)"/>
<path d="M313.1 363.4V375.7L323.7 369.6z" fill="rgb(50,0,0)"/>
<path d="M292.1 381.6V388.3L297.9 385.0z" fill="rgb(207,0,0)"/>
<path d="M273.9 419.6V432.0L263.1 425.8z" fill="rgb(166,0,0)"/>
<path d="M364.3 401.5V404.6L361.6 403.0z" fill="rgb(130,0,0)"/>
<path d="M459.5 392.8V394.8L461.3 393.8z" fill="rgb(115,0,0)"/>
<path d="M411.4 342.6V354.1L421.4 348.3z" fill="rgb(59,0,0)"/>
<path d="M383.3 422.8V435.8L372.0 429.3z" fill="rgb(217,0,0)"/>
<path d="M345.9 380.0V387.3L352.2 383.7z" fill="rgb(36,0,0)"/>
<path d="M317.2 428.9V442.2L305.7 435.5z" fill="rgb(97,0,0)"/>
<path d="M346.9 422.7V435.7L335.6 429.2z" fill="rgb(6,0,0)"/>
<path d="M337.9 333.7V341.1L344.3 337.4z" fill="rgb(6,0,0)"/>
<path d="M350.6 383.0V389.2L355.9 386.1z" fill="rgb(61,0,0)"/>
<path d="M298.7 401.8V405.2L295.7 403.5z" fill="rgb(196,0,0)"/>
<path d="M373.0 482.0V489.8L379.8 485.9z" fill="rgb(213,0,0)"/>
<path d="M223.1 459.0V464.3L218.6 461.6z" fill="rgb(39,0,0)"/>
<path d="M338.9 375.4V384.4L346.7 379.9z" fill="rgb(10,0,0)"/>
<path d="M309.5 364.2V376.4L320.1 370.3z" fill="rgb(73,0,0)"/>
<path d="M382.5 327.5V330.6L385.2 329.0z" fill="rgb(229,0,0)"/>
<path d="M347.0 281.9V295.1L335.6 288.5z" fill="rgb(6,0,0)"/>
<path d="M269.4 354.8V368.1L281.0 361.4z" fill="rgb(205,0,0)"/>
<path d="M352.8 335.3V343.6L360.0 339.4z" fill="rgb(82,0,0)"/>
<path d="M412.4 405.1V410.9L407.4 408.0z" fill="rgb(104,0,0)"/>
<path d="M295.6 403.9V408.8L291.4 406.3z" fill="rgb(213,0,0)"/>
<path d="M366.5 378.7V386.5L373.3 382.6z" fill="rgb(179,0,0)"/>
<path d="M423.3 333.8V341.2L429.7 337.5z" fill="rgb(11,0,0)"/>
<path d="M382.3 456.5V462.8L376.8 459.6z" fill="rgb(223,0,0)"/>
<path d="M339.5 340.5V351.3L348.9 345.9z" fill="rgb(15,0,0)"/>
<path d="M340.7 413.6V424.2L331.6 418.9z" fill="rgb(0,0,0)"/>
<path d="M295.1 388.8V392.6L298.3 390.7z" fill="rgb(198,0,0)"/>
<path d="M386.2 358.2V371.3L397.5 364.8z" fill="rgb(217,0,0)"/>
<path d="M283.8 403.8V408.8L279.6 406.3z" fill="rgb(226,0,0)"/>
<path d="M325.9 375.5V384.5L333.6 380.0z" fill="rgb(4,0,0)"/>
<path d="M419.3 436.7V449.1L408.5 442.9z" fill="rgb(76,0,0)"/>
<path d="M367.4 302.0V310.8L359.8 306.4z" fill="rgb(135,0,0)"/>
<path d="M375.1 416.5V428.1L365.0 422.3z" fill="rgb(180,0,0)"/>
<path d="M408.9 483.7V492.5L416.5 488.1z" fill="rgb(84,0,0)"/>
<path d="M321.5 414.1V424.8L312.2 419.4z" fill="rgb(60,0,0)"/>
<path d="M220.6 415.6V426.9L210.8 421.3z" fill="rgb(71,0,0)"/>
<path d="M212.9 403.5V408.2L208.8 405.8z" fill="rgb(106,0,0)"/>
<path d="M200.0 336.3V345.1L207.6 340.7z" fill="rgb(158,0,0)"/>
<path d="M334.7 333.8V341.2L341.1 337.5z" fill="rgb(1,0,0)"/>
<path d="M214.4 420.0V432.5L203.6 426.2z" fill="rgb(120,0,0)"/>
<path d="M392.8 383.7V389.6L397.9 386.6z" fill="rgb(202,0,0)"/>
<path d="M344.8 406.3V412.8L339.1 409.5z" fill="rgb(8,0,0)"/>
<path d="M320.6 372.8V382.7L329.2 377.8z" fill="rgb(18,0,0)"/>
<path d="M332.5 338.7V348.7L341.2 343.7z" fill="rgb(0,0,0)"/>
<path d="M313.9 425.5V438.8L302.5 432.2z" fill="rgb(122,0,0)"/>
<path d="M370.0 413.7V424.2L360.9 419.0z" fill="rgb(149,0,0)"/>
<path d="M378.8 453.7V461.1L372.5 457.4z" fill="rgb(209,0,0)"/>
<path d="M190.8 355.4V368.6L202.2 362.0z" fill="rgb(202,0,0)"/>
<path d="M398.7 365.3V377.2L409.0 371.2z" fill="rgb(149,0,0)"/>
<path d="M388.3 359.4V372.3L399.5 365.9z" fill="rgb(209,0,0)"/>
<path d="M431.4 392.9V394.9L433.1 393.9z" fill="rgb(1,0,0)"/>
<path d="M427.7 407.7V415.2L421.3 411.4z" fill="rgb(17,0,0)"/>
<path d="M362.0 423.2V436.3L350.7 429.8z" fill="rgb(82,0,0)"/>
<path d="M415.9 432.4V445.5L404.6 438.9z" fill="rgb(102,0,0)"/>
<path d="M340.9 490.0V501.4L350.9 495.7z" fill="rgb(21,0,0)"/>
<path d="M332.4 391.2V393.9L334.8 392.5z" fill="rgb(0,0,0)"/>
<path d="M293.4 506.9V519.9L304.6 513.4z" fill="rgb(185,0,0)"/>
<path d="M289.4 351.2V364.4L300.9 357.8z" fill="rgb(206,0,0)"/>
<path d="M307.9 440.8V452.3L297.9 446.5z" fill="rgb(160,0,0)"/>
<path d="M328.6 432.2V445.3L317.3 438.7z" fill="rgb(26,0,0)"/>
<path d="M374.9 486.3V496.3L383.5 491.3z" fill="rgb(222,0,0)"/>
<path d="M321.4 416.6V428.2L311.4 422.4z" fill="rgb(63,0,0)"/>
<path d="M369.4 325.9V327.7L370.9 326.8z" fill="rgb(180,0,0)"/>
<path d="M311.0 404.9V410.5L306.1 407.7z" fill="rgb(119,0,0)"/>
<path d="M337.5 495.4V508.2L348.7 501.8z" fill="rgb(11,0,0)"/>
<path d="M382.5 420.8V433.5L371.5 427.1z" fill="rgb(215,0,0)"/>
<path d="M292.4 302.7V311.3L285.0 307.0z" fill="rgb(227,0,0)"/>
<path d="M329.6 375.2V384.3L337.5 379.7z" fill="rgb(0,0,0)"/>
<path d="M319.3 416.7V428.3L309.2 422.5z" fill="rgb(77,0,0)"/>
<path d="M309.6 409.6V418.2L302.2 413.9z" fill="rgb(139,0,0)"/>
<path d="M370.2 341.8V353.2L380.0 347.5z" fill="rgb(207,0,0)"/>
<path d="M336.0 426.1V439.4L324.5 432.7z" fill="rgb(3,0,0)"/>
<path d="M393.7 315.8V319.2L390.7 317.5z" fill="rgb(216,0,0)"/>
<path d="M381.4 422.2V435.1L370.2 428.7z" fill="rgb(210,0,0)"/>
<path d="M380.0 328.6V332.5L383.4 330.6z" fill="rgb(227,0,0)"/>
<path d="M362.9 374.6V383.9L370.9 379.3z" fill="rgb(159,0,0)"/>
<path d="M360.6 384.3V390.0L365.5 387.1z" fill="rgb(131,0,0)"/>
<path d="M290.7 428.7V442.0L279.2 435.3z" fill="rgb(229,0,0)"/>
<path d="M375.7 384.2V389.9L380.7 387.0z" fill="rgb(219,0,0)"/>
<path d="M310.3 416.1V427.5L300.4 421.8z" fill="rgb(143,0,0)"/>
<path d="M339.1 389.2V392.8L342.2 391.0z" fill="rgb(5,0,0)"/>
<path d="M237.6 403.4V408.0L233.6 405.7z" fill="rgb(0,0,0)"/>
<path d="M391.2 443.8V454.6L381.9 449.2z" fill="rgb(229,0,0)"/>
<path d="M262.7 379.4V387.0L269.3 383.2z" fill="rgb(148,0,0)"/>
<path d="M406.9 337.3V346.7L415.1 342.0z" fill="rgb(97,0,0)"/>
</g>
<rect x="81.5" y="206.5" width="481" height="361" fill="none" stroke="#474747"/>
<line x1="81.8" y1="564.6" x2="81.8" y2="570" stroke="#1a1a1a" stroke-width="1.5"/>
<g fill="none" stroke-width="0.95" stroke-linecap="butt" stroke-linejoin="miter"><path transform="translate(74.60 573.00) scale(1.000)" d="M0 5.6H5.8" stroke="#8a8a8a"/><path transform="translate(81.80 573.00) scale(1.000)" d="M5.9 9V0.4L0.4 5.4H7.2" stroke="#5a5a5a"/></g>
<line x1="145.1" y1="564.6" x2="145.1" y2="570" stroke="#1a1a1a" stroke-width="1.5"/>
<g fill="none" stroke-width="0.95" stroke-linecap="butt" stroke-linejoin="miter"><path transform="translate(138.00 573.00) scale(1.000)" d="M0 5.6H5.8" stroke="#8a8a8a"/><path transform="translate(145.20 573.00) scale(1.000)" d="M0.5 1.3C2 0 6.3 0 6.3 2.3C6.3 4 4.5 4.3 2.6 4.3C4.8 4.3 6.8 4.8 6.8 6.5C6.8 9.2 2 9.2 0.3 7.6" stroke="#5a5a5a"/></g>
<line x1="208.4" y1="564.6" x2="208.4" y2="570" stroke="#1a1a1a" stroke-width="1.5"/>
<g fill="none" stroke-width="0.95" stroke-linecap="butt" stroke-linejoin="miter"><path transform="translate(201.55 573.00) scale(1.000)" d="M0 5.6H5.8" stroke="#8a8a8a"/><path transform="translate(208.75 573.00) scale(1.000)" d="M0.4 1.9C1.2 0.2 5.9 -0.3 5.9 2.4C5.9 3.6 5 4.3 0.4 8.6H6.4" stroke="#5a5a5a"/></g>
<line x1="271.7" y1="564.6" x2="271.7" y2="570" stroke="#6e6e6e" stroke-width="1.5"/>
<g fill="none" stroke-width="0.95" stroke-linecap="butt" stroke-linejoin="miter"><path transform="translate(266.40 573.00) scale(1.000)" d="M0 5.6H5.8" stroke="#8a8a8a"/><path transform="translate(273.60 573.00) scale(1.000)" d="M0.3 3.2L3 0.4V9" stroke="#5a5a5a"/></g>
<line x1="335.0" y1="564.6" x2="335.0" y2="570" stroke="#6e6e6e" stroke-width="1.5"/>
<g fill="none" stroke-width="0.95" stroke-linecap="butt" stroke-linejoin="miter"><path transform="translate(331.25 573.00) scale(1.000)" d="M3.75 0.4C1.55 0.4 0.45 2.2 0.45 4.5C0.45 6.8 1.55 8.6 3.75 8.6C5.95 8.6 7.05 6.8 7.05 4.5C7.05 2.2 5.95 0.4 3.75 0.4Z" stroke="#5a5a5a"/></g>
<line x1="398.3" y1="564.6" x2="398.3" y2="570" stroke="#1a1a1a" stroke-width="1.5"/>
<g fill="none" stroke-width="0.95" stroke-linecap="butt" stroke-linejoin="miter"><path transform="translate(396.60 573.00) scale(1.000)" d="M0.3 3.2L3 0.4V9" stroke="#5a5a5a"/></g>
<line x1="461.6" y1="564.6" x2="461.6" y2="570" stroke="#1a1a1a" stroke-width="1.5"/>
<g fill="none" stroke-width="0.95" stroke-linecap="butt" stroke-linejoin="miter"><path transform="translate(458.35 573.00) scale(1.000)" d="M0.4 1.9C1.2 0.2 5.9 -0.3 5.9 2.4C5.9 3.6 5 4.3 0.4 8.6H6.4" stroke="#5a5a5a"/></g>
<line x1="524.9" y1="564.6" x2="524.9" y2="570" stroke="#1a1a1a" stroke-width="1.5"/>
<g fill="none" stroke-width="0.95" stroke-linecap="butt" stroke-linejoin="miter"><path transform="translate(521.40 573.00) scale(1.000)" d="M0.5 1.3C2 0 6.3 0 6.3 2.3C6.3 4 4.5 4.3 2.6 4.3C4.8 4.3 6.8 4.8 6.8 6.5C6.8 9.2 2 9.2 0.3 7.6" stroke="#5a5a5a"/></g>
<line x1="113.5" y1="566" x2="113.5" y2="569" stroke="#9a9a9a" stroke-width="1"/>
<line x1="176.8" y1="566" x2="176.8" y2="569" stroke="#9a9a9a" stroke-width="1"/>
<line x1="240.1" y1="566" x2="240.1" y2="569" stroke="#9a9a9a" stroke-width="1"/>
<line x1="303.4" y1="566" x2="303.4" y2="569" stroke="#9a9a9a" stroke-width="1"/>
<line x1="366.6" y1="566" x2="366.6" y2="569" stroke="#9a9a9a" stroke-width="1"/>
<line x1="429.9" y1="566" x2="429.9" y2="569" stroke="#9a9a9a" stroke-width="1"/>
<line x1="493.2" y1="566" x2="493.2" y2="569" stroke="#9a9a9a" stroke-width="1"/>
<line x1="77.8" y1="209.4" x2="85" y2="209.4" stroke="#2a2a2a" stroke-width="1.1"/>
<g fill="none" stroke-width="0.95" stroke-linecap="butt" stroke-linejoin="miter"><path transform="translate(67.00 205.00) scale(1.000)" d="M5.9 9V0.4L0.4 5.4H7.2" stroke="#5a5a5a"/></g>
<line x1="77.8" y1="303.4" x2="85" y2="303.4" stroke="#2a2a2a" stroke-width="1.1"/>
<g fill="none" stroke-width="0.95" stroke-linecap="butt" stroke-linejoin="miter"><path transform="translate(67.70 299.00) scale(1.000)" d="M0.4 1.9C1.2 0.2 5.9 -0.3 5.9 2.4C5.9 3.6 5 4.3 0.4 8.6H6.4" stroke="#5a5a5a"/></g>
<line x1="77.8" y1="397.4" x2="85" y2="397.4" stroke="#2a2a2a" stroke-width="1.1"/>
<g fill="none" stroke-width="0.95" stroke-linecap="butt" stroke-linejoin="miter"><path transform="translate(66.70 393.00) scale(1.000)" d="M3.75 0.4C1.55 0.4 0.45 2.2 0.45 4.5C0.45 6.8 1.55 8.6 3.75 8.6C5.95 8.6 7.05 6.8 7.05 4.5C7.05 2.2 5.95 0.4 3.75 0.4Z" stroke="#5a5a5a"/></g>
<line x1="77.8" y1="491.0" x2="85" y2="491.0" stroke="#7a7a7a" stroke-width="1.1"/>
<g fill="none" stroke-width="0.95" stroke-linecap="butt" stroke-linejoin="miter"><path transform="translate(60.50 486.60) scale(1.000)" d="M0 5.6H5.8" stroke="#8a8a8a"/><path transform="translate(67.70 486.60) scale(1.000)" d="M0.4 1.9C1.2 0.2 5.9 -0.3 5.9 2.4C5.9 3.6 5 4.3 0.4 8.6H6.4" stroke="#5a5a5a"/></g>
<line x1="80" y1="256.4" x2="83.5" y2="256.4" stroke="#aaa" stroke-width="1"/>
<line x1="80" y1="350.4" x2="83.5" y2="350.4" stroke="#aaa" stroke-width="1"/>
<line x1="80" y1="444.4" x2="83.5" y2="444.4" stroke="#aaa" stroke-width="1"/>
<line x1="80" y1="538.4" x2="83.5" y2="538.4" stroke="#aaa" stroke-width="1"/>
<path d="M531 584.3L538.2 593.3M538.2 584.3L531 593.3" stroke="#222" stroke-width="1.3" fill="none"/>
<path d="M54.6 219.4V225.2C54.6 227.8 56 229.2 58.2 229.2C60.4 229.2 61.7 227.8 61.7 225.2M61.7 219.4V229.3C61.7 231.4 60.4 232.3 58.4 232.3H55.2" stroke="#222" stroke-width="1.3" fill="none"/>
</svg>
</body></html>
